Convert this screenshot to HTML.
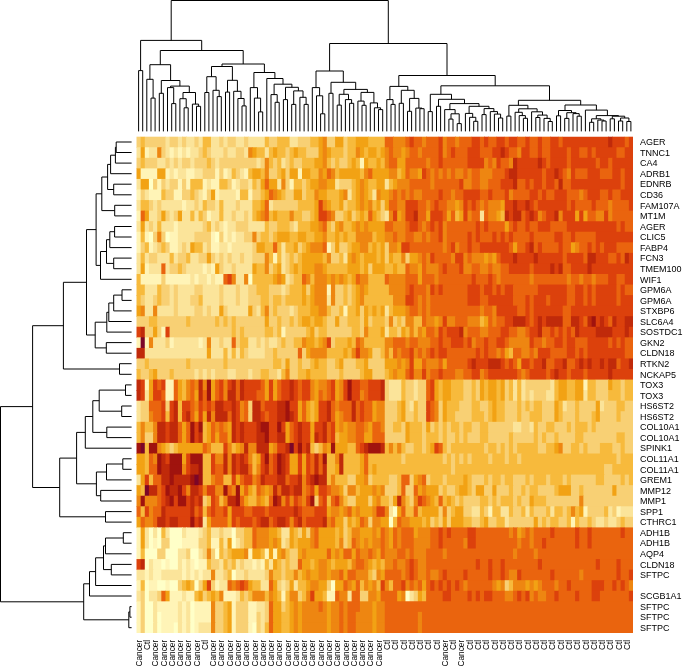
<!DOCTYPE html>
<html><head><meta charset="utf-8"><title>Heatmap</title>
<style>html,body{margin:0;padding:0;background:#fff}svg{display:block}text{font-family:"Liberation Sans",Arial,Helvetica,sans-serif;fill:#000}.a{fill:#FFFFC8}.b{fill:#FFF4B7}.c{fill:#FBE49A}.d{fill:#F8D074}.e{fill:#F7BA3C}.f{fill:#F2A214}.g{fill:#EE8611}.h{fill:#EA640E}.i{fill:#DC410C}.j{fill:#C02A0A}.k{fill:#A0130E}.l{fill:#7B0628}</style></head>
<body>
<svg width="685" height="666" viewBox="0 0 685 666">
<rect width="685" height="666" fill="#fff"/>
<g>
<path class="d" d="M136.5 136.7H141V148H136.5z"/>
<path class="e" d="M140.64 136.7H145V148H140.64z"/>
<path class="d" d="M144.78 136.7H166V148H144.78z"/>
<path class="c" d="M165.46 136.7H170V148H165.46z"/>
<path class="d" d="M169.6 136.7H178V148H169.6z"/>
<path class="c" d="M177.88 136.7H183V148H177.88z"/>
<path class="d" d="M182.01 136.7H187V148H182.01z"/>
<path class="c" d="M186.15 136.7H195V148H186.15z"/>
<path class="d" d="M194.43 136.7H199V148H194.43z"/>
<path class="c" d="M198.56 136.7H203V148H198.56z"/>
<path class="e" d="M202.7 136.7H211V148H202.7z"/>
<path class="c" d="M210.98 136.7H220V148H210.98z"/>
<path class="d" d="M219.25 136.7H224V148H219.25z"/>
<path class="c" d="M223.39 136.7H228V148H223.39z"/>
<path class="d" d="M227.53 136.7H236V148H227.53z"/>
<path class="c" d="M235.8 136.7H245V148H235.8z"/>
<path class="d" d="M244.07 136.7H249V148H244.07z"/>
<path class="c" d="M248.21 136.7H265V148H248.21z"/>
<path class="e" d="M264.76 136.7H269V148H264.76z"/>
<path class="d" d="M268.9 136.7H278V148H268.9z"/>
<path class="e" d="M277.18 136.7H290V148H277.18z"/>
<path class="c" d="M289.59 136.7H298V148H289.59z"/>
<path class="d" d="M297.86 136.7H311V148H297.86z"/>
<path class="e" d="M310.27 136.7H319V148H310.27z"/>
<path class="f" d="M318.55 136.7H323V148H318.55z"/>
<path class="g" d="M322.69 136.7H327V148H322.69z"/>
<path class="d" d="M326.83 136.7H336V148H326.83z"/>
<path class="f" d="M335.1 136.7H344V148H335.1z"/>
<path class="d" d="M343.38 136.7H348V148H343.38z"/>
<path class="e" d="M347.51 136.7H356V148H347.51z"/>
<path class="f" d="M355.79 136.7H369V148H355.79z"/>
<path class="e" d="M368.2 136.7H385V148H368.2z"/>
<path class="h" d="M384.75 136.7H394V148H384.75z"/>
<path class="g" d="M393.03 136.7H406V148H393.03z"/>
<path class="h" d="M405.44 136.7H410V148H405.44z"/>
<path class="i" d="M409.57 136.7H414V148H409.57z"/>
<path class="h" d="M413.71 136.7H422V148H413.71z"/>
<path class="g" d="M421.99 136.7H427V148H421.99z"/>
<path class="h" d="M426.12 136.7H439V148H426.12z"/>
<path class="i" d="M438.54 136.7H443V148H438.54z"/>
<path class="g" d="M442.68 136.7H447V148H442.68z"/>
<path class="h" d="M446.81 136.7H456V148H446.81z"/>
<path class="g" d="M455.09 136.7H460V148H455.09z"/>
<path class="h" d="M459.23 136.7H472V148H459.23z"/>
<path class="i" d="M471.64 136.7H480V148H471.64z"/>
<path class="h" d="M479.91 136.7H485V148H479.91z"/>
<path class="i" d="M484.05 136.7H489V148H484.05z"/>
<path class="h" d="M488.19 136.7H497V148H488.19z"/>
<path class="i" d="M496.46 136.7H505V148H496.46z"/>
<path class="h" d="M504.74 136.7H509V148H504.74z"/>
<path class="i" d="M508.88 136.7H518V148H508.88z"/>
<path class="h" d="M517.15 136.7H526V148H517.15z"/>
<path class="i" d="M525.42 136.7H530V148H525.42z"/>
<path class="h" d="M529.56 136.7H538V148H529.56z"/>
<path class="i" d="M537.84 136.7H542V148H537.84z"/>
<path class="h" d="M541.98 136.7H551V148H541.98z"/>
<path class="i" d="M550.25 136.7H559V148H550.25z"/>
<path class="h" d="M558.53 136.7H563V148H558.53z"/>
<path class="i" d="M562.66 136.7H609V148H562.66z"/>
<path class="j" d="M608.17 136.7H613V148H608.17z"/>
<path class="i" d="M612.31 136.7H625V148H612.31z"/>
<path class="h" d="M624.73 136.7H629V148H624.73z"/>
<path class="i" d="M628.86 136.7H633V148H628.86z"/>
<path class="c" d="M136.5 147.26H141V158H136.5z"/>
<path class="f" d="M140.64 147.26H145V158H140.64z"/>
<path class="b" d="M144.78 147.26H149V158H144.78z"/>
<path class="c" d="M148.91 147.26H158V158H148.91z"/>
<path class="g" d="M157.19 147.26H162V158H157.19z"/>
<path class="d" d="M161.32 147.26H166V158H161.32z"/>
<path class="c" d="M165.46 147.26H170V158H165.46z"/>
<path class="b" d="M169.6 147.26H174V158H169.6z"/>
<path class="c" d="M173.74 147.26H178V158H173.74z"/>
<path class="b" d="M177.88 147.26H183V158H177.88z"/>
<path class="c" d="M182.01 147.26H187V158H182.01z"/>
<path class="b" d="M186.15 147.26H191V158H186.15z"/>
<path class="c" d="M190.29 147.26H199V158H190.29z"/>
<path class="d" d="M198.56 147.26H203V158H198.56z"/>
<path class="e" d="M202.7 147.26H207V158H202.7z"/>
<path class="d" d="M206.84 147.26H211V158H206.84z"/>
<path class="c" d="M210.98 147.26H224V158H210.98z"/>
<path class="d" d="M223.39 147.26H228V158H223.39z"/>
<path class="c" d="M227.53 147.26H236V158H227.53z"/>
<path class="d" d="M235.8 147.26H245V158H235.8z"/>
<path class="c" d="M244.07 147.26H249V158H244.07z"/>
<path class="g" d="M248.21 147.26H253V158H248.21z"/>
<path class="f" d="M252.35 147.26H257V158H252.35z"/>
<path class="e" d="M256.49 147.26H265V158H256.49z"/>
<path class="c" d="M264.76 147.26H269V158H264.76z"/>
<path class="e" d="M268.9 147.26H274V158H268.9z"/>
<path class="f" d="M273.04 147.26H278V158H273.04z"/>
<path class="e" d="M277.18 147.26H286V158H277.18z"/>
<path class="d" d="M285.45 147.26H290V158H285.45z"/>
<path class="e" d="M289.59 147.26H294V158H289.59z"/>
<path class="f" d="M293.73 147.26H298V158H293.73z"/>
<path class="e" d="M297.86 147.26H307V158H297.86z"/>
<path class="d" d="M306.14 147.26H319V158H306.14z"/>
<path class="f" d="M318.55 147.26H323V158H318.55z"/>
<path class="g" d="M322.69 147.26H327V158H322.69z"/>
<path class="f" d="M326.83 147.26H331V158H326.83z"/>
<path class="e" d="M330.96 147.26H344V158H330.96z"/>
<path class="d" d="M343.38 147.26H348V158H343.38z"/>
<path class="e" d="M347.51 147.26H356V158H347.51z"/>
<path class="g" d="M355.79 147.26H360V158H355.79z"/>
<path class="f" d="M359.93 147.26H365V158H359.93z"/>
<path class="e" d="M364.06 147.26H369V158H364.06z"/>
<path class="f" d="M368.2 147.26H377V158H368.2z"/>
<path class="e" d="M376.48 147.26H381V158H376.48z"/>
<path class="f" d="M380.61 147.26H385V158H380.61z"/>
<path class="g" d="M384.75 147.26H389V158H384.75z"/>
<path class="h" d="M388.89 147.26H394V158H388.89z"/>
<path class="g" d="M393.03 147.26H402V158H393.03z"/>
<path class="f" d="M401.3 147.26H406V158H401.3z"/>
<path class="g" d="M405.44 147.26H410V158H405.44z"/>
<path class="h" d="M409.57 147.26H418V158H409.57z"/>
<path class="g" d="M417.85 147.26H422V158H417.85z"/>
<path class="h" d="M421.99 147.26H439V158H421.99z"/>
<path class="i" d="M438.54 147.26H443V158H438.54z"/>
<path class="g" d="M442.68 147.26H447V158H442.68z"/>
<path class="h" d="M446.81 147.26H451V158H446.81z"/>
<path class="i" d="M450.95 147.26H456V158H450.95z"/>
<path class="h" d="M455.09 147.26H468V158H455.09z"/>
<path class="i" d="M467.5 147.26H480V158H467.5z"/>
<path class="h" d="M479.91 147.26H493V158H479.91z"/>
<path class="i" d="M492.32 147.26H501V158H492.32z"/>
<path class="j" d="M500.6 147.26H505V158H500.6z"/>
<path class="i" d="M504.74 147.26H509V158H504.74z"/>
<path class="h" d="M508.88 147.26H518V158H508.88z"/>
<path class="g" d="M517.15 147.26H522V158H517.15z"/>
<path class="i" d="M521.29 147.26H530V158H521.29z"/>
<path class="h" d="M529.56 147.26H538V158H529.56z"/>
<path class="i" d="M537.84 147.26H542V158H537.84z"/>
<path class="h" d="M541.98 147.26H551V158H541.98z"/>
<path class="i" d="M550.25 147.26H567V158H550.25z"/>
<path class="h" d="M566.8 147.26H571V158H566.8z"/>
<path class="i" d="M570.94 147.26H580V158H570.94z"/>
<path class="h" d="M579.21 147.26H588V158H579.21z"/>
<path class="i" d="M587.49 147.26H592V158H587.49z"/>
<path class="h" d="M591.62 147.26H596V158H591.62z"/>
<path class="i" d="M595.76 147.26H617V158H595.76z"/>
<path class="h" d="M616.45 147.26H625V158H616.45z"/>
<path class="i" d="M624.73 147.26H633V158H624.73z"/>
<path class="d" d="M136.5 157.82H141V169H136.5z"/>
<path class="e" d="M140.64 157.82H145V169H140.64z"/>
<path class="d" d="M144.78 157.82H158V169H144.78z"/>
<path class="c" d="M157.19 157.82H166V169H157.19z"/>
<path class="d" d="M165.46 157.82H170V169H165.46z"/>
<path class="c" d="M169.6 157.82H174V169H169.6z"/>
<path class="d" d="M173.74 157.82H178V169H173.74z"/>
<path class="c" d="M177.88 157.82H183V169H177.88z"/>
<path class="d" d="M182.01 157.82H191V169H182.01z"/>
<path class="c" d="M190.29 157.82H195V169H190.29z"/>
<path class="d" d="M194.43 157.82H207V169H194.43z"/>
<path class="e" d="M206.84 157.82H211V169H206.84z"/>
<path class="d" d="M210.98 157.82H216V169H210.98z"/>
<path class="c" d="M215.11 157.82H220V169H215.11z"/>
<path class="d" d="M219.25 157.82H257V169H219.25z"/>
<path class="c" d="M256.49 157.82H261V169H256.49z"/>
<path class="d" d="M260.62 157.82H265V169H260.62z"/>
<path class="g" d="M264.76 157.82H269V169H264.76z"/>
<path class="e" d="M268.9 157.82H274V169H268.9z"/>
<path class="d" d="M273.04 157.82H278V169H273.04z"/>
<path class="e" d="M277.18 157.82H282V169H277.18z"/>
<path class="c" d="M281.31 157.82H286V169H281.31z"/>
<path class="d" d="M285.45 157.82H290V169H285.45z"/>
<path class="e" d="M289.59 157.82H294V169H289.59z"/>
<path class="d" d="M293.73 157.82H302V169H293.73z"/>
<path class="e" d="M302 157.82H315V169H302z"/>
<path class="f" d="M314.41 157.82H323V169H314.41z"/>
<path class="g" d="M322.69 157.82H327V169H322.69z"/>
<path class="e" d="M326.83 157.82H331V169H326.83z"/>
<path class="d" d="M330.96 157.82H336V169H330.96z"/>
<path class="e" d="M335.1 157.82H340V169H335.1z"/>
<path class="d" d="M339.24 157.82H348V169H339.24z"/>
<path class="e" d="M347.51 157.82H352V169H347.51z"/>
<path class="f" d="M351.65 157.82H356V169H351.65z"/>
<path class="e" d="M355.79 157.82H360V169H355.79z"/>
<path class="b" d="M359.93 157.82H365V169H359.93z"/>
<path class="f" d="M364.06 157.82H369V169H364.06z"/>
<path class="e" d="M368.2 157.82H377V169H368.2z"/>
<path class="f" d="M376.48 157.82H381V169H376.48z"/>
<path class="e" d="M380.61 157.82H385V169H380.61z"/>
<path class="g" d="M384.75 157.82H389V169H384.75z"/>
<path class="h" d="M388.89 157.82H398V169H388.89z"/>
<path class="f" d="M397.16 157.82H406V169H397.16z"/>
<path class="h" d="M405.44 157.82H427V169H405.44z"/>
<path class="g" d="M426.12 157.82H431V169H426.12z"/>
<path class="h" d="M430.26 157.82H439V169H430.26z"/>
<path class="i" d="M438.54 157.82H443V169H438.54z"/>
<path class="h" d="M442.68 157.82H468V169H442.68z"/>
<path class="i" d="M467.5 157.82H485V169H467.5z"/>
<path class="g" d="M484.05 157.82H489V169H484.05z"/>
<path class="h" d="M488.19 157.82H493V169H488.19z"/>
<path class="g" d="M492.32 157.82H497V169H492.32z"/>
<path class="i" d="M496.46 157.82H501V169H496.46z"/>
<path class="h" d="M500.6 157.82H509V169H500.6z"/>
<path class="g" d="M508.88 157.82H514V169H508.88z"/>
<path class="j" d="M513.01 157.82H518V169H513.01z"/>
<path class="i" d="M517.15 157.82H538V169H517.15z"/>
<path class="j" d="M537.84 157.82H542V169H537.84z"/>
<path class="i" d="M541.98 157.82H547V169H541.98z"/>
<path class="h" d="M546.11 157.82H551V169H546.11z"/>
<path class="i" d="M550.25 157.82H567V169H550.25z"/>
<path class="h" d="M566.8 157.82H571V169H566.8z"/>
<path class="i" d="M570.94 157.82H596V169H570.94z"/>
<path class="h" d="M595.76 157.82H600V169H595.76z"/>
<path class="i" d="M599.9 157.82H609V169H599.9z"/>
<path class="h" d="M608.17 157.82H613V169H608.17z"/>
<path class="i" d="M612.31 157.82H633V169H612.31z"/>
<path class="f" d="M136.5 168.38H141V179H136.5z"/>
<path class="b" d="M140.64 168.38H158V179H140.64z"/>
<path class="f" d="M157.19 168.38H166V179H157.19z"/>
<path class="b" d="M165.46 168.38H170V179H165.46z"/>
<path class="c" d="M169.6 168.38H174V179H169.6z"/>
<path class="b" d="M173.74 168.38H178V179H173.74z"/>
<path class="c" d="M177.88 168.38H187V179H177.88z"/>
<path class="b" d="M186.15 168.38H195V179H186.15z"/>
<path class="c" d="M194.43 168.38H203V179H194.43z"/>
<path class="d" d="M202.7 168.38H216V179H202.7z"/>
<path class="b" d="M215.11 168.38H220V179H215.11z"/>
<path class="d" d="M219.25 168.38H224V179H219.25z"/>
<path class="b" d="M223.39 168.38H228V179H223.39z"/>
<path class="c" d="M227.53 168.38H232V179H227.53z"/>
<path class="e" d="M231.66 168.38H236V179H231.66z"/>
<path class="d" d="M235.8 168.38H240V179H235.8z"/>
<path class="c" d="M239.94 168.38H245V179H239.94z"/>
<path class="b" d="M244.07 168.38H249V179H244.07z"/>
<path class="e" d="M248.21 168.38H253V179H248.21z"/>
<path class="f" d="M252.35 168.38H261V179H252.35z"/>
<path class="e" d="M260.62 168.38H265V179H260.62z"/>
<path class="g" d="M264.76 168.38H269V179H264.76z"/>
<path class="d" d="M268.9 168.38H278V179H268.9z"/>
<path class="e" d="M277.18 168.38H282V179H277.18z"/>
<path class="f" d="M281.31 168.38H286V179H281.31z"/>
<path class="d" d="M285.45 168.38H290V179H285.45z"/>
<path class="f" d="M289.59 168.38H298V179H289.59z"/>
<path class="b" d="M297.86 168.38H302V179H297.86z"/>
<path class="f" d="M302 168.38H311V179H302z"/>
<path class="e" d="M310.27 168.38H319V179H310.27z"/>
<path class="g" d="M318.55 168.38H323V179H318.55z"/>
<path class="f" d="M322.69 168.38H327V179H322.69z"/>
<path class="h" d="M326.83 168.38H331V179H326.83z"/>
<path class="g" d="M330.96 168.38H336V179H330.96z"/>
<path class="e" d="M335.1 168.38H340V179H335.1z"/>
<path class="f" d="M339.24 168.38H360V179H339.24z"/>
<path class="e" d="M359.93 168.38H365V179H359.93z"/>
<path class="g" d="M364.06 168.38H369V179H364.06z"/>
<path class="h" d="M368.2 168.38H373V179H368.2z"/>
<path class="f" d="M372.34 168.38H389V179H372.34z"/>
<path class="g" d="M388.89 168.38H398V179H388.89z"/>
<path class="e" d="M397.16 168.38H402V179H397.16z"/>
<path class="f" d="M401.3 168.38H406V179H401.3z"/>
<path class="h" d="M405.44 168.38H410V179H405.44z"/>
<path class="g" d="M409.57 168.38H418V179H409.57z"/>
<path class="f" d="M417.85 168.38H422V179H417.85z"/>
<path class="i" d="M421.99 168.38H427V179H421.99z"/>
<path class="h" d="M426.12 168.38H431V179H426.12z"/>
<path class="g" d="M430.26 168.38H435V179H430.26z"/>
<path class="h" d="M434.4 168.38H439V179H434.4z"/>
<path class="g" d="M438.54 168.38H443V179H438.54z"/>
<path class="h" d="M442.68 168.38H447V179H442.68z"/>
<path class="g" d="M446.81 168.38H451V179H446.81z"/>
<path class="h" d="M450.95 168.38H456V179H450.95z"/>
<path class="g" d="M455.09 168.38H464V179H455.09z"/>
<path class="h" d="M463.36 168.38H468V179H463.36z"/>
<path class="g" d="M467.5 168.38H472V179H467.5z"/>
<path class="h" d="M471.64 168.38H480V179H471.64z"/>
<path class="g" d="M479.91 168.38H493V179H479.91z"/>
<path class="h" d="M492.32 168.38H505V179H492.32z"/>
<path class="i" d="M504.74 168.38H509V179H504.74z"/>
<path class="j" d="M508.88 168.38H518V179H508.88z"/>
<path class="i" d="M517.15 168.38H542V179H517.15z"/>
<path class="h" d="M541.98 168.38H547V179H541.98z"/>
<path class="i" d="M546.11 168.38H555V179H546.11z"/>
<path class="j" d="M554.39 168.38H559V179H554.39z"/>
<path class="i" d="M558.53 168.38H563V179H558.53z"/>
<path class="h" d="M562.66 168.38H567V179H562.66z"/>
<path class="g" d="M566.8 168.38H571V179H566.8z"/>
<path class="i" d="M570.94 168.38H576V179H570.94z"/>
<path class="h" d="M575.08 168.38H588V179H575.08z"/>
<path class="i" d="M587.49 168.38H600V179H587.49z"/>
<path class="h" d="M599.9 168.38H613V179H599.9z"/>
<path class="i" d="M612.31 168.38H621V179H612.31z"/>
<path class="h" d="M620.59 168.38H625V179H620.59z"/>
<path class="i" d="M624.73 168.38H633V179H624.73z"/>
<path class="c" d="M136.5 178.94H141V190H136.5z"/>
<path class="f" d="M140.64 178.94H149V190H140.64z"/>
<path class="a" d="M148.91 178.94H154V190H148.91z"/>
<path class="d" d="M153.05 178.94H158V190H153.05z"/>
<path class="b" d="M157.19 178.94H162V190H157.19z"/>
<path class="d" d="M161.32 178.94H166V190H161.32z"/>
<path class="c" d="M165.46 178.94H170V190H165.46z"/>
<path class="d" d="M169.6 178.94H178V190H169.6z"/>
<path class="b" d="M177.88 178.94H183V190H177.88z"/>
<path class="d" d="M182.01 178.94H187V190H182.01z"/>
<path class="b" d="M186.15 178.94H191V190H186.15z"/>
<path class="e" d="M190.29 178.94H203V190H190.29z"/>
<path class="b" d="M202.7 178.94H207V190H202.7z"/>
<path class="c" d="M206.84 178.94H211V190H206.84z"/>
<path class="b" d="M210.98 178.94H220V190H210.98z"/>
<path class="e" d="M219.25 178.94H228V190H219.25z"/>
<path class="d" d="M227.53 178.94H232V190H227.53z"/>
<path class="b" d="M231.66 178.94H236V190H231.66z"/>
<path class="c" d="M235.8 178.94H240V190H235.8z"/>
<path class="d" d="M239.94 178.94H249V190H239.94z"/>
<path class="c" d="M248.21 178.94H253V190H248.21z"/>
<path class="e" d="M252.35 178.94H257V190H252.35z"/>
<path class="d" d="M256.49 178.94H261V190H256.49z"/>
<path class="f" d="M260.62 178.94H265V190H260.62z"/>
<path class="h" d="M264.76 178.94H269V190H264.76z"/>
<path class="f" d="M268.9 178.94H278V190H268.9z"/>
<path class="c" d="M277.18 178.94H282V190H277.18z"/>
<path class="g" d="M281.31 178.94H286V190H281.31z"/>
<path class="d" d="M285.45 178.94H290V190H285.45z"/>
<path class="b" d="M289.59 178.94H294V190H289.59z"/>
<path class="e" d="M293.73 178.94H302V190H293.73z"/>
<path class="d" d="M302 178.94H307V190H302z"/>
<path class="e" d="M306.14 178.94H311V190H306.14z"/>
<path class="f" d="M310.27 178.94H319V190H310.27z"/>
<path class="g" d="M318.55 178.94H327V190H318.55z"/>
<path class="f" d="M326.83 178.94H336V190H326.83z"/>
<path class="c" d="M335.1 178.94H340V190H335.1z"/>
<path class="d" d="M339.24 178.94H352V190H339.24z"/>
<path class="e" d="M351.65 178.94H356V190H351.65z"/>
<path class="f" d="M355.79 178.94H360V190H355.79z"/>
<path class="g" d="M359.93 178.94H365V190H359.93z"/>
<path class="f" d="M364.06 178.94H369V190H364.06z"/>
<path class="e" d="M368.2 178.94H377V190H368.2z"/>
<path class="f" d="M376.48 178.94H385V190H376.48z"/>
<path class="c" d="M384.75 178.94H389V190H384.75z"/>
<path class="e" d="M388.89 178.94H394V190H388.89z"/>
<path class="f" d="M393.03 178.94H398V190H393.03z"/>
<path class="g" d="M397.16 178.94H410V190H397.16z"/>
<path class="h" d="M409.57 178.94H431V190H409.57z"/>
<path class="g" d="M430.26 178.94H435V190H430.26z"/>
<path class="h" d="M434.4 178.94H460V190H434.4z"/>
<path class="i" d="M459.23 178.94H464V190H459.23z"/>
<path class="g" d="M463.36 178.94H472V190H463.36z"/>
<path class="h" d="M471.64 178.94H480V190H471.64z"/>
<path class="g" d="M479.91 178.94H489V190H479.91z"/>
<path class="h" d="M488.19 178.94H501V190H488.19z"/>
<path class="i" d="M500.6 178.94H514V190H500.6z"/>
<path class="j" d="M513.01 178.94H518V190H513.01z"/>
<path class="h" d="M517.15 178.94H526V190H517.15z"/>
<path class="i" d="M525.42 178.94H530V190H525.42z"/>
<path class="h" d="M529.56 178.94H534V190H529.56z"/>
<path class="i" d="M533.7 178.94H542V190H533.7z"/>
<path class="h" d="M541.98 178.94H547V190H541.98z"/>
<path class="i" d="M546.11 178.94H555V190H546.11z"/>
<path class="h" d="M554.39 178.94H559V190H554.39z"/>
<path class="j" d="M558.53 178.94H563V190H558.53z"/>
<path class="h" d="M562.66 178.94H571V190H562.66z"/>
<path class="i" d="M570.94 178.94H621V190H570.94z"/>
<path class="h" d="M620.59 178.94H625V190H620.59z"/>
<path class="i" d="M624.73 178.94H633V190H624.73z"/>
<path class="b" d="M136.5 189.5H141V201H136.5z"/>
<path class="d" d="M140.64 189.5H145V201H140.64z"/>
<path class="c" d="M144.78 189.5H149V201H144.78z"/>
<path class="b" d="M148.91 189.5H162V201H148.91z"/>
<path class="e" d="M161.32 189.5H166V201H161.32z"/>
<path class="d" d="M165.46 189.5H174V201H165.46z"/>
<path class="b" d="M173.74 189.5H183V201H173.74z"/>
<path class="d" d="M182.01 189.5H191V201H182.01z"/>
<path class="e" d="M190.29 189.5H195V201H190.29z"/>
<path class="d" d="M194.43 189.5H199V201H194.43z"/>
<path class="c" d="M198.56 189.5H203V201H198.56z"/>
<path class="b" d="M202.7 189.5H207V201H202.7z"/>
<path class="d" d="M206.84 189.5H211V201H206.84z"/>
<path class="f" d="M210.98 189.5H216V201H210.98z"/>
<path class="b" d="M215.11 189.5H220V201H215.11z"/>
<path class="c" d="M219.25 189.5H236V201H219.25z"/>
<path class="b" d="M235.8 189.5H240V201H235.8z"/>
<path class="e" d="M239.94 189.5H249V201H239.94z"/>
<path class="b" d="M248.21 189.5H253V201H248.21z"/>
<path class="d" d="M252.35 189.5H261V201H252.35z"/>
<path class="e" d="M260.62 189.5H265V201H260.62z"/>
<path class="f" d="M264.76 189.5H269V201H264.76z"/>
<path class="h" d="M268.9 189.5H274V201H268.9z"/>
<path class="g" d="M273.04 189.5H278V201H273.04z"/>
<path class="f" d="M277.18 189.5H282V201H277.18z"/>
<path class="e" d="M281.31 189.5H286V201H281.31z"/>
<path class="d" d="M285.45 189.5H294V201H285.45z"/>
<path class="f" d="M293.73 189.5H302V201H293.73z"/>
<path class="d" d="M302 189.5H307V201H302z"/>
<path class="e" d="M306.14 189.5H315V201H306.14z"/>
<path class="g" d="M314.41 189.5H319V201H314.41z"/>
<path class="f" d="M318.55 189.5H327V201H318.55z"/>
<path class="e" d="M326.83 189.5H340V201H326.83z"/>
<path class="f" d="M339.24 189.5H344V201H339.24z"/>
<path class="g" d="M343.38 189.5H348V201H343.38z"/>
<path class="c" d="M347.51 189.5H352V201H347.51z"/>
<path class="e" d="M351.65 189.5H356V201H351.65z"/>
<path class="f" d="M355.79 189.5H360V201H355.79z"/>
<path class="g" d="M359.93 189.5H365V201H359.93z"/>
<path class="f" d="M364.06 189.5H369V201H364.06z"/>
<path class="e" d="M368.2 189.5H373V201H368.2z"/>
<path class="c" d="M372.34 189.5H377V201H372.34z"/>
<path class="g" d="M376.48 189.5H381V201H376.48z"/>
<path class="f" d="M380.61 189.5H389V201H380.61z"/>
<path class="g" d="M388.89 189.5H394V201H388.89z"/>
<path class="h" d="M393.03 189.5H398V201H393.03z"/>
<path class="g" d="M397.16 189.5H402V201H397.16z"/>
<path class="h" d="M401.3 189.5H406V201H401.3z"/>
<path class="g" d="M405.44 189.5H410V201H405.44z"/>
<path class="h" d="M409.57 189.5H414V201H409.57z"/>
<path class="g" d="M413.71 189.5H422V201H413.71z"/>
<path class="h" d="M421.99 189.5H439V201H421.99z"/>
<path class="i" d="M438.54 189.5H443V201H438.54z"/>
<path class="h" d="M442.68 189.5H451V201H442.68z"/>
<path class="g" d="M450.95 189.5H456V201H450.95z"/>
<path class="h" d="M455.09 189.5H464V201H455.09z"/>
<path class="i" d="M463.36 189.5H480V201H463.36z"/>
<path class="h" d="M479.91 189.5H489V201H479.91z"/>
<path class="i" d="M488.19 189.5H493V201H488.19z"/>
<path class="h" d="M492.32 189.5H505V201H492.32z"/>
<path class="i" d="M504.74 189.5H509V201H504.74z"/>
<path class="g" d="M508.88 189.5H514V201H508.88z"/>
<path class="h" d="M513.01 189.5H530V201H513.01z"/>
<path class="i" d="M529.56 189.5H538V201H529.56z"/>
<path class="h" d="M537.84 189.5H542V201H537.84z"/>
<path class="i" d="M541.98 189.5H547V201H541.98z"/>
<path class="h" d="M546.11 189.5H555V201H546.11z"/>
<path class="i" d="M554.39 189.5H567V201H554.39z"/>
<path class="h" d="M566.8 189.5H580V201H566.8z"/>
<path class="g" d="M579.21 189.5H584V201H579.21z"/>
<path class="h" d="M583.35 189.5H588V201H583.35z"/>
<path class="i" d="M587.49 189.5H600V201H587.49z"/>
<path class="h" d="M599.9 189.5H609V201H599.9z"/>
<path class="i" d="M608.17 189.5H613V201H608.17z"/>
<path class="h" d="M612.31 189.5H621V201H612.31z"/>
<path class="i" d="M620.59 189.5H633V201H620.59z"/>
<path class="c" d="M136.5 200.06H141V211H136.5z"/>
<path class="e" d="M140.64 200.06H149V211H140.64z"/>
<path class="d" d="M148.91 200.06H154V211H148.91z"/>
<path class="c" d="M153.05 200.06H158V211H153.05z"/>
<path class="d" d="M157.19 200.06H162V211H157.19z"/>
<path class="c" d="M161.32 200.06H183V211H161.32z"/>
<path class="b" d="M182.01 200.06H187V211H182.01z"/>
<path class="c" d="M186.15 200.06H195V211H186.15z"/>
<path class="d" d="M194.43 200.06H199V211H194.43z"/>
<path class="c" d="M198.56 200.06H203V211H198.56z"/>
<path class="e" d="M202.7 200.06H207V211H202.7z"/>
<path class="d" d="M206.84 200.06H216V211H206.84z"/>
<path class="c" d="M215.11 200.06H220V211H215.11z"/>
<path class="e" d="M219.25 200.06H224V211H219.25z"/>
<path class="c" d="M223.39 200.06H236V211H223.39z"/>
<path class="d" d="M235.8 200.06H240V211H235.8z"/>
<path class="c" d="M239.94 200.06H253V211H239.94z"/>
<path class="e" d="M252.35 200.06H261V211H252.35z"/>
<path class="f" d="M260.62 200.06H265V211H260.62z"/>
<path class="h" d="M264.76 200.06H269V211H264.76z"/>
<path class="c" d="M268.9 200.06H274V211H268.9z"/>
<path class="d" d="M273.04 200.06H298V211H273.04z"/>
<path class="e" d="M297.86 200.06H315V211H297.86z"/>
<path class="f" d="M314.41 200.06H319V211H314.41z"/>
<path class="i" d="M318.55 200.06H323V211H318.55z"/>
<path class="g" d="M322.69 200.06H327V211H322.69z"/>
<path class="f" d="M326.83 200.06H331V211H326.83z"/>
<path class="e" d="M330.96 200.06H340V211H330.96z"/>
<path class="f" d="M339.24 200.06H344V211H339.24z"/>
<path class="d" d="M343.38 200.06H348V211H343.38z"/>
<path class="e" d="M347.51 200.06H356V211H347.51z"/>
<path class="f" d="M355.79 200.06H360V211H355.79z"/>
<path class="g" d="M359.93 200.06H365V211H359.93z"/>
<path class="f" d="M364.06 200.06H369V211H364.06z"/>
<path class="g" d="M368.2 200.06H373V211H368.2z"/>
<path class="e" d="M372.34 200.06H377V211H372.34z"/>
<path class="f" d="M376.48 200.06H381V211H376.48z"/>
<path class="d" d="M380.61 200.06H385V211H380.61z"/>
<path class="f" d="M384.75 200.06H389V211H384.75z"/>
<path class="h" d="M388.89 200.06H398V211H388.89z"/>
<path class="g" d="M397.16 200.06H406V211H397.16z"/>
<path class="i" d="M405.44 200.06H418V211H405.44z"/>
<path class="h" d="M417.85 200.06H427V211H417.85z"/>
<path class="g" d="M426.12 200.06H431V211H426.12z"/>
<path class="h" d="M430.26 200.06H435V211H430.26z"/>
<path class="i" d="M434.4 200.06H439V211H434.4z"/>
<path class="h" d="M438.54 200.06H447V211H438.54z"/>
<path class="g" d="M446.81 200.06H456V211H446.81z"/>
<path class="f" d="M455.09 200.06H460V211H455.09z"/>
<path class="g" d="M459.23 200.06H464V211H459.23z"/>
<path class="i" d="M463.36 200.06H468V211H463.36z"/>
<path class="h" d="M467.5 200.06H472V211H467.5z"/>
<path class="i" d="M471.64 200.06H476V211H471.64z"/>
<path class="h" d="M475.78 200.06H480V211H475.78z"/>
<path class="g" d="M479.91 200.06H485V211H479.91z"/>
<path class="h" d="M484.05 200.06H489V211H484.05z"/>
<path class="g" d="M488.19 200.06H501V211H488.19z"/>
<path class="f" d="M500.6 200.06H505V211H500.6z"/>
<path class="i" d="M504.74 200.06H514V211H504.74z"/>
<path class="j" d="M513.01 200.06H518V211H513.01z"/>
<path class="i" d="M517.15 200.06H526V211H517.15z"/>
<path class="j" d="M525.42 200.06H530V211H525.42z"/>
<path class="i" d="M529.56 200.06H534V211H529.56z"/>
<path class="h" d="M533.7 200.06H538V211H533.7z"/>
<path class="i" d="M537.84 200.06H567V211H537.84z"/>
<path class="h" d="M566.8 200.06H571V211H566.8z"/>
<path class="i" d="M570.94 200.06H576V211H570.94z"/>
<path class="h" d="M575.08 200.06H592V211H575.08z"/>
<path class="i" d="M591.62 200.06H596V211H591.62z"/>
<path class="h" d="M595.76 200.06H609V211H595.76z"/>
<path class="g" d="M608.17 200.06H613V211H608.17z"/>
<path class="h" d="M612.31 200.06H629V211H612.31z"/>
<path class="i" d="M628.86 200.06H633V211H628.86z"/>
<path class="b" d="M136.5 210.62H141V222H136.5z"/>
<path class="h" d="M140.64 210.62H145V222H140.64z"/>
<path class="f" d="M144.78 210.62H149V222H144.78z"/>
<path class="c" d="M148.91 210.62H158V222H148.91z"/>
<path class="d" d="M157.19 210.62H162V222H157.19z"/>
<path class="f" d="M161.32 210.62H166V222H161.32z"/>
<path class="d" d="M165.46 210.62H170V222H165.46z"/>
<path class="c" d="M169.6 210.62H174V222H169.6z"/>
<path class="d" d="M173.74 210.62H178V222H173.74z"/>
<path class="f" d="M177.88 210.62H183V222H177.88z"/>
<path class="c" d="M182.01 210.62H191V222H182.01z"/>
<path class="e" d="M190.29 210.62H195V222H190.29z"/>
<path class="c" d="M194.43 210.62H199V222H194.43z"/>
<path class="e" d="M198.56 210.62H203V222H198.56z"/>
<path class="d" d="M202.7 210.62H207V222H202.7z"/>
<path class="b" d="M206.84 210.62H211V222H206.84z"/>
<path class="c" d="M210.98 210.62H220V222H210.98z"/>
<path class="e" d="M219.25 210.62H224V222H219.25z"/>
<path class="c" d="M223.39 210.62H232V222H223.39z"/>
<path class="d" d="M231.66 210.62H236V222H231.66z"/>
<path class="c" d="M235.8 210.62H245V222H235.8z"/>
<path class="d" d="M244.07 210.62H249V222H244.07z"/>
<path class="c" d="M248.21 210.62H253V222H248.21z"/>
<path class="e" d="M252.35 210.62H257V222H252.35z"/>
<path class="f" d="M256.49 210.62H261V222H256.49z"/>
<path class="g" d="M260.62 210.62H265V222H260.62z"/>
<path class="h" d="M264.76 210.62H269V222H264.76z"/>
<path class="e" d="M268.9 210.62H274V222H268.9z"/>
<path class="f" d="M273.04 210.62H278V222H273.04z"/>
<path class="e" d="M277.18 210.62H290V222H277.18z"/>
<path class="g" d="M289.59 210.62H294V222H289.59z"/>
<path class="e" d="M293.73 210.62H302V222H293.73z"/>
<path class="d" d="M302 210.62H311V222H302z"/>
<path class="e" d="M310.27 210.62H315V222H310.27z"/>
<path class="f" d="M314.41 210.62H319V222H314.41z"/>
<path class="i" d="M318.55 210.62H327V222H318.55z"/>
<path class="h" d="M326.83 210.62H331V222H326.83z"/>
<path class="g" d="M330.96 210.62H336V222H330.96z"/>
<path class="d" d="M335.1 210.62H344V222H335.1z"/>
<path class="e" d="M343.38 210.62H348V222H343.38z"/>
<path class="f" d="M347.51 210.62H352V222H347.51z"/>
<path class="d" d="M351.65 210.62H356V222H351.65z"/>
<path class="e" d="M355.79 210.62H360V222H355.79z"/>
<path class="f" d="M359.93 210.62H365V222H359.93z"/>
<path class="e" d="M364.06 210.62H369V222H364.06z"/>
<path class="h" d="M368.2 210.62H373V222H368.2z"/>
<path class="f" d="M372.34 210.62H377V222H372.34z"/>
<path class="e" d="M376.48 210.62H381V222H376.48z"/>
<path class="d" d="M380.61 210.62H385V222H380.61z"/>
<path class="c" d="M384.75 210.62H389V222H384.75z"/>
<path class="g" d="M388.89 210.62H394V222H388.89z"/>
<path class="i" d="M393.03 210.62H398V222H393.03z"/>
<path class="f" d="M397.16 210.62H402V222H397.16z"/>
<path class="g" d="M401.3 210.62H406V222H401.3z"/>
<path class="i" d="M405.44 210.62H414V222H405.44z"/>
<path class="j" d="M413.71 210.62H418V222H413.71z"/>
<path class="h" d="M417.85 210.62H427V222H417.85z"/>
<path class="f" d="M426.12 210.62H431V222H426.12z"/>
<path class="i" d="M430.26 210.62H443V222H430.26z"/>
<path class="h" d="M442.68 210.62H447V222H442.68z"/>
<path class="f" d="M446.81 210.62H451V222H446.81z"/>
<path class="h" d="M450.95 210.62H456V222H450.95z"/>
<path class="e" d="M455.09 210.62H460V222H455.09z"/>
<path class="f" d="M459.23 210.62H464V222H459.23z"/>
<path class="i" d="M463.36 210.62H468V222H463.36z"/>
<path class="g" d="M467.5 210.62H472V222H467.5z"/>
<path class="h" d="M471.64 210.62H480V222H471.64z"/>
<path class="c" d="M479.91 210.62H485V222H479.91z"/>
<path class="h" d="M484.05 210.62H489V222H484.05z"/>
<path class="g" d="M488.19 210.62H497V222H488.19z"/>
<path class="f" d="M496.46 210.62H501V222H496.46z"/>
<path class="e" d="M500.6 210.62H505V222H500.6z"/>
<path class="j" d="M504.74 210.62H509V222H504.74z"/>
<path class="i" d="M508.88 210.62H514V222H508.88z"/>
<path class="j" d="M513.01 210.62H522V222H513.01z"/>
<path class="h" d="M521.29 210.62H526V222H521.29z"/>
<path class="i" d="M525.42 210.62H530V222H525.42z"/>
<path class="j" d="M529.56 210.62H534V222H529.56z"/>
<path class="i" d="M533.7 210.62H538V222H533.7z"/>
<path class="g" d="M537.84 210.62H542V222H537.84z"/>
<path class="h" d="M541.98 210.62H547V222H541.98z"/>
<path class="i" d="M546.11 210.62H555V222H546.11z"/>
<path class="j" d="M554.39 210.62H559V222H554.39z"/>
<path class="g" d="M558.53 210.62H563V222H558.53z"/>
<path class="i" d="M562.66 210.62H576V222H562.66z"/>
<path class="f" d="M575.08 210.62H580V222H575.08z"/>
<path class="i" d="M579.21 210.62H584V222H579.21z"/>
<path class="f" d="M583.35 210.62H588V222H583.35z"/>
<path class="h" d="M587.49 210.62H596V222H587.49z"/>
<path class="g" d="M595.76 210.62H605V222H595.76z"/>
<path class="i" d="M604.04 210.62H609V222H604.04z"/>
<path class="g" d="M608.17 210.62H613V222H608.17z"/>
<path class="h" d="M612.31 210.62H633V222H612.31z"/>
<path class="c" d="M136.5 221.18H141V232H136.5z"/>
<path class="f" d="M140.64 221.18H145V232H140.64z"/>
<path class="c" d="M144.78 221.18H149V232H144.78z"/>
<path class="d" d="M148.91 221.18H154V232H148.91z"/>
<path class="c" d="M153.05 221.18H158V232H153.05z"/>
<path class="e" d="M157.19 221.18H162V232H157.19z"/>
<path class="c" d="M161.32 221.18H174V232H161.32z"/>
<path class="b" d="M173.74 221.18H178V232H173.74z"/>
<path class="c" d="M177.88 221.18H203V232H177.88z"/>
<path class="d" d="M202.7 221.18H207V232H202.7z"/>
<path class="e" d="M206.84 221.18H211V232H206.84z"/>
<path class="c" d="M210.98 221.18H216V232H210.98z"/>
<path class="d" d="M215.11 221.18H220V232H215.11z"/>
<path class="c" d="M219.25 221.18H224V232H219.25z"/>
<path class="b" d="M223.39 221.18H228V232H223.39z"/>
<path class="c" d="M227.53 221.18H236V232H227.53z"/>
<path class="d" d="M235.8 221.18H249V232H235.8z"/>
<path class="c" d="M248.21 221.18H265V232H248.21z"/>
<path class="e" d="M264.76 221.18H269V232H264.76z"/>
<path class="d" d="M268.9 221.18H278V232H268.9z"/>
<path class="e" d="M277.18 221.18H290V232H277.18z"/>
<path class="d" d="M289.59 221.18H294V232H289.59z"/>
<path class="c" d="M293.73 221.18H298V232H293.73z"/>
<path class="e" d="M297.86 221.18H311V232H297.86z"/>
<path class="f" d="M310.27 221.18H319V232H310.27z"/>
<path class="g" d="M318.55 221.18H323V232H318.55z"/>
<path class="h" d="M322.69 221.18H327V232H322.69z"/>
<path class="e" d="M326.83 221.18H331V232H326.83z"/>
<path class="d" d="M330.96 221.18H336V232H330.96z"/>
<path class="f" d="M335.1 221.18H340V232H335.1z"/>
<path class="g" d="M339.24 221.18H344V232H339.24z"/>
<path class="e" d="M343.38 221.18H352V232H343.38z"/>
<path class="f" d="M351.65 221.18H356V232H351.65z"/>
<path class="g" d="M355.79 221.18H360V232H355.79z"/>
<path class="f" d="M359.93 221.18H365V232H359.93z"/>
<path class="g" d="M364.06 221.18H369V232H364.06z"/>
<path class="f" d="M368.2 221.18H385V232H368.2z"/>
<path class="h" d="M384.75 221.18H394V232H384.75z"/>
<path class="g" d="M393.03 221.18H406V232H393.03z"/>
<path class="h" d="M405.44 221.18H410V232H405.44z"/>
<path class="i" d="M409.57 221.18H418V232H409.57z"/>
<path class="h" d="M417.85 221.18H422V232H417.85z"/>
<path class="g" d="M421.99 221.18H427V232H421.99z"/>
<path class="h" d="M426.12 221.18H431V232H426.12z"/>
<path class="i" d="M430.26 221.18H435V232H430.26z"/>
<path class="h" d="M434.4 221.18H439V232H434.4z"/>
<path class="i" d="M438.54 221.18H443V232H438.54z"/>
<path class="g" d="M442.68 221.18H447V232H442.68z"/>
<path class="h" d="M446.81 221.18H476V232H446.81z"/>
<path class="i" d="M475.78 221.18H480V232H475.78z"/>
<path class="h" d="M479.91 221.18H485V232H479.91z"/>
<path class="i" d="M484.05 221.18H489V232H484.05z"/>
<path class="h" d="M488.19 221.18H505V232H488.19z"/>
<path class="f" d="M504.74 221.18H509V232H504.74z"/>
<path class="h" d="M508.88 221.18H514V232H508.88z"/>
<path class="i" d="M513.01 221.18H518V232H513.01z"/>
<path class="h" d="M517.15 221.18H526V232H517.15z"/>
<path class="i" d="M525.42 221.18H530V232H525.42z"/>
<path class="h" d="M529.56 221.18H538V232H529.56z"/>
<path class="i" d="M537.84 221.18H551V232H537.84z"/>
<path class="h" d="M550.25 221.18H567V232H550.25z"/>
<path class="i" d="M566.8 221.18H617V232H566.8z"/>
<path class="h" d="M616.45 221.18H621V232H616.45z"/>
<path class="i" d="M620.59 221.18H625V232H620.59z"/>
<path class="h" d="M624.73 221.18H633V232H624.73z"/>
<path class="b" d="M136.5 231.74H141V243H136.5z"/>
<path class="e" d="M140.64 231.74H145V243H140.64z"/>
<path class="b" d="M144.78 231.74H149V243H144.78z"/>
<path class="a" d="M148.91 231.74H154V243H148.91z"/>
<path class="d" d="M153.05 231.74H158V243H153.05z"/>
<path class="g" d="M157.19 231.74H162V243H157.19z"/>
<path class="d" d="M161.32 231.74H166V243H161.32z"/>
<path class="a" d="M165.46 231.74H170V243H165.46z"/>
<path class="b" d="M169.6 231.74H178V243H169.6z"/>
<path class="c" d="M177.88 231.74H195V243H177.88z"/>
<path class="d" d="M194.43 231.74H211V243H194.43z"/>
<path class="b" d="M210.98 231.74H216V243H210.98z"/>
<path class="a" d="M215.11 231.74H220V243H215.11z"/>
<path class="d" d="M219.25 231.74H224V243H219.25z"/>
<path class="b" d="M223.39 231.74H228V243H223.39z"/>
<path class="c" d="M227.53 231.74H232V243H227.53z"/>
<path class="b" d="M231.66 231.74H236V243H231.66z"/>
<path class="c" d="M235.8 231.74H245V243H235.8z"/>
<path class="d" d="M244.07 231.74H253V243H244.07z"/>
<path class="g" d="M252.35 231.74H257V243H252.35z"/>
<path class="d" d="M256.49 231.74H261V243H256.49z"/>
<path class="e" d="M260.62 231.74H269V243H260.62z"/>
<path class="d" d="M268.9 231.74H274V243H268.9z"/>
<path class="e" d="M273.04 231.74H278V243H273.04z"/>
<path class="f" d="M277.18 231.74H290V243H277.18z"/>
<path class="e" d="M289.59 231.74H298V243H289.59z"/>
<path class="f" d="M297.86 231.74H307V243H297.86z"/>
<path class="e" d="M306.14 231.74H315V243H306.14z"/>
<path class="f" d="M314.41 231.74H323V243H314.41z"/>
<path class="g" d="M322.69 231.74H327V243H322.69z"/>
<path class="e" d="M326.83 231.74H336V243H326.83z"/>
<path class="f" d="M335.1 231.74H340V243H335.1z"/>
<path class="e" d="M339.24 231.74H344V243H339.24z"/>
<path class="f" d="M343.38 231.74H348V243H343.38z"/>
<path class="e" d="M347.51 231.74H356V243H347.51z"/>
<path class="g" d="M355.79 231.74H373V243H355.79z"/>
<path class="e" d="M372.34 231.74H377V243H372.34z"/>
<path class="f" d="M376.48 231.74H385V243H376.48z"/>
<path class="g" d="M384.75 231.74H394V243H384.75z"/>
<path class="h" d="M393.03 231.74H398V243H393.03z"/>
<path class="g" d="M397.16 231.74H406V243H397.16z"/>
<path class="h" d="M405.44 231.74H414V243H405.44z"/>
<path class="g" d="M413.71 231.74H422V243H413.71z"/>
<path class="h" d="M421.99 231.74H427V243H421.99z"/>
<path class="g" d="M426.12 231.74H431V243H426.12z"/>
<path class="h" d="M430.26 231.74H439V243H430.26z"/>
<path class="i" d="M438.54 231.74H443V243H438.54z"/>
<path class="g" d="M442.68 231.74H447V243H442.68z"/>
<path class="h" d="M446.81 231.74H468V243H446.81z"/>
<path class="i" d="M467.5 231.74H472V243H467.5z"/>
<path class="h" d="M471.64 231.74H476V243H471.64z"/>
<path class="i" d="M475.78 231.74H480V243H475.78z"/>
<path class="h" d="M479.91 231.74H493V243H479.91z"/>
<path class="i" d="M492.32 231.74H497V243H492.32z"/>
<path class="h" d="M496.46 231.74H501V243H496.46z"/>
<path class="i" d="M500.6 231.74H505V243H500.6z"/>
<path class="h" d="M504.74 231.74H509V243H504.74z"/>
<path class="i" d="M508.88 231.74H514V243H508.88z"/>
<path class="h" d="M513.01 231.74H530V243H513.01z"/>
<path class="i" d="M529.56 231.74H534V243H529.56z"/>
<path class="h" d="M533.7 231.74H555V243H533.7z"/>
<path class="i" d="M554.39 231.74H563V243H554.39z"/>
<path class="h" d="M562.66 231.74H571V243H562.66z"/>
<path class="i" d="M570.94 231.74H576V243H570.94z"/>
<path class="h" d="M575.08 231.74H596V243H575.08z"/>
<path class="i" d="M595.76 231.74H633V243H595.76z"/>
<path class="b" d="M136.5 242.3H141V253H136.5z"/>
<path class="d" d="M140.64 242.3H145V253H140.64z"/>
<path class="e" d="M144.78 242.3H149V253H144.78z"/>
<path class="b" d="M148.91 242.3H154V253H148.91z"/>
<path class="c" d="M153.05 242.3H158V253H153.05z"/>
<path class="d" d="M157.19 242.3H162V253H157.19z"/>
<path class="e" d="M161.32 242.3H166V253H161.32z"/>
<path class="d" d="M165.46 242.3H170V253H165.46z"/>
<path class="b" d="M169.6 242.3H178V253H169.6z"/>
<path class="c" d="M177.88 242.3H183V253H177.88z"/>
<path class="d" d="M182.01 242.3H187V253H182.01z"/>
<path class="c" d="M186.15 242.3H191V253H186.15z"/>
<path class="f" d="M190.29 242.3H195V253H190.29z"/>
<path class="e" d="M194.43 242.3H203V253H194.43z"/>
<path class="c" d="M202.7 242.3H207V253H202.7z"/>
<path class="d" d="M206.84 242.3H211V253H206.84z"/>
<path class="b" d="M210.98 242.3H220V253H210.98z"/>
<path class="c" d="M219.25 242.3H228V253H219.25z"/>
<path class="b" d="M227.53 242.3H232V253H227.53z"/>
<path class="c" d="M231.66 242.3H253V253H231.66z"/>
<path class="d" d="M252.35 242.3H257V253H252.35z"/>
<path class="f" d="M256.49 242.3H265V253H256.49z"/>
<path class="e" d="M264.76 242.3H274V253H264.76z"/>
<path class="h" d="M273.04 242.3H278V253H273.04z"/>
<path class="e" d="M277.18 242.3H282V253H277.18z"/>
<path class="c" d="M281.31 242.3H286V253H281.31z"/>
<path class="e" d="M285.45 242.3H294V253H285.45z"/>
<path class="f" d="M293.73 242.3H298V253H293.73z"/>
<path class="d" d="M297.86 242.3H302V253H297.86z"/>
<path class="e" d="M302 242.3H307V253H302z"/>
<path class="f" d="M306.14 242.3H311V253H306.14z"/>
<path class="g" d="M310.27 242.3H323V253H310.27z"/>
<path class="h" d="M322.69 242.3H327V253H322.69z"/>
<path class="b" d="M326.83 242.3H331V253H326.83z"/>
<path class="d" d="M330.96 242.3H336V253H330.96z"/>
<path class="f" d="M335.1 242.3H340V253H335.1z"/>
<path class="d" d="M339.24 242.3H348V253H339.24z"/>
<path class="e" d="M347.51 242.3H352V253H347.51z"/>
<path class="f" d="M351.65 242.3H360V253H351.65z"/>
<path class="g" d="M359.93 242.3H369V253H359.93z"/>
<path class="e" d="M368.2 242.3H373V253H368.2z"/>
<path class="f" d="M372.34 242.3H377V253H372.34z"/>
<path class="e" d="M376.48 242.3H381V253H376.48z"/>
<path class="f" d="M380.61 242.3H385V253H380.61z"/>
<path class="d" d="M384.75 242.3H389V253H384.75z"/>
<path class="g" d="M388.89 242.3H398V253H388.89z"/>
<path class="f" d="M397.16 242.3H402V253H397.16z"/>
<path class="i" d="M401.3 242.3H410V253H401.3z"/>
<path class="h" d="M409.57 242.3H443V253H409.57z"/>
<path class="g" d="M442.68 242.3H447V253H442.68z"/>
<path class="h" d="M446.81 242.3H451V253H446.81z"/>
<path class="i" d="M450.95 242.3H456V253H450.95z"/>
<path class="g" d="M455.09 242.3H460V253H455.09z"/>
<path class="h" d="M459.23 242.3H468V253H459.23z"/>
<path class="i" d="M467.5 242.3H472V253H467.5z"/>
<path class="h" d="M471.64 242.3H480V253H471.64z"/>
<path class="i" d="M479.91 242.3H509V253H479.91z"/>
<path class="h" d="M508.88 242.3H514V253H508.88z"/>
<path class="f" d="M513.01 242.3H518V253H513.01z"/>
<path class="h" d="M517.15 242.3H526V253H517.15z"/>
<path class="i" d="M525.42 242.3H530V253H525.42z"/>
<path class="j" d="M529.56 242.3H534V253H529.56z"/>
<path class="h" d="M533.7 242.3H538V253H533.7z"/>
<path class="i" d="M537.84 242.3H542V253H537.84z"/>
<path class="h" d="M541.98 242.3H559V253H541.98z"/>
<path class="i" d="M558.53 242.3H563V253H558.53z"/>
<path class="h" d="M562.66 242.3H571V253H562.66z"/>
<path class="f" d="M570.94 242.3H576V253H570.94z"/>
<path class="g" d="M575.08 242.3H580V253H575.08z"/>
<path class="h" d="M579.21 242.3H588V253H579.21z"/>
<path class="i" d="M587.49 242.3H592V253H587.49z"/>
<path class="h" d="M591.62 242.3H596V253H591.62z"/>
<path class="i" d="M595.76 242.3H600V253H595.76z"/>
<path class="h" d="M599.9 242.3H605V253H599.9z"/>
<path class="i" d="M604.04 242.3H617V253H604.04z"/>
<path class="h" d="M616.45 242.3H633V253H616.45z"/>
<path class="c" d="M136.5 252.86H141V264H136.5z"/>
<path class="e" d="M140.64 252.86H145V264H140.64z"/>
<path class="c" d="M144.78 252.86H149V264H144.78z"/>
<path class="d" d="M148.91 252.86H158V264H148.91z"/>
<path class="c" d="M157.19 252.86H170V264H157.19z"/>
<path class="e" d="M169.6 252.86H174V264H169.6z"/>
<path class="c" d="M173.74 252.86H178V264H173.74z"/>
<path class="d" d="M177.88 252.86H187V264H177.88z"/>
<path class="e" d="M186.15 252.86H191V264H186.15z"/>
<path class="c" d="M190.29 252.86H199V264H190.29z"/>
<path class="d" d="M198.56 252.86H207V264H198.56z"/>
<path class="f" d="M206.84 252.86H211V264H206.84z"/>
<path class="d" d="M210.98 252.86H216V264H210.98z"/>
<path class="c" d="M215.11 252.86H220V264H215.11z"/>
<path class="d" d="M219.25 252.86H224V264H219.25z"/>
<path class="c" d="M223.39 252.86H228V264H223.39z"/>
<path class="d" d="M227.53 252.86H232V264H227.53z"/>
<path class="c" d="M231.66 252.86H240V264H231.66z"/>
<path class="d" d="M239.94 252.86H245V264H239.94z"/>
<path class="c" d="M244.07 252.86H253V264H244.07z"/>
<path class="d" d="M252.35 252.86H265V264H252.35z"/>
<path class="g" d="M264.76 252.86H269V264H264.76z"/>
<path class="e" d="M268.9 252.86H274V264H268.9z"/>
<path class="b" d="M273.04 252.86H278V264H273.04z"/>
<path class="e" d="M277.18 252.86H282V264H277.18z"/>
<path class="c" d="M281.31 252.86H286V264H281.31z"/>
<path class="d" d="M285.45 252.86H290V264H285.45z"/>
<path class="e" d="M289.59 252.86H294V264H289.59z"/>
<path class="d" d="M293.73 252.86H298V264H293.73z"/>
<path class="e" d="M297.86 252.86H302V264H297.86z"/>
<path class="f" d="M302 252.86H323V264H302z"/>
<path class="e" d="M322.69 252.86H327V264H322.69z"/>
<path class="g" d="M326.83 252.86H331V264H326.83z"/>
<path class="d" d="M330.96 252.86H340V264H330.96z"/>
<path class="e" d="M339.24 252.86H344V264H339.24z"/>
<path class="c" d="M343.38 252.86H348V264H343.38z"/>
<path class="f" d="M347.51 252.86H352V264H347.51z"/>
<path class="g" d="M351.65 252.86H356V264H351.65z"/>
<path class="f" d="M355.79 252.86H360V264H355.79z"/>
<path class="e" d="M359.93 252.86H365V264H359.93z"/>
<path class="f" d="M364.06 252.86H377V264H364.06z"/>
<path class="e" d="M376.48 252.86H381V264H376.48z"/>
<path class="f" d="M380.61 252.86H385V264H380.61z"/>
<path class="d" d="M384.75 252.86H389V264H384.75z"/>
<path class="f" d="M388.89 252.86H394V264H388.89z"/>
<path class="e" d="M393.03 252.86H402V264H393.03z"/>
<path class="g" d="M401.3 252.86H406V264H401.3z"/>
<path class="d" d="M405.44 252.86H410V264H405.44z"/>
<path class="f" d="M409.57 252.86H418V264H409.57z"/>
<path class="g" d="M417.85 252.86H422V264H417.85z"/>
<path class="h" d="M421.99 252.86H427V264H421.99z"/>
<path class="g" d="M426.12 252.86H431V264H426.12z"/>
<path class="i" d="M430.26 252.86H435V264H430.26z"/>
<path class="h" d="M434.4 252.86H451V264H434.4z"/>
<path class="g" d="M450.95 252.86H456V264H450.95z"/>
<path class="i" d="M455.09 252.86H464V264H455.09z"/>
<path class="g" d="M463.36 252.86H468V264H463.36z"/>
<path class="h" d="M467.5 252.86H472V264H467.5z"/>
<path class="g" d="M471.64 252.86H485V264H471.64z"/>
<path class="f" d="M484.05 252.86H489V264H484.05z"/>
<path class="g" d="M488.19 252.86H493V264H488.19z"/>
<path class="f" d="M492.32 252.86H497V264H492.32z"/>
<path class="h" d="M496.46 252.86H501V264H496.46z"/>
<path class="i" d="M500.6 252.86H514V264H500.6z"/>
<path class="j" d="M513.01 252.86H518V264H513.01z"/>
<path class="i" d="M517.15 252.86H534V264H517.15z"/>
<path class="j" d="M533.7 252.86H538V264H533.7z"/>
<path class="i" d="M537.84 252.86H563V264H537.84z"/>
<path class="h" d="M562.66 252.86H567V264H562.66z"/>
<path class="i" d="M566.8 252.86H584V264H566.8z"/>
<path class="h" d="M583.35 252.86H588V264H583.35z"/>
<path class="j" d="M587.49 252.86H596V264H587.49z"/>
<path class="i" d="M595.76 252.86H609V264H595.76z"/>
<path class="h" d="M608.17 252.86H617V264H608.17z"/>
<path class="i" d="M616.45 252.86H621V264H616.45z"/>
<path class="h" d="M620.59 252.86H625V264H620.59z"/>
<path class="j" d="M624.73 252.86H629V264H624.73z"/>
<path class="i" d="M628.86 252.86H633V264H628.86z"/>
<path class="c" d="M136.5 263.41H141V274H136.5z"/>
<path class="f" d="M140.64 263.41H145V274H140.64z"/>
<path class="b" d="M144.78 263.41H149V274H144.78z"/>
<path class="c" d="M148.91 263.41H162V274H148.91z"/>
<path class="h" d="M161.32 263.41H166V274H161.32z"/>
<path class="c" d="M165.46 263.41H170V274H165.46z"/>
<path class="d" d="M169.6 263.41H178V274H169.6z"/>
<path class="e" d="M177.88 263.41H183V274H177.88z"/>
<path class="d" d="M182.01 263.41H187V274H182.01z"/>
<path class="c" d="M186.15 263.41H203V274H186.15z"/>
<path class="b" d="M202.7 263.41H207V274H202.7z"/>
<path class="c" d="M206.84 263.41H211V274H206.84z"/>
<path class="b" d="M210.98 263.41H216V274H210.98z"/>
<path class="f" d="M215.11 263.41H220V274H215.11z"/>
<path class="d" d="M219.25 263.41H224V274H219.25z"/>
<path class="c" d="M223.39 263.41H232V274H223.39z"/>
<path class="d" d="M231.66 263.41H236V274H231.66z"/>
<path class="c" d="M235.8 263.41H253V274H235.8z"/>
<path class="f" d="M252.35 263.41H257V274H252.35z"/>
<path class="e" d="M256.49 263.41H265V274H256.49z"/>
<path class="g" d="M264.76 263.41H269V274H264.76z"/>
<path class="d" d="M268.9 263.41H274V274H268.9z"/>
<path class="e" d="M273.04 263.41H278V274H273.04z"/>
<path class="f" d="M277.18 263.41H282V274H277.18z"/>
<path class="c" d="M281.31 263.41H286V274H281.31z"/>
<path class="d" d="M285.45 263.41H290V274H285.45z"/>
<path class="e" d="M289.59 263.41H294V274H289.59z"/>
<path class="f" d="M293.73 263.41H298V274H293.73z"/>
<path class="e" d="M297.86 263.41H302V274H297.86z"/>
<path class="f" d="M302 263.41H315V274H302z"/>
<path class="g" d="M314.41 263.41H323V274H314.41z"/>
<path class="f" d="M322.69 263.41H327V274H322.69z"/>
<path class="e" d="M326.83 263.41H348V274H326.83z"/>
<path class="f" d="M347.51 263.41H360V274H347.51z"/>
<path class="e" d="M359.93 263.41H365V274H359.93z"/>
<path class="f" d="M364.06 263.41H369V274H364.06z"/>
<path class="d" d="M368.2 263.41H373V274H368.2z"/>
<path class="f" d="M372.34 263.41H385V274H372.34z"/>
<path class="e" d="M384.75 263.41H394V274H384.75z"/>
<path class="f" d="M393.03 263.41H398V274H393.03z"/>
<path class="e" d="M397.16 263.41H406V274H397.16z"/>
<path class="h" d="M405.44 263.41H410V274H405.44z"/>
<path class="g" d="M409.57 263.41H418V274H409.57z"/>
<path class="f" d="M417.85 263.41H422V274H417.85z"/>
<path class="h" d="M421.99 263.41H427V274H421.99z"/>
<path class="g" d="M426.12 263.41H439V274H426.12z"/>
<path class="h" d="M438.54 263.41H443V274H438.54z"/>
<path class="i" d="M442.68 263.41H447V274H442.68z"/>
<path class="h" d="M446.81 263.41H460V274H446.81z"/>
<path class="i" d="M459.23 263.41H464V274H459.23z"/>
<path class="g" d="M463.36 263.41H472V274H463.36z"/>
<path class="h" d="M471.64 263.41H480V274H471.64z"/>
<path class="g" d="M479.91 263.41H489V274H479.91z"/>
<path class="h" d="M488.19 263.41H493V274H488.19z"/>
<path class="g" d="M492.32 263.41H501V274H492.32z"/>
<path class="h" d="M500.6 263.41H509V274H500.6z"/>
<path class="i" d="M508.88 263.41H530V274H508.88z"/>
<path class="h" d="M529.56 263.41H534V274H529.56z"/>
<path class="i" d="M533.7 263.41H551V274H533.7z"/>
<path class="j" d="M550.25 263.41H555V274H550.25z"/>
<path class="i" d="M554.39 263.41H559V274H554.39z"/>
<path class="j" d="M558.53 263.41H563V274H558.53z"/>
<path class="h" d="M562.66 263.41H571V274H562.66z"/>
<path class="i" d="M570.94 263.41H588V274H570.94z"/>
<path class="j" d="M587.49 263.41H592V274H587.49z"/>
<path class="i" d="M591.62 263.41H633V274H591.62z"/>
<path class="e" d="M136.5 273.97H141V285H136.5z"/>
<path class="b" d="M140.64 273.97H162V285H140.64z"/>
<path class="d" d="M161.32 273.97H166V285H161.32z"/>
<path class="b" d="M165.46 273.97H191V285H165.46z"/>
<path class="c" d="M190.29 273.97H195V285H190.29z"/>
<path class="b" d="M194.43 273.97H199V285H194.43z"/>
<path class="c" d="M198.56 273.97H207V285H198.56z"/>
<path class="b" d="M206.84 273.97H211V285H206.84z"/>
<path class="c" d="M210.98 273.97H216V285H210.98z"/>
<path class="b" d="M215.11 273.97H224V285H215.11z"/>
<path class="h" d="M223.39 273.97H228V285H223.39z"/>
<path class="i" d="M227.53 273.97H232V285H227.53z"/>
<path class="g" d="M231.66 273.97H236V285H231.66z"/>
<path class="c" d="M235.8 273.97H245V285H235.8z"/>
<path class="g" d="M244.07 273.97H249V285H244.07z"/>
<path class="a" d="M248.21 273.97H253V285H248.21z"/>
<path class="e" d="M252.35 273.97H274V285H252.35z"/>
<path class="f" d="M273.04 273.97H278V285H273.04z"/>
<path class="g" d="M277.18 273.97H282V285H277.18z"/>
<path class="f" d="M281.31 273.97H286V285H281.31z"/>
<path class="c" d="M285.45 273.97H290V285H285.45z"/>
<path class="d" d="M289.59 273.97H294V285H289.59z"/>
<path class="e" d="M293.73 273.97H302V285H293.73z"/>
<path class="h" d="M302 273.97H307V285H302z"/>
<path class="g" d="M306.14 273.97H311V285H306.14z"/>
<path class="e" d="M310.27 273.97H315V285H310.27z"/>
<path class="g" d="M314.41 273.97H327V285H314.41z"/>
<path class="f" d="M326.83 273.97H331V285H326.83z"/>
<path class="g" d="M330.96 273.97H336V285H330.96z"/>
<path class="f" d="M335.1 273.97H340V285H335.1z"/>
<path class="g" d="M339.24 273.97H344V285H339.24z"/>
<path class="f" d="M343.38 273.97H348V285H343.38z"/>
<path class="e" d="M347.51 273.97H352V285H347.51z"/>
<path class="f" d="M351.65 273.97H356V285H351.65z"/>
<path class="h" d="M355.79 273.97H360V285H355.79z"/>
<path class="g" d="M359.93 273.97H369V285H359.93z"/>
<path class="e" d="M368.2 273.97H385V285H368.2z"/>
<path class="h" d="M384.75 273.97H389V285H384.75z"/>
<path class="g" d="M388.89 273.97H406V285H388.89z"/>
<path class="h" d="M405.44 273.97H418V285H405.44z"/>
<path class="f" d="M417.85 273.97H422V285H417.85z"/>
<path class="h" d="M421.99 273.97H435V285H421.99z"/>
<path class="g" d="M434.4 273.97H439V285H434.4z"/>
<path class="h" d="M438.54 273.97H472V285H438.54z"/>
<path class="i" d="M471.64 273.97H476V285H471.64z"/>
<path class="h" d="M475.78 273.97H489V285H475.78z"/>
<path class="i" d="M488.19 273.97H493V285H488.19z"/>
<path class="h" d="M492.32 273.97H497V285H492.32z"/>
<path class="g" d="M496.46 273.97H501V285H496.46z"/>
<path class="h" d="M500.6 273.97H530V285H500.6z"/>
<path class="g" d="M529.56 273.97H534V285H529.56z"/>
<path class="h" d="M533.7 273.97H567V285H533.7z"/>
<path class="g" d="M566.8 273.97H571V285H566.8z"/>
<path class="h" d="M570.94 273.97H580V285H570.94z"/>
<path class="g" d="M579.21 273.97H584V285H579.21z"/>
<path class="h" d="M583.35 273.97H592V285H583.35z"/>
<path class="g" d="M591.62 273.97H596V285H591.62z"/>
<path class="h" d="M595.76 273.97H609V285H595.76z"/>
<path class="i" d="M608.17 273.97H617V285H608.17z"/>
<path class="h" d="M616.45 273.97H625V285H616.45z"/>
<path class="i" d="M624.73 273.97H633V285H624.73z"/>
<path class="e" d="M136.5 284.53H145V296H136.5z"/>
<path class="c" d="M144.78 284.53H158V296H144.78z"/>
<path class="e" d="M157.19 284.53H162V296H157.19z"/>
<path class="d" d="M161.32 284.53H170V296H161.32z"/>
<path class="c" d="M169.6 284.53H174V296H169.6z"/>
<path class="d" d="M173.74 284.53H178V296H173.74z"/>
<path class="c" d="M177.88 284.53H195V296H177.88z"/>
<path class="d" d="M194.43 284.53H203V296H194.43z"/>
<path class="c" d="M202.7 284.53H220V296H202.7z"/>
<path class="d" d="M219.25 284.53H224V296H219.25z"/>
<path class="c" d="M223.39 284.53H236V296H223.39z"/>
<path class="d" d="M235.8 284.53H240V296H235.8z"/>
<path class="c" d="M239.94 284.53H249V296H239.94z"/>
<path class="d" d="M248.21 284.53H257V296H248.21z"/>
<path class="e" d="M256.49 284.53H269V296H256.49z"/>
<path class="d" d="M268.9 284.53H282V296H268.9z"/>
<path class="c" d="M281.31 284.53H286V296H281.31z"/>
<path class="d" d="M285.45 284.53H290V296H285.45z"/>
<path class="e" d="M289.59 284.53H302V296H289.59z"/>
<path class="f" d="M302 284.53H307V296H302z"/>
<path class="d" d="M306.14 284.53H311V296H306.14z"/>
<path class="f" d="M310.27 284.53H315V296H310.27z"/>
<path class="g" d="M314.41 284.53H327V296H314.41z"/>
<path class="b" d="M326.83 284.53H331V296H326.83z"/>
<path class="g" d="M330.96 284.53H336V296H330.96z"/>
<path class="d" d="M335.1 284.53H344V296H335.1z"/>
<path class="e" d="M343.38 284.53H348V296H343.38z"/>
<path class="d" d="M347.51 284.53H352V296H347.51z"/>
<path class="e" d="M351.65 284.53H356V296H351.65z"/>
<path class="f" d="M355.79 284.53H360V296H355.79z"/>
<path class="g" d="M359.93 284.53H365V296H359.93z"/>
<path class="f" d="M364.06 284.53H369V296H364.06z"/>
<path class="e" d="M368.2 284.53H389V296H368.2z"/>
<path class="g" d="M388.89 284.53H406V296H388.89z"/>
<path class="h" d="M405.44 284.53H410V296H405.44z"/>
<path class="i" d="M409.57 284.53H414V296H409.57z"/>
<path class="h" d="M413.71 284.53H427V296H413.71z"/>
<path class="g" d="M426.12 284.53H431V296H426.12z"/>
<path class="i" d="M430.26 284.53H435V296H430.26z"/>
<path class="h" d="M434.4 284.53H439V296H434.4z"/>
<path class="i" d="M438.54 284.53H443V296H438.54z"/>
<path class="h" d="M442.68 284.53H468V296H442.68z"/>
<path class="i" d="M467.5 284.53H480V296H467.5z"/>
<path class="h" d="M479.91 284.53H485V296H479.91z"/>
<path class="i" d="M484.05 284.53H493V296H484.05z"/>
<path class="h" d="M492.32 284.53H497V296H492.32z"/>
<path class="i" d="M496.46 284.53H501V296H496.46z"/>
<path class="h" d="M500.6 284.53H505V296H500.6z"/>
<path class="i" d="M504.74 284.53H514V296H504.74z"/>
<path class="h" d="M513.01 284.53H538V296H513.01z"/>
<path class="i" d="M537.84 284.53H567V296H537.84z"/>
<path class="h" d="M566.8 284.53H576V296H566.8z"/>
<path class="i" d="M575.08 284.53H584V296H575.08z"/>
<path class="h" d="M583.35 284.53H588V296H583.35z"/>
<path class="i" d="M587.49 284.53H592V296H587.49z"/>
<path class="h" d="M591.62 284.53H596V296H591.62z"/>
<path class="i" d="M595.76 284.53H617V296H595.76z"/>
<path class="h" d="M616.45 284.53H621V296H616.45z"/>
<path class="i" d="M620.59 284.53H625V296H620.59z"/>
<path class="h" d="M624.73 284.53H633V296H624.73z"/>
<path class="e" d="M136.5 295.09H141V306H136.5z"/>
<path class="d" d="M140.64 295.09H145V306H140.64z"/>
<path class="c" d="M144.78 295.09H154V306H144.78z"/>
<path class="d" d="M153.05 295.09H158V306H153.05z"/>
<path class="e" d="M157.19 295.09H162V306H157.19z"/>
<path class="d" d="M161.32 295.09H170V306H161.32z"/>
<path class="c" d="M169.6 295.09H174V306H169.6z"/>
<path class="d" d="M173.74 295.09H178V306H173.74z"/>
<path class="c" d="M177.88 295.09H191V306H177.88z"/>
<path class="d" d="M190.29 295.09H199V306H190.29z"/>
<path class="e" d="M198.56 295.09H203V306H198.56z"/>
<path class="c" d="M202.7 295.09H220V306H202.7z"/>
<path class="d" d="M219.25 295.09H224V306H219.25z"/>
<path class="c" d="M223.39 295.09H236V306H223.39z"/>
<path class="d" d="M235.8 295.09H240V306H235.8z"/>
<path class="c" d="M239.94 295.09H249V306H239.94z"/>
<path class="d" d="M248.21 295.09H261V306H248.21z"/>
<path class="e" d="M260.62 295.09H269V306H260.62z"/>
<path class="d" d="M268.9 295.09H274V306H268.9z"/>
<path class="e" d="M273.04 295.09H282V306H273.04z"/>
<path class="d" d="M281.31 295.09H286V306H281.31z"/>
<path class="e" d="M285.45 295.09H302V306H285.45z"/>
<path class="f" d="M302 295.09H307V306H302z"/>
<path class="e" d="M306.14 295.09H311V306H306.14z"/>
<path class="f" d="M310.27 295.09H315V306H310.27z"/>
<path class="g" d="M314.41 295.09H327V306H314.41z"/>
<path class="c" d="M326.83 295.09H331V306H326.83z"/>
<path class="g" d="M330.96 295.09H336V306H330.96z"/>
<path class="d" d="M335.1 295.09H344V306H335.1z"/>
<path class="e" d="M343.38 295.09H348V306H343.38z"/>
<path class="d" d="M347.51 295.09H352V306H347.51z"/>
<path class="e" d="M351.65 295.09H356V306H351.65z"/>
<path class="f" d="M355.79 295.09H360V306H355.79z"/>
<path class="g" d="M359.93 295.09H365V306H359.93z"/>
<path class="e" d="M364.06 295.09H394V306H364.06z"/>
<path class="g" d="M393.03 295.09H406V306H393.03z"/>
<path class="i" d="M405.44 295.09H414V306H405.44z"/>
<path class="h" d="M413.71 295.09H418V306H413.71z"/>
<path class="g" d="M417.85 295.09H422V306H417.85z"/>
<path class="h" d="M421.99 295.09H427V306H421.99z"/>
<path class="g" d="M426.12 295.09H431V306H426.12z"/>
<path class="h" d="M430.26 295.09H468V306H430.26z"/>
<path class="i" d="M467.5 295.09H480V306H467.5z"/>
<path class="h" d="M479.91 295.09H489V306H479.91z"/>
<path class="i" d="M488.19 295.09H514V306H488.19z"/>
<path class="h" d="M513.01 295.09H526V306H513.01z"/>
<path class="i" d="M525.42 295.09H530V306H525.42z"/>
<path class="h" d="M529.56 295.09H534V306H529.56z"/>
<path class="i" d="M533.7 295.09H547V306H533.7z"/>
<path class="h" d="M546.11 295.09H551V306H546.11z"/>
<path class="i" d="M550.25 295.09H567V306H550.25z"/>
<path class="h" d="M566.8 295.09H576V306H566.8z"/>
<path class="i" d="M575.08 295.09H584V306H575.08z"/>
<path class="h" d="M583.35 295.09H588V306H583.35z"/>
<path class="i" d="M587.49 295.09H592V306H587.49z"/>
<path class="h" d="M591.62 295.09H596V306H591.62z"/>
<path class="i" d="M595.76 295.09H617V306H595.76z"/>
<path class="h" d="M616.45 295.09H621V306H616.45z"/>
<path class="i" d="M620.59 295.09H633V306H620.59z"/>
<path class="f" d="M136.5 305.65H141V317H136.5z"/>
<path class="g" d="M140.64 305.65H145V317H140.64z"/>
<path class="c" d="M144.78 305.65H154V317H144.78z"/>
<path class="g" d="M153.05 305.65H158V317H153.05z"/>
<path class="c" d="M157.19 305.65H174V317H157.19z"/>
<path class="d" d="M173.74 305.65H178V317H173.74z"/>
<path class="c" d="M177.88 305.65H195V317H177.88z"/>
<path class="d" d="M194.43 305.65H203V317H194.43z"/>
<path class="c" d="M202.7 305.65H207V317H202.7z"/>
<path class="d" d="M206.84 305.65H211V317H206.84z"/>
<path class="c" d="M210.98 305.65H220V317H210.98z"/>
<path class="f" d="M219.25 305.65H224V317H219.25z"/>
<path class="d" d="M223.39 305.65H228V317H223.39z"/>
<path class="c" d="M227.53 305.65H249V317H227.53z"/>
<path class="f" d="M248.21 305.65H253V317H248.21z"/>
<path class="d" d="M252.35 305.65H257V317H252.35z"/>
<path class="c" d="M256.49 305.65H261V317H256.49z"/>
<path class="e" d="M260.62 305.65H265V317H260.62z"/>
<path class="g" d="M264.76 305.65H269V317H264.76z"/>
<path class="d" d="M268.9 305.65H274V317H268.9z"/>
<path class="e" d="M273.04 305.65H278V317H273.04z"/>
<path class="d" d="M277.18 305.65H290V317H277.18z"/>
<path class="c" d="M289.59 305.65H294V317H289.59z"/>
<path class="d" d="M293.73 305.65H298V317H293.73z"/>
<path class="e" d="M297.86 305.65H311V317H297.86z"/>
<path class="f" d="M310.27 305.65H319V317H310.27z"/>
<path class="g" d="M318.55 305.65H327V317H318.55z"/>
<path class="e" d="M326.83 305.65H331V317H326.83z"/>
<path class="d" d="M330.96 305.65H340V317H330.96z"/>
<path class="e" d="M339.24 305.65H344V317H339.24z"/>
<path class="b" d="M343.38 305.65H348V317H343.38z"/>
<path class="e" d="M347.51 305.65H356V317H347.51z"/>
<path class="f" d="M355.79 305.65H360V317H355.79z"/>
<path class="d" d="M359.93 305.65H365V317H359.93z"/>
<path class="f" d="M364.06 305.65H369V317H364.06z"/>
<path class="e" d="M368.2 305.65H373V317H368.2z"/>
<path class="f" d="M372.34 305.65H377V317H372.34z"/>
<path class="e" d="M376.48 305.65H381V317H376.48z"/>
<path class="f" d="M380.61 305.65H385V317H380.61z"/>
<path class="c" d="M384.75 305.65H389V317H384.75z"/>
<path class="e" d="M388.89 305.65H394V317H388.89z"/>
<path class="f" d="M393.03 305.65H406V317H393.03z"/>
<path class="g" d="M405.44 305.65H410V317H405.44z"/>
<path class="h" d="M409.57 305.65H418V317H409.57z"/>
<path class="g" d="M417.85 305.65H422V317H417.85z"/>
<path class="h" d="M421.99 305.65H427V317H421.99z"/>
<path class="g" d="M426.12 305.65H431V317H426.12z"/>
<path class="h" d="M430.26 305.65H480V317H430.26z"/>
<path class="g" d="M479.91 305.65H485V317H479.91z"/>
<path class="h" d="M484.05 305.65H493V317H484.05z"/>
<path class="g" d="M492.32 305.65H497V317H492.32z"/>
<path class="i" d="M496.46 305.65H518V317H496.46z"/>
<path class="h" d="M517.15 305.65H526V317H517.15z"/>
<path class="i" d="M525.42 305.65H530V317H525.42z"/>
<path class="h" d="M529.56 305.65H534V317H529.56z"/>
<path class="i" d="M533.7 305.65H563V317H533.7z"/>
<path class="h" d="M562.66 305.65H571V317H562.66z"/>
<path class="i" d="M570.94 305.65H633V317H570.94z"/>
<path class="d" d="M136.5 316.21H149V327H136.5z"/>
<path class="e" d="M148.91 316.21H158V327H148.91z"/>
<path class="d" d="M157.19 316.21H187V327H157.19z"/>
<path class="e" d="M186.15 316.21H191V327H186.15z"/>
<path class="d" d="M190.29 316.21H216V327H190.29z"/>
<path class="e" d="M215.11 316.21H220V327H215.11z"/>
<path class="d" d="M219.25 316.21H224V327H219.25z"/>
<path class="e" d="M223.39 316.21H228V327H223.39z"/>
<path class="d" d="M227.53 316.21H232V327H227.53z"/>
<path class="e" d="M231.66 316.21H236V327H231.66z"/>
<path class="d" d="M235.8 316.21H265V327H235.8z"/>
<path class="f" d="M264.76 316.21H269V327H264.76z"/>
<path class="d" d="M268.9 316.21H278V327H268.9z"/>
<path class="e" d="M277.18 316.21H282V327H277.18z"/>
<path class="d" d="M281.31 316.21H290V327H281.31z"/>
<path class="e" d="M289.59 316.21H294V327H289.59z"/>
<path class="d" d="M293.73 316.21H298V327H293.73z"/>
<path class="e" d="M297.86 316.21H302V327H297.86z"/>
<path class="f" d="M302 316.21H311V327H302z"/>
<path class="e" d="M310.27 316.21H315V327H310.27z"/>
<path class="f" d="M314.41 316.21H323V327H314.41z"/>
<path class="e" d="M322.69 316.21H327V327H322.69z"/>
<path class="d" d="M326.83 316.21H336V327H326.83z"/>
<path class="f" d="M335.1 316.21H340V327H335.1z"/>
<path class="d" d="M339.24 316.21H348V327H339.24z"/>
<path class="e" d="M347.51 316.21H360V327H347.51z"/>
<path class="d" d="M359.93 316.21H365V327H359.93z"/>
<path class="f" d="M364.06 316.21H369V327H364.06z"/>
<path class="d" d="M368.2 316.21H373V327H368.2z"/>
<path class="e" d="M372.34 316.21H385V327H372.34z"/>
<path class="d" d="M384.75 316.21H389V327H384.75z"/>
<path class="g" d="M388.89 316.21H394V327H388.89z"/>
<path class="d" d="M393.03 316.21H398V327H393.03z"/>
<path class="e" d="M397.16 316.21H402V327H397.16z"/>
<path class="d" d="M401.3 316.21H406V327H401.3z"/>
<path class="g" d="M405.44 316.21H414V327H405.44z"/>
<path class="e" d="M413.71 316.21H422V327H413.71z"/>
<path class="h" d="M421.99 316.21H427V327H421.99z"/>
<path class="g" d="M426.12 316.21H435V327H426.12z"/>
<path class="f" d="M434.4 316.21H439V327H434.4z"/>
<path class="g" d="M438.54 316.21H443V327H438.54z"/>
<path class="i" d="M442.68 316.21H447V327H442.68z"/>
<path class="g" d="M446.81 316.21H456V327H446.81z"/>
<path class="h" d="M455.09 316.21H468V327H455.09z"/>
<path class="g" d="M467.5 316.21H480V327H467.5z"/>
<path class="e" d="M479.91 316.21H485V327H479.91z"/>
<path class="f" d="M484.05 316.21H489V327H484.05z"/>
<path class="h" d="M488.19 316.21H493V327H488.19z"/>
<path class="g" d="M492.32 316.21H497V327H492.32z"/>
<path class="h" d="M496.46 316.21H505V327H496.46z"/>
<path class="i" d="M504.74 316.21H514V327H504.74z"/>
<path class="j" d="M513.01 316.21H526V327H513.01z"/>
<path class="i" d="M525.42 316.21H530V327H525.42z"/>
<path class="h" d="M529.56 316.21H534V327H529.56z"/>
<path class="i" d="M533.7 316.21H538V327H533.7z"/>
<path class="j" d="M537.84 316.21H542V327H537.84z"/>
<path class="i" d="M541.98 316.21H547V327H541.98z"/>
<path class="j" d="M546.11 316.21H563V327H546.11z"/>
<path class="h" d="M562.66 316.21H571V327H562.66z"/>
<path class="j" d="M570.94 316.21H580V327H570.94z"/>
<path class="i" d="M579.21 316.21H584V327H579.21z"/>
<path class="h" d="M583.35 316.21H588V327H583.35z"/>
<path class="j" d="M587.49 316.21H592V327H587.49z"/>
<path class="k" d="M591.62 316.21H596V327H591.62z"/>
<path class="i" d="M595.76 316.21H600V327H595.76z"/>
<path class="j" d="M599.9 316.21H605V327H599.9z"/>
<path class="i" d="M604.04 316.21H609V327H604.04z"/>
<path class="h" d="M608.17 316.21H613V327H608.17z"/>
<path class="j" d="M612.31 316.21H617V327H612.31z"/>
<path class="i" d="M616.45 316.21H625V327H616.45z"/>
<path class="j" d="M624.73 316.21H633V327H624.73z"/>
<path class="i" d="M136.5 326.77H141V338H136.5z"/>
<path class="j" d="M140.64 326.77H145V338H140.64z"/>
<path class="d" d="M144.78 326.77H154V338H144.78z"/>
<path class="f" d="M153.05 326.77H158V338H153.05z"/>
<path class="d" d="M157.19 326.77H162V338H157.19z"/>
<path class="b" d="M161.32 326.77H166V338H161.32z"/>
<path class="i" d="M165.46 326.77H170V338H165.46z"/>
<path class="d" d="M169.6 326.77H232V338H169.6z"/>
<path class="e" d="M231.66 326.77H236V338H231.66z"/>
<path class="d" d="M235.8 326.77H240V338H235.8z"/>
<path class="e" d="M239.94 326.77H245V338H239.94z"/>
<path class="d" d="M244.07 326.77H265V338H244.07z"/>
<path class="e" d="M264.76 326.77H274V338H264.76z"/>
<path class="d" d="M273.04 326.77H278V338H273.04z"/>
<path class="e" d="M277.18 326.77H282V338H277.18z"/>
<path class="b" d="M281.31 326.77H286V338H281.31z"/>
<path class="d" d="M285.45 326.77H307V338H285.45z"/>
<path class="e" d="M306.14 326.77H311V338H306.14z"/>
<path class="f" d="M310.27 326.77H315V338H310.27z"/>
<path class="d" d="M314.41 326.77H319V338H314.41z"/>
<path class="e" d="M318.55 326.77H327V338H318.55z"/>
<path class="d" d="M326.83 326.77H352V338H326.83z"/>
<path class="e" d="M351.65 326.77H360V338H351.65z"/>
<path class="d" d="M359.93 326.77H365V338H359.93z"/>
<path class="g" d="M364.06 326.77H369V338H364.06z"/>
<path class="e" d="M368.2 326.77H381V338H368.2z"/>
<path class="f" d="M380.61 326.77H385V338H380.61z"/>
<path class="c" d="M384.75 326.77H389V338H384.75z"/>
<path class="e" d="M388.89 326.77H398V338H388.89z"/>
<path class="d" d="M397.16 326.77H402V338H397.16z"/>
<path class="f" d="M401.3 326.77H406V338H401.3z"/>
<path class="e" d="M405.44 326.77H410V338H405.44z"/>
<path class="g" d="M409.57 326.77H414V338H409.57z"/>
<path class="e" d="M413.71 326.77H418V338H413.71z"/>
<path class="g" d="M417.85 326.77H422V338H417.85z"/>
<path class="f" d="M421.99 326.77H427V338H421.99z"/>
<path class="h" d="M426.12 326.77H435V338H426.12z"/>
<path class="g" d="M434.4 326.77H439V338H434.4z"/>
<path class="i" d="M438.54 326.77H443V338H438.54z"/>
<path class="h" d="M442.68 326.77H447V338H442.68z"/>
<path class="i" d="M446.81 326.77H460V338H446.81z"/>
<path class="j" d="M459.23 326.77H464V338H459.23z"/>
<path class="g" d="M463.36 326.77H468V338H463.36z"/>
<path class="h" d="M467.5 326.77H480V338H467.5z"/>
<path class="g" d="M479.91 326.77H489V338H479.91z"/>
<path class="h" d="M488.19 326.77H501V338H488.19z"/>
<path class="i" d="M500.6 326.77H509V338H500.6z"/>
<path class="h" d="M508.88 326.77H518V338H508.88z"/>
<path class="g" d="M517.15 326.77H526V338H517.15z"/>
<path class="h" d="M525.42 326.77H530V338H525.42z"/>
<path class="i" d="M529.56 326.77H538V338H529.56z"/>
<path class="j" d="M537.84 326.77H542V338H537.84z"/>
<path class="h" d="M541.98 326.77H551V338H541.98z"/>
<path class="i" d="M550.25 326.77H555V338H550.25z"/>
<path class="h" d="M554.39 326.77H559V338H554.39z"/>
<path class="i" d="M558.53 326.77H563V338H558.53z"/>
<path class="h" d="M562.66 326.77H567V338H562.66z"/>
<path class="i" d="M566.8 326.77H571V338H566.8z"/>
<path class="h" d="M570.94 326.77H576V338H570.94z"/>
<path class="j" d="M575.08 326.77H580V338H575.08z"/>
<path class="i" d="M579.21 326.77H596V338H579.21z"/>
<path class="j" d="M595.76 326.77H613V338H595.76z"/>
<path class="i" d="M612.31 326.77H625V338H612.31z"/>
<path class="j" d="M624.73 326.77H629V338H624.73z"/>
<path class="i" d="M628.86 326.77H633V338H628.86z"/>
<path class="b" d="M136.5 337.33H141V348H136.5z"/>
<path class="l" d="M140.64 337.33H145V348H140.64z"/>
<path class="b" d="M144.78 337.33H149V348H144.78z"/>
<path class="g" d="M148.91 337.33H154V348H148.91z"/>
<path class="c" d="M153.05 337.33H166V348H153.05z"/>
<path class="d" d="M165.46 337.33H170V348H165.46z"/>
<path class="b" d="M169.6 337.33H174V348H169.6z"/>
<path class="c" d="M173.74 337.33H199V348H173.74z"/>
<path class="b" d="M198.56 337.33H203V348H198.56z"/>
<path class="c" d="M202.7 337.33H207V348H202.7z"/>
<path class="g" d="M206.84 337.33H211V348H206.84z"/>
<path class="c" d="M210.98 337.33H220V348H210.98z"/>
<path class="d" d="M219.25 337.33H224V348H219.25z"/>
<path class="c" d="M223.39 337.33H232V348H223.39z"/>
<path class="h" d="M231.66 337.33H236V348H231.66z"/>
<path class="d" d="M235.8 337.33H240V348H235.8z"/>
<path class="e" d="M239.94 337.33H249V348H239.94z"/>
<path class="c" d="M248.21 337.33H257V348H248.21z"/>
<path class="d" d="M256.49 337.33H261V348H256.49z"/>
<path class="c" d="M260.62 337.33H265V348H260.62z"/>
<path class="d" d="M264.76 337.33H269V348H264.76z"/>
<path class="c" d="M268.9 337.33H278V348H268.9z"/>
<path class="d" d="M277.18 337.33H282V348H277.18z"/>
<path class="e" d="M281.31 337.33H286V348H281.31z"/>
<path class="d" d="M285.45 337.33H294V348H285.45z"/>
<path class="e" d="M293.73 337.33H302V348H293.73z"/>
<path class="g" d="M302 337.33H307V348H302z"/>
<path class="f" d="M306.14 337.33H315V348H306.14z"/>
<path class="e" d="M314.41 337.33H319V348H314.41z"/>
<path class="f" d="M318.55 337.33H323V348H318.55z"/>
<path class="g" d="M322.69 337.33H327V348H322.69z"/>
<path class="i" d="M326.83 337.33H331V348H326.83z"/>
<path class="d" d="M330.96 337.33H336V348H330.96z"/>
<path class="e" d="M335.1 337.33H348V348H335.1z"/>
<path class="f" d="M347.51 337.33H352V348H347.51z"/>
<path class="e" d="M351.65 337.33H356V348H351.65z"/>
<path class="h" d="M355.79 337.33H360V348H355.79z"/>
<path class="g" d="M359.93 337.33H365V348H359.93z"/>
<path class="e" d="M364.06 337.33H385V348H364.06z"/>
<path class="g" d="M384.75 337.33H394V348H384.75z"/>
<path class="h" d="M393.03 337.33H406V348H393.03z"/>
<path class="g" d="M405.44 337.33H410V348H405.44z"/>
<path class="h" d="M409.57 337.33H418V348H409.57z"/>
<path class="g" d="M417.85 337.33H431V348H417.85z"/>
<path class="h" d="M430.26 337.33H439V348H430.26z"/>
<path class="i" d="M438.54 337.33H443V348H438.54z"/>
<path class="h" d="M442.68 337.33H451V348H442.68z"/>
<path class="i" d="M450.95 337.33H464V348H450.95z"/>
<path class="h" d="M463.36 337.33H468V348H463.36z"/>
<path class="i" d="M467.5 337.33H472V348H467.5z"/>
<path class="g" d="M471.64 337.33H476V348H471.64z"/>
<path class="h" d="M475.78 337.33H485V348H475.78z"/>
<path class="i" d="M484.05 337.33H489V348H484.05z"/>
<path class="h" d="M488.19 337.33H497V348H488.19z"/>
<path class="i" d="M496.46 337.33H505V348H496.46z"/>
<path class="h" d="M504.74 337.33H509V348H504.74z"/>
<path class="g" d="M508.88 337.33H530V348H508.88z"/>
<path class="i" d="M529.56 337.33H534V348H529.56z"/>
<path class="h" d="M533.7 337.33H542V348H533.7z"/>
<path class="g" d="M541.98 337.33H547V348H541.98z"/>
<path class="h" d="M546.11 337.33H555V348H546.11z"/>
<path class="i" d="M554.39 337.33H563V348H554.39z"/>
<path class="h" d="M562.66 337.33H567V348H562.66z"/>
<path class="i" d="M566.8 337.33H576V348H566.8z"/>
<path class="h" d="M575.08 337.33H588V348H575.08z"/>
<path class="i" d="M587.49 337.33H609V348H587.49z"/>
<path class="h" d="M608.17 337.33H613V348H608.17z"/>
<path class="i" d="M612.31 337.33H617V348H612.31z"/>
<path class="h" d="M616.45 337.33H621V348H616.45z"/>
<path class="i" d="M620.59 337.33H625V348H620.59z"/>
<path class="h" d="M624.73 337.33H633V348H624.73z"/>
<path class="j" d="M136.5 347.89H145V359H136.5z"/>
<path class="c" d="M144.78 347.89H207V359H144.78z"/>
<path class="f" d="M206.84 347.89H211V359H206.84z"/>
<path class="c" d="M210.98 347.89H224V359H210.98z"/>
<path class="e" d="M223.39 347.89H228V359H223.39z"/>
<path class="c" d="M227.53 347.89H232V359H227.53z"/>
<path class="e" d="M231.66 347.89H236V359H231.66z"/>
<path class="c" d="M235.8 347.89H240V359H235.8z"/>
<path class="e" d="M239.94 347.89H245V359H239.94z"/>
<path class="d" d="M244.07 347.89H249V359H244.07z"/>
<path class="c" d="M248.21 347.89H265V359H248.21z"/>
<path class="d" d="M264.76 347.89H274V359H264.76z"/>
<path class="e" d="M273.04 347.89H278V359H273.04z"/>
<path class="d" d="M277.18 347.89H298V359H277.18z"/>
<path class="h" d="M297.86 347.89H302V359H297.86z"/>
<path class="d" d="M302 347.89H307V359H302z"/>
<path class="f" d="M306.14 347.89H311V359H306.14z"/>
<path class="g" d="M310.27 347.89H327V359H310.27z"/>
<path class="e" d="M326.83 347.89H344V359H326.83z"/>
<path class="f" d="M343.38 347.89H348V359H343.38z"/>
<path class="e" d="M347.51 347.89H352V359H347.51z"/>
<path class="g" d="M351.65 347.89H356V359H351.65z"/>
<path class="i" d="M355.79 347.89H360V359H355.79z"/>
<path class="g" d="M359.93 347.89H369V359H359.93z"/>
<path class="f" d="M368.2 347.89H373V359H368.2z"/>
<path class="d" d="M372.34 347.89H381V359H372.34z"/>
<path class="e" d="M380.61 347.89H385V359H380.61z"/>
<path class="g" d="M384.75 347.89H389V359H384.75z"/>
<path class="e" d="M388.89 347.89H394V359H388.89z"/>
<path class="h" d="M393.03 347.89H398V359H393.03z"/>
<path class="g" d="M397.16 347.89H402V359H397.16z"/>
<path class="h" d="M401.3 347.89H410V359H401.3z"/>
<path class="i" d="M409.57 347.89H414V359H409.57z"/>
<path class="g" d="M413.71 347.89H418V359H413.71z"/>
<path class="h" d="M417.85 347.89H422V359H417.85z"/>
<path class="g" d="M421.99 347.89H427V359H421.99z"/>
<path class="h" d="M426.12 347.89H431V359H426.12z"/>
<path class="i" d="M430.26 347.89H435V359H430.26z"/>
<path class="h" d="M434.4 347.89H439V359H434.4z"/>
<path class="i" d="M438.54 347.89H447V359H438.54z"/>
<path class="h" d="M446.81 347.89H476V359H446.81z"/>
<path class="i" d="M475.78 347.89H480V359H475.78z"/>
<path class="h" d="M479.91 347.89H485V359H479.91z"/>
<path class="i" d="M484.05 347.89H489V359H484.05z"/>
<path class="h" d="M488.19 347.89H497V359H488.19z"/>
<path class="g" d="M496.46 347.89H501V359H496.46z"/>
<path class="h" d="M500.6 347.89H505V359H500.6z"/>
<path class="f" d="M504.74 347.89H509V359H504.74z"/>
<path class="e" d="M508.88 347.89H514V359H508.88z"/>
<path class="h" d="M513.01 347.89H522V359H513.01z"/>
<path class="g" d="M521.29 347.89H530V359H521.29z"/>
<path class="h" d="M529.56 347.89H534V359H529.56z"/>
<path class="g" d="M533.7 347.89H538V359H533.7z"/>
<path class="i" d="M537.84 347.89H551V359H537.84z"/>
<path class="h" d="M550.25 347.89H567V359H550.25z"/>
<path class="i" d="M566.8 347.89H576V359H566.8z"/>
<path class="h" d="M575.08 347.89H580V359H575.08z"/>
<path class="i" d="M579.21 347.89H584V359H579.21z"/>
<path class="h" d="M583.35 347.89H588V359H583.35z"/>
<path class="i" d="M587.49 347.89H625V359H587.49z"/>
<path class="h" d="M624.73 347.89H633V359H624.73z"/>
<path class="d" d="M136.5 358.45H145V370H136.5z"/>
<path class="e" d="M144.78 358.45H149V370H144.78z"/>
<path class="d" d="M148.91 358.45H187V370H148.91z"/>
<path class="e" d="M186.15 358.45H191V370H186.15z"/>
<path class="d" d="M190.29 358.45H224V370H190.29z"/>
<path class="e" d="M223.39 358.45H228V370H223.39z"/>
<path class="d" d="M227.53 358.45H274V370H227.53z"/>
<path class="e" d="M273.04 358.45H282V370H273.04z"/>
<path class="d" d="M281.31 358.45H286V370H281.31z"/>
<path class="f" d="M285.45 358.45H290V370H285.45z"/>
<path class="d" d="M289.59 358.45H298V370H289.59z"/>
<path class="e" d="M297.86 358.45H302V370H297.86z"/>
<path class="d" d="M302 358.45H311V370H302z"/>
<path class="e" d="M310.27 358.45H315V370H310.27z"/>
<path class="f" d="M314.41 358.45H319V370H314.41z"/>
<path class="e" d="M318.55 358.45H327V370H318.55z"/>
<path class="d" d="M326.83 358.45H336V370H326.83z"/>
<path class="e" d="M335.1 358.45H340V370H335.1z"/>
<path class="f" d="M339.24 358.45H344V370H339.24z"/>
<path class="d" d="M343.38 358.45H356V370H343.38z"/>
<path class="e" d="M355.79 358.45H365V370H355.79z"/>
<path class="f" d="M364.06 358.45H369V370H364.06z"/>
<path class="d" d="M368.2 358.45H385V370H368.2z"/>
<path class="f" d="M384.75 358.45H398V370H384.75z"/>
<path class="g" d="M397.16 358.45H402V370H397.16z"/>
<path class="f" d="M401.3 358.45H406V370H401.3z"/>
<path class="g" d="M405.44 358.45H410V370H405.44z"/>
<path class="i" d="M409.57 358.45H414V370H409.57z"/>
<path class="f" d="M413.71 358.45H422V370H413.71z"/>
<path class="h" d="M421.99 358.45H427V370H421.99z"/>
<path class="g" d="M426.12 358.45H439V370H426.12z"/>
<path class="h" d="M438.54 358.45H443V370H438.54z"/>
<path class="f" d="M442.68 358.45H447V370H442.68z"/>
<path class="h" d="M446.81 358.45H468V370H446.81z"/>
<path class="i" d="M467.5 358.45H472V370H467.5z"/>
<path class="j" d="M471.64 358.45H476V370H471.64z"/>
<path class="i" d="M475.78 358.45H489V370H475.78z"/>
<path class="j" d="M488.19 358.45H501V370H488.19z"/>
<path class="i" d="M500.6 358.45H505V370H500.6z"/>
<path class="h" d="M504.74 358.45H509V370H504.74z"/>
<path class="i" d="M508.88 358.45H514V370H508.88z"/>
<path class="h" d="M513.01 358.45H518V370H513.01z"/>
<path class="f" d="M517.15 358.45H522V370H517.15z"/>
<path class="i" d="M521.29 358.45H530V370H521.29z"/>
<path class="h" d="M529.56 358.45H534V370H529.56z"/>
<path class="i" d="M533.7 358.45H542V370H533.7z"/>
<path class="j" d="M541.98 358.45H547V370H541.98z"/>
<path class="h" d="M546.11 358.45H555V370H546.11z"/>
<path class="i" d="M554.39 358.45H563V370H554.39z"/>
<path class="j" d="M562.66 358.45H567V370H562.66z"/>
<path class="h" d="M566.8 358.45H576V370H566.8z"/>
<path class="i" d="M575.08 358.45H580V370H575.08z"/>
<path class="j" d="M579.21 358.45H584V370H579.21z"/>
<path class="i" d="M583.35 358.45H588V370H583.35z"/>
<path class="j" d="M587.49 358.45H592V370H587.49z"/>
<path class="i" d="M591.62 358.45H600V370H591.62z"/>
<path class="j" d="M599.9 358.45H605V370H599.9z"/>
<path class="i" d="M604.04 358.45H609V370H604.04z"/>
<path class="j" d="M608.17 358.45H617V370H608.17z"/>
<path class="h" d="M616.45 358.45H621V370H616.45z"/>
<path class="i" d="M620.59 358.45H629V370H620.59z"/>
<path class="j" d="M628.86 358.45H633V370H628.86z"/>
<path class="e" d="M136.5 369.01H141V380H136.5z"/>
<path class="d" d="M140.64 369.01H149V380H140.64z"/>
<path class="e" d="M148.91 369.01H154V380H148.91z"/>
<path class="f" d="M153.05 369.01H158V380H153.05z"/>
<path class="d" d="M157.19 369.01H170V380H157.19z"/>
<path class="e" d="M169.6 369.01H174V380H169.6z"/>
<path class="d" d="M173.74 369.01H195V380H173.74z"/>
<path class="c" d="M194.43 369.01H199V380H194.43z"/>
<path class="d" d="M198.56 369.01H203V380H198.56z"/>
<path class="c" d="M202.7 369.01H207V380H202.7z"/>
<path class="d" d="M206.84 369.01H211V380H206.84z"/>
<path class="c" d="M210.98 369.01H216V380H210.98z"/>
<path class="d" d="M215.11 369.01H228V380H215.11z"/>
<path class="c" d="M227.53 369.01H236V380H227.53z"/>
<path class="d" d="M235.8 369.01H249V380H235.8z"/>
<path class="c" d="M248.21 369.01H253V380H248.21z"/>
<path class="d" d="M252.35 369.01H261V380H252.35z"/>
<path class="e" d="M260.62 369.01H269V380H260.62z"/>
<path class="d" d="M268.9 369.01H278V380H268.9z"/>
<path class="c" d="M277.18 369.01H282V380H277.18z"/>
<path class="e" d="M281.31 369.01H286V380H281.31z"/>
<path class="g" d="M285.45 369.01H290V380H285.45z"/>
<path class="d" d="M289.59 369.01H298V380H289.59z"/>
<path class="e" d="M297.86 369.01H307V380H297.86z"/>
<path class="f" d="M306.14 369.01H311V380H306.14z"/>
<path class="e" d="M310.27 369.01H327V380H310.27z"/>
<path class="d" d="M326.83 369.01H340V380H326.83z"/>
<path class="e" d="M339.24 369.01H344V380H339.24z"/>
<path class="d" d="M343.38 369.01H360V380H343.38z"/>
<path class="e" d="M359.93 369.01H365V380H359.93z"/>
<path class="f" d="M364.06 369.01H373V380H364.06z"/>
<path class="d" d="M372.34 369.01H385V380H372.34z"/>
<path class="e" d="M384.75 369.01H389V380H384.75z"/>
<path class="f" d="M388.89 369.01H394V380H388.89z"/>
<path class="g" d="M393.03 369.01H398V380H393.03z"/>
<path class="f" d="M397.16 369.01H406V380H397.16z"/>
<path class="h" d="M405.44 369.01H410V380H405.44z"/>
<path class="i" d="M409.57 369.01H414V380H409.57z"/>
<path class="g" d="M413.71 369.01H422V380H413.71z"/>
<path class="i" d="M421.99 369.01H427V380H421.99z"/>
<path class="g" d="M426.12 369.01H431V380H426.12z"/>
<path class="h" d="M430.26 369.01H439V380H430.26z"/>
<path class="i" d="M438.54 369.01H443V380H438.54z"/>
<path class="h" d="M442.68 369.01H456V380H442.68z"/>
<path class="g" d="M455.09 369.01H464V380H455.09z"/>
<path class="h" d="M463.36 369.01H472V380H463.36z"/>
<path class="i" d="M471.64 369.01H480V380H471.64z"/>
<path class="g" d="M479.91 369.01H485V380H479.91z"/>
<path class="h" d="M484.05 369.01H489V380H484.05z"/>
<path class="i" d="M488.19 369.01H518V380H488.19z"/>
<path class="h" d="M517.15 369.01H522V380H517.15z"/>
<path class="g" d="M521.29 369.01H526V380H521.29z"/>
<path class="h" d="M525.42 369.01H530V380H525.42z"/>
<path class="i" d="M529.56 369.01H547V380H529.56z"/>
<path class="h" d="M546.11 369.01H551V380H546.11z"/>
<path class="i" d="M550.25 369.01H555V380H550.25z"/>
<path class="j" d="M554.39 369.01H559V380H554.39z"/>
<path class="i" d="M558.53 369.01H567V380H558.53z"/>
<path class="h" d="M566.8 369.01H571V380H566.8z"/>
<path class="i" d="M570.94 369.01H584V380H570.94z"/>
<path class="h" d="M583.35 369.01H588V380H583.35z"/>
<path class="i" d="M587.49 369.01H609V380H587.49z"/>
<path class="j" d="M608.17 369.01H613V380H608.17z"/>
<path class="i" d="M612.31 369.01H633V380H612.31z"/>
<path class="j" d="M136.5 379.57H141V391H136.5z"/>
<path class="i" d="M140.64 379.57H145V391H140.64z"/>
<path class="b" d="M144.78 379.57H149V391H144.78z"/>
<path class="f" d="M148.91 379.57H154V391H148.91z"/>
<path class="i" d="M153.05 379.57H158V391H153.05z"/>
<path class="h" d="M157.19 379.57H162V391H157.19z"/>
<path class="i" d="M161.32 379.57H166V391H161.32z"/>
<path class="b" d="M165.46 379.57H174V391H165.46z"/>
<path class="h" d="M173.74 379.57H178V391H173.74z"/>
<path class="f" d="M177.88 379.57H183V391H177.88z"/>
<path class="e" d="M182.01 379.57H187V391H182.01z"/>
<path class="g" d="M186.15 379.57H191V391H186.15z"/>
<path class="h" d="M190.29 379.57H195V391H190.29z"/>
<path class="g" d="M194.43 379.57H199V391H194.43z"/>
<path class="j" d="M198.56 379.57H203V391H198.56z"/>
<path class="g" d="M202.7 379.57H207V391H202.7z"/>
<path class="k" d="M206.84 379.57H211V391H206.84z"/>
<path class="f" d="M210.98 379.57H216V391H210.98z"/>
<path class="h" d="M215.11 379.57H220V391H215.11z"/>
<path class="i" d="M219.25 379.57H224V391H219.25z"/>
<path class="g" d="M223.39 379.57H228V391H223.39z"/>
<path class="i" d="M227.53 379.57H232V391H227.53z"/>
<path class="j" d="M231.66 379.57H236V391H231.66z"/>
<path class="h" d="M235.8 379.57H240V391H235.8z"/>
<path class="j" d="M239.94 379.57H245V391H239.94z"/>
<path class="i" d="M244.07 379.57H261V391H244.07z"/>
<path class="h" d="M260.62 379.57H265V391H260.62z"/>
<path class="f" d="M264.76 379.57H269V391H264.76z"/>
<path class="i" d="M268.9 379.57H274V391H268.9z"/>
<path class="f" d="M273.04 379.57H278V391H273.04z"/>
<path class="h" d="M277.18 379.57H282V391H277.18z"/>
<path class="i" d="M281.31 379.57H290V391H281.31z"/>
<path class="j" d="M289.59 379.57H294V391H289.59z"/>
<path class="i" d="M293.73 379.57H298V391H293.73z"/>
<path class="h" d="M297.86 379.57H302V391H297.86z"/>
<path class="i" d="M302 379.57H311V391H302z"/>
<path class="g" d="M310.27 379.57H315V391H310.27z"/>
<path class="f" d="M314.41 379.57H319V391H314.41z"/>
<path class="g" d="M318.55 379.57H327V391H318.55z"/>
<path class="h" d="M326.83 379.57H331V391H326.83z"/>
<path class="i" d="M330.96 379.57H336V391H330.96z"/>
<path class="f" d="M335.1 379.57H340V391H335.1z"/>
<path class="g" d="M339.24 379.57H344V391H339.24z"/>
<path class="i" d="M343.38 379.57H348V391H343.38z"/>
<path class="k" d="M347.51 379.57H352V391H347.51z"/>
<path class="i" d="M351.65 379.57H360V391H351.65z"/>
<path class="h" d="M359.93 379.57H369V391H359.93z"/>
<path class="i" d="M368.2 379.57H381V391H368.2z"/>
<path class="j" d="M380.61 379.57H385V391H380.61z"/>
<path class="d" d="M384.75 379.57H389V391H384.75z"/>
<path class="c" d="M388.89 379.57H402V391H388.89z"/>
<path class="e" d="M401.3 379.57H406V391H401.3z"/>
<path class="d" d="M405.44 379.57H414V391H405.44z"/>
<path class="c" d="M413.71 379.57H418V391H413.71z"/>
<path class="d" d="M417.85 379.57H427V391H417.85z"/>
<path class="h" d="M426.12 379.57H431V391H426.12z"/>
<path class="i" d="M430.26 379.57H435V391H430.26z"/>
<path class="f" d="M434.4 379.57H439V391H434.4z"/>
<path class="e" d="M438.54 379.57H443V391H438.54z"/>
<path class="f" d="M442.68 379.57H451V391H442.68z"/>
<path class="e" d="M450.95 379.57H464V391H450.95z"/>
<path class="d" d="M463.36 379.57H472V391H463.36z"/>
<path class="e" d="M471.64 379.57H476V391H471.64z"/>
<path class="d" d="M475.78 379.57H480V391H475.78z"/>
<path class="f" d="M479.91 379.57H485V391H479.91z"/>
<path class="e" d="M484.05 379.57H489V391H484.05z"/>
<path class="f" d="M488.19 379.57H497V391H488.19z"/>
<path class="e" d="M496.46 379.57H501V391H496.46z"/>
<path class="f" d="M500.6 379.57H505V391H500.6z"/>
<path class="d" d="M504.74 379.57H509V391H504.74z"/>
<path class="e" d="M508.88 379.57H514V391H508.88z"/>
<path class="c" d="M513.01 379.57H518V391H513.01z"/>
<path class="e" d="M517.15 379.57H522V391H517.15z"/>
<path class="c" d="M521.29 379.57H526V391H521.29z"/>
<path class="d" d="M525.42 379.57H551V391H525.42z"/>
<path class="c" d="M550.25 379.57H555V391H550.25z"/>
<path class="e" d="M554.39 379.57H559V391H554.39z"/>
<path class="f" d="M558.53 379.57H567V391H558.53z"/>
<path class="e" d="M566.8 379.57H576V391H566.8z"/>
<path class="f" d="M575.08 379.57H584V391H575.08z"/>
<path class="b" d="M583.35 379.57H588V391H583.35z"/>
<path class="e" d="M587.49 379.57H596V391H587.49z"/>
<path class="d" d="M595.76 379.57H609V391H595.76z"/>
<path class="f" d="M608.17 379.57H613V391H608.17z"/>
<path class="e" d="M612.31 379.57H621V391H612.31z"/>
<path class="d" d="M620.59 379.57H625V391H620.59z"/>
<path class="e" d="M624.73 379.57H633V391H624.73z"/>
<path class="j" d="M136.5 390.13H141V401H136.5z"/>
<path class="i" d="M140.64 390.13H145V401H140.64z"/>
<path class="c" d="M144.78 390.13H149V401H144.78z"/>
<path class="f" d="M148.91 390.13H154V401H148.91z"/>
<path class="i" d="M153.05 390.13H162V401H153.05z"/>
<path class="h" d="M161.32 390.13H166V401H161.32z"/>
<path class="b" d="M165.46 390.13H174V401H165.46z"/>
<path class="h" d="M173.74 390.13H178V401H173.74z"/>
<path class="f" d="M177.88 390.13H183V401H177.88z"/>
<path class="e" d="M182.01 390.13H187V401H182.01z"/>
<path class="g" d="M186.15 390.13H191V401H186.15z"/>
<path class="h" d="M190.29 390.13H195V401H190.29z"/>
<path class="f" d="M194.43 390.13H199V401H194.43z"/>
<path class="j" d="M198.56 390.13H203V401H198.56z"/>
<path class="h" d="M202.7 390.13H207V401H202.7z"/>
<path class="k" d="M206.84 390.13H211V401H206.84z"/>
<path class="f" d="M210.98 390.13H216V401H210.98z"/>
<path class="h" d="M215.11 390.13H220V401H215.11z"/>
<path class="i" d="M219.25 390.13H224V401H219.25z"/>
<path class="g" d="M223.39 390.13H228V401H223.39z"/>
<path class="j" d="M227.53 390.13H236V401H227.53z"/>
<path class="h" d="M235.8 390.13H240V401H235.8z"/>
<path class="j" d="M239.94 390.13H245V401H239.94z"/>
<path class="i" d="M244.07 390.13H257V401H244.07z"/>
<path class="h" d="M256.49 390.13H265V401H256.49z"/>
<path class="f" d="M264.76 390.13H269V401H264.76z"/>
<path class="i" d="M268.9 390.13H274V401H268.9z"/>
<path class="f" d="M273.04 390.13H278V401H273.04z"/>
<path class="h" d="M277.18 390.13H282V401H277.18z"/>
<path class="i" d="M281.31 390.13H290V401H281.31z"/>
<path class="j" d="M289.59 390.13H294V401H289.59z"/>
<path class="i" d="M293.73 390.13H298V401H293.73z"/>
<path class="h" d="M297.86 390.13H302V401H297.86z"/>
<path class="i" d="M302 390.13H311V401H302z"/>
<path class="g" d="M310.27 390.13H315V401H310.27z"/>
<path class="f" d="M314.41 390.13H319V401H314.41z"/>
<path class="h" d="M318.55 390.13H323V401H318.55z"/>
<path class="g" d="M322.69 390.13H327V401H322.69z"/>
<path class="h" d="M326.83 390.13H331V401H326.83z"/>
<path class="i" d="M330.96 390.13H336V401H330.96z"/>
<path class="f" d="M335.1 390.13H340V401H335.1z"/>
<path class="g" d="M339.24 390.13H344V401H339.24z"/>
<path class="i" d="M343.38 390.13H348V401H343.38z"/>
<path class="k" d="M347.51 390.13H352V401H347.51z"/>
<path class="i" d="M351.65 390.13H360V401H351.65z"/>
<path class="g" d="M359.93 390.13H365V401H359.93z"/>
<path class="h" d="M364.06 390.13H369V401H364.06z"/>
<path class="i" d="M368.2 390.13H381V401H368.2z"/>
<path class="j" d="M380.61 390.13H385V401H380.61z"/>
<path class="d" d="M384.75 390.13H389V401H384.75z"/>
<path class="c" d="M388.89 390.13H402V401H388.89z"/>
<path class="e" d="M401.3 390.13H406V401H401.3z"/>
<path class="d" d="M405.44 390.13H414V401H405.44z"/>
<path class="c" d="M413.71 390.13H418V401H413.71z"/>
<path class="d" d="M417.85 390.13H427V401H417.85z"/>
<path class="h" d="M426.12 390.13H431V401H426.12z"/>
<path class="i" d="M430.26 390.13H435V401H430.26z"/>
<path class="f" d="M434.4 390.13H439V401H434.4z"/>
<path class="e" d="M438.54 390.13H443V401H438.54z"/>
<path class="f" d="M442.68 390.13H451V401H442.68z"/>
<path class="e" d="M450.95 390.13H464V401H450.95z"/>
<path class="d" d="M463.36 390.13H472V401H463.36z"/>
<path class="e" d="M471.64 390.13H476V401H471.64z"/>
<path class="d" d="M475.78 390.13H480V401H475.78z"/>
<path class="f" d="M479.91 390.13H485V401H479.91z"/>
<path class="e" d="M484.05 390.13H489V401H484.05z"/>
<path class="f" d="M488.19 390.13H497V401H488.19z"/>
<path class="e" d="M496.46 390.13H501V401H496.46z"/>
<path class="f" d="M500.6 390.13H505V401H500.6z"/>
<path class="d" d="M504.74 390.13H509V401H504.74z"/>
<path class="e" d="M508.88 390.13H514V401H508.88z"/>
<path class="c" d="M513.01 390.13H518V401H513.01z"/>
<path class="e" d="M517.15 390.13H522V401H517.15z"/>
<path class="c" d="M521.29 390.13H526V401H521.29z"/>
<path class="d" d="M525.42 390.13H530V401H525.42z"/>
<path class="c" d="M529.56 390.13H534V401H529.56z"/>
<path class="d" d="M533.7 390.13H547V401H533.7z"/>
<path class="c" d="M546.11 390.13H555V401H546.11z"/>
<path class="e" d="M554.39 390.13H559V401H554.39z"/>
<path class="f" d="M558.53 390.13H567V401H558.53z"/>
<path class="e" d="M566.8 390.13H576V401H566.8z"/>
<path class="f" d="M575.08 390.13H584V401H575.08z"/>
<path class="c" d="M583.35 390.13H588V401H583.35z"/>
<path class="e" d="M587.49 390.13H596V401H587.49z"/>
<path class="d" d="M595.76 390.13H609V401H595.76z"/>
<path class="e" d="M608.17 390.13H621V401H608.17z"/>
<path class="d" d="M620.59 390.13H625V401H620.59z"/>
<path class="e" d="M624.73 390.13H633V401H624.73z"/>
<path class="c" d="M136.5 400.69H141V412H136.5z"/>
<path class="d" d="M140.64 400.69H149V412H140.64z"/>
<path class="h" d="M148.91 400.69H162V412H148.91z"/>
<path class="i" d="M161.32 400.69H166V412H161.32z"/>
<path class="d" d="M165.46 400.69H170V412H165.46z"/>
<path class="i" d="M169.6 400.69H174V412H169.6z"/>
<path class="j" d="M173.74 400.69H178V412H173.74z"/>
<path class="e" d="M177.88 400.69H183V412H177.88z"/>
<path class="i" d="M182.01 400.69H191V412H182.01z"/>
<path class="h" d="M190.29 400.69H195V412H190.29z"/>
<path class="g" d="M194.43 400.69H199V412H194.43z"/>
<path class="i" d="M198.56 400.69H203V412H198.56z"/>
<path class="h" d="M202.7 400.69H207V412H202.7z"/>
<path class="i" d="M206.84 400.69H211V412H206.84z"/>
<path class="h" d="M210.98 400.69H216V412H210.98z"/>
<path class="j" d="M215.11 400.69H224V412H215.11z"/>
<path class="i" d="M223.39 400.69H232V412H223.39z"/>
<path class="j" d="M231.66 400.69H236V412H231.66z"/>
<path class="i" d="M235.8 400.69H240V412H235.8z"/>
<path class="g" d="M239.94 400.69H245V412H239.94z"/>
<path class="h" d="M244.07 400.69H249V412H244.07z"/>
<path class="d" d="M248.21 400.69H253V412H248.21z"/>
<path class="j" d="M252.35 400.69H261V412H252.35z"/>
<path class="h" d="M260.62 400.69H265V412H260.62z"/>
<path class="i" d="M264.76 400.69H278V412H264.76z"/>
<path class="j" d="M277.18 400.69H286V412H277.18z"/>
<path class="k" d="M285.45 400.69H290V412H285.45z"/>
<path class="i" d="M289.59 400.69H298V412H289.59z"/>
<path class="f" d="M297.86 400.69H302V412H297.86z"/>
<path class="h" d="M302 400.69H307V412H302z"/>
<path class="f" d="M306.14 400.69H311V412H306.14z"/>
<path class="e" d="M310.27 400.69H315V412H310.27z"/>
<path class="f" d="M314.41 400.69H319V412H314.41z"/>
<path class="i" d="M318.55 400.69H327V412H318.55z"/>
<path class="j" d="M326.83 400.69H331V412H326.83z"/>
<path class="h" d="M330.96 400.69H336V412H330.96z"/>
<path class="g" d="M335.1 400.69H340V412H335.1z"/>
<path class="h" d="M339.24 400.69H352V412H339.24z"/>
<path class="j" d="M351.65 400.69H356V412H351.65z"/>
<path class="h" d="M355.79 400.69H360V412H355.79z"/>
<path class="i" d="M359.93 400.69H365V412H359.93z"/>
<path class="h" d="M364.06 400.69H373V412H364.06z"/>
<path class="f" d="M372.34 400.69H377V412H372.34z"/>
<path class="g" d="M376.48 400.69H385V412H376.48z"/>
<path class="d" d="M384.75 400.69H398V412H384.75z"/>
<path class="e" d="M397.16 400.69H402V412H397.16z"/>
<path class="f" d="M401.3 400.69H406V412H401.3z"/>
<path class="d" d="M405.44 400.69H410V412H405.44z"/>
<path class="c" d="M409.57 400.69H414V412H409.57z"/>
<path class="e" d="M413.71 400.69H418V412H413.71z"/>
<path class="d" d="M417.85 400.69H427V412H417.85z"/>
<path class="i" d="M426.12 400.69H431V412H426.12z"/>
<path class="h" d="M430.26 400.69H435V412H430.26z"/>
<path class="g" d="M434.4 400.69H439V412H434.4z"/>
<path class="d" d="M438.54 400.69H443V412H438.54z"/>
<path class="f" d="M442.68 400.69H447V412H442.68z"/>
<path class="e" d="M446.81 400.69H460V412H446.81z"/>
<path class="d" d="M459.23 400.69H472V412H459.23z"/>
<path class="e" d="M471.64 400.69H480V412H471.64z"/>
<path class="d" d="M479.91 400.69H489V412H479.91z"/>
<path class="e" d="M488.19 400.69H493V412H488.19z"/>
<path class="f" d="M492.32 400.69H497V412H492.32z"/>
<path class="e" d="M496.46 400.69H505V412H496.46z"/>
<path class="d" d="M504.74 400.69H518V412H504.74z"/>
<path class="e" d="M517.15 400.69H522V412H517.15z"/>
<path class="d" d="M521.29 400.69H526V412H521.29z"/>
<path class="e" d="M525.42 400.69H530V412H525.42z"/>
<path class="d" d="M529.56 400.69H534V412H529.56z"/>
<path class="e" d="M533.7 400.69H542V412H533.7z"/>
<path class="d" d="M541.98 400.69H555V412H541.98z"/>
<path class="f" d="M554.39 400.69H559V412H554.39z"/>
<path class="e" d="M558.53 400.69H563V412H558.53z"/>
<path class="c" d="M562.66 400.69H567V412H562.66z"/>
<path class="d" d="M566.8 400.69H576V412H566.8z"/>
<path class="e" d="M575.08 400.69H580V412H575.08z"/>
<path class="d" d="M579.21 400.69H596V412H579.21z"/>
<path class="f" d="M595.76 400.69H600V412H595.76z"/>
<path class="c" d="M599.9 400.69H605V412H599.9z"/>
<path class="d" d="M604.04 400.69H617V412H604.04z"/>
<path class="e" d="M616.45 400.69H625V412H616.45z"/>
<path class="d" d="M624.73 400.69H633V412H624.73z"/>
<path class="c" d="M136.5 411.25H141V422H136.5z"/>
<path class="d" d="M140.64 411.25H149V422H140.64z"/>
<path class="g" d="M148.91 411.25H154V422H148.91z"/>
<path class="h" d="M153.05 411.25H162V422H153.05z"/>
<path class="i" d="M161.32 411.25H166V422H161.32z"/>
<path class="e" d="M165.46 411.25H170V422H165.46z"/>
<path class="i" d="M169.6 411.25H174V422H169.6z"/>
<path class="j" d="M173.74 411.25H178V422H173.74z"/>
<path class="e" d="M177.88 411.25H183V422H177.88z"/>
<path class="i" d="M182.01 411.25H187V422H182.01z"/>
<path class="j" d="M186.15 411.25H191V422H186.15z"/>
<path class="h" d="M190.29 411.25H195V422H190.29z"/>
<path class="f" d="M194.43 411.25H199V422H194.43z"/>
<path class="i" d="M198.56 411.25H203V422H198.56z"/>
<path class="f" d="M202.7 411.25H207V422H202.7z"/>
<path class="j" d="M206.84 411.25H211V422H206.84z"/>
<path class="g" d="M210.98 411.25H216V422H210.98z"/>
<path class="j" d="M215.11 411.25H228V422H215.11z"/>
<path class="h" d="M227.53 411.25H232V422H227.53z"/>
<path class="j" d="M231.66 411.25H236V422H231.66z"/>
<path class="i" d="M235.8 411.25H240V422H235.8z"/>
<path class="g" d="M239.94 411.25H245V422H239.94z"/>
<path class="h" d="M244.07 411.25H249V422H244.07z"/>
<path class="d" d="M248.21 411.25H253V422H248.21z"/>
<path class="j" d="M252.35 411.25H261V422H252.35z"/>
<path class="i" d="M260.62 411.25H265V422H260.62z"/>
<path class="h" d="M264.76 411.25H269V422H264.76z"/>
<path class="i" d="M268.9 411.25H278V422H268.9z"/>
<path class="j" d="M277.18 411.25H286V422H277.18z"/>
<path class="k" d="M285.45 411.25H290V422H285.45z"/>
<path class="j" d="M289.59 411.25H294V422H289.59z"/>
<path class="i" d="M293.73 411.25H298V422H293.73z"/>
<path class="f" d="M297.86 411.25H302V422H297.86z"/>
<path class="h" d="M302 411.25H307V422H302z"/>
<path class="f" d="M306.14 411.25H311V422H306.14z"/>
<path class="e" d="M310.27 411.25H315V422H310.27z"/>
<path class="f" d="M314.41 411.25H319V422H314.41z"/>
<path class="i" d="M318.55 411.25H327V422H318.55z"/>
<path class="j" d="M326.83 411.25H331V422H326.83z"/>
<path class="h" d="M330.96 411.25H336V422H330.96z"/>
<path class="f" d="M335.1 411.25H340V422H335.1z"/>
<path class="g" d="M339.24 411.25H344V422H339.24z"/>
<path class="h" d="M343.38 411.25H352V422H343.38z"/>
<path class="j" d="M351.65 411.25H356V422H351.65z"/>
<path class="h" d="M355.79 411.25H360V422H355.79z"/>
<path class="i" d="M359.93 411.25H365V422H359.93z"/>
<path class="h" d="M364.06 411.25H373V422H364.06z"/>
<path class="f" d="M372.34 411.25H377V422H372.34z"/>
<path class="g" d="M376.48 411.25H385V422H376.48z"/>
<path class="d" d="M384.75 411.25H398V422H384.75z"/>
<path class="e" d="M397.16 411.25H402V422H397.16z"/>
<path class="f" d="M401.3 411.25H406V422H401.3z"/>
<path class="d" d="M405.44 411.25H414V422H405.44z"/>
<path class="e" d="M413.71 411.25H418V422H413.71z"/>
<path class="d" d="M417.85 411.25H427V422H417.85z"/>
<path class="i" d="M426.12 411.25H431V422H426.12z"/>
<path class="h" d="M430.26 411.25H435V422H430.26z"/>
<path class="g" d="M434.4 411.25H439V422H434.4z"/>
<path class="d" d="M438.54 411.25H443V422H438.54z"/>
<path class="f" d="M442.68 411.25H447V422H442.68z"/>
<path class="e" d="M446.81 411.25H456V422H446.81z"/>
<path class="d" d="M455.09 411.25H472V422H455.09z"/>
<path class="e" d="M471.64 411.25H485V422H471.64z"/>
<path class="d" d="M484.05 411.25H489V422H484.05z"/>
<path class="e" d="M488.19 411.25H493V422H488.19z"/>
<path class="f" d="M492.32 411.25H497V422H492.32z"/>
<path class="e" d="M496.46 411.25H505V422H496.46z"/>
<path class="d" d="M504.74 411.25H518V422H504.74z"/>
<path class="e" d="M517.15 411.25H522V422H517.15z"/>
<path class="d" d="M521.29 411.25H530V422H521.29z"/>
<path class="e" d="M529.56 411.25H542V422H529.56z"/>
<path class="d" d="M541.98 411.25H555V422H541.98z"/>
<path class="f" d="M554.39 411.25H559V422H554.39z"/>
<path class="e" d="M558.53 411.25H563V422H558.53z"/>
<path class="d" d="M562.66 411.25H576V422H562.66z"/>
<path class="e" d="M575.08 411.25H580V422H575.08z"/>
<path class="d" d="M579.21 411.25H592V422H579.21z"/>
<path class="e" d="M591.62 411.25H596V422H591.62z"/>
<path class="f" d="M595.76 411.25H600V422H595.76z"/>
<path class="d" d="M599.9 411.25H617V422H599.9z"/>
<path class="e" d="M616.45 411.25H621V422H616.45z"/>
<path class="d" d="M620.59 411.25H633V422H620.59z"/>
<path class="e" d="M136.5 421.81H141V433H136.5z"/>
<path class="g" d="M140.64 421.81H145V433H140.64z"/>
<path class="e" d="M144.78 421.81H154V433H144.78z"/>
<path class="g" d="M153.05 421.81H158V433H153.05z"/>
<path class="j" d="M157.19 421.81H166V433H157.19z"/>
<path class="i" d="M165.46 421.81H170V433H165.46z"/>
<path class="j" d="M169.6 421.81H178V433H169.6z"/>
<path class="h" d="M177.88 421.81H183V433H177.88z"/>
<path class="f" d="M182.01 421.81H187V433H182.01z"/>
<path class="h" d="M186.15 421.81H191V433H186.15z"/>
<path class="k" d="M190.29 421.81H195V433H190.29z"/>
<path class="i" d="M194.43 421.81H199V433H194.43z"/>
<path class="k" d="M198.56 421.81H203V433H198.56z"/>
<path class="e" d="M202.7 421.81H207V433H202.7z"/>
<path class="f" d="M206.84 421.81H211V433H206.84z"/>
<path class="h" d="M210.98 421.81H216V433H210.98z"/>
<path class="g" d="M215.11 421.81H220V433H215.11z"/>
<path class="h" d="M219.25 421.81H224V433H219.25z"/>
<path class="g" d="M223.39 421.81H228V433H223.39z"/>
<path class="f" d="M227.53 421.81H232V433H227.53z"/>
<path class="j" d="M231.66 421.81H236V433H231.66z"/>
<path class="i" d="M235.8 421.81H240V433H235.8z"/>
<path class="j" d="M239.94 421.81H245V433H239.94z"/>
<path class="i" d="M244.07 421.81H257V433H244.07z"/>
<path class="j" d="M256.49 421.81H261V433H256.49z"/>
<path class="k" d="M260.62 421.81H269V433H260.62z"/>
<path class="i" d="M268.9 421.81H278V433H268.9z"/>
<path class="k" d="M277.18 421.81H282V433H277.18z"/>
<path class="i" d="M281.31 421.81H286V433H281.31z"/>
<path class="f" d="M285.45 421.81H290V433H285.45z"/>
<path class="h" d="M289.59 421.81H294V433H289.59z"/>
<path class="i" d="M293.73 421.81H298V433H293.73z"/>
<path class="j" d="M297.86 421.81H302V433H297.86z"/>
<path class="i" d="M302 421.81H311V433H302z"/>
<path class="f" d="M310.27 421.81H315V433H310.27z"/>
<path class="i" d="M314.41 421.81H323V433H314.41z"/>
<path class="j" d="M322.69 421.81H327V433H322.69z"/>
<path class="h" d="M326.83 421.81H331V433H326.83z"/>
<path class="i" d="M330.96 421.81H336V433H330.96z"/>
<path class="f" d="M335.1 421.81H340V433H335.1z"/>
<path class="g" d="M339.24 421.81H344V433H339.24z"/>
<path class="f" d="M343.38 421.81H348V433H343.38z"/>
<path class="g" d="M347.51 421.81H356V433H347.51z"/>
<path class="h" d="M355.79 421.81H365V433H355.79z"/>
<path class="g" d="M364.06 421.81H369V433H364.06z"/>
<path class="f" d="M368.2 421.81H373V433H368.2z"/>
<path class="h" d="M372.34 421.81H381V433H372.34z"/>
<path class="g" d="M380.61 421.81H385V433H380.61z"/>
<path class="d" d="M384.75 421.81H394V433H384.75z"/>
<path class="e" d="M393.03 421.81H402V433H393.03z"/>
<path class="d" d="M401.3 421.81H406V433H401.3z"/>
<path class="f" d="M405.44 421.81H410V433H405.44z"/>
<path class="e" d="M409.57 421.81H422V433H409.57z"/>
<path class="d" d="M421.99 421.81H427V433H421.99z"/>
<path class="f" d="M426.12 421.81H431V433H426.12z"/>
<path class="d" d="M430.26 421.81H435V433H430.26z"/>
<path class="e" d="M434.4 421.81H439V433H434.4z"/>
<path class="d" d="M438.54 421.81H443V433H438.54z"/>
<path class="e" d="M442.68 421.81H447V433H442.68z"/>
<path class="d" d="M446.81 421.81H451V433H446.81z"/>
<path class="e" d="M450.95 421.81H460V433H450.95z"/>
<path class="d" d="M459.23 421.81H464V433H459.23z"/>
<path class="e" d="M463.36 421.81H472V433H463.36z"/>
<path class="d" d="M471.64 421.81H480V433H471.64z"/>
<path class="e" d="M479.91 421.81H489V433H479.91z"/>
<path class="d" d="M488.19 421.81H514V433H488.19z"/>
<path class="c" d="M513.01 421.81H522V433H513.01z"/>
<path class="d" d="M521.29 421.81H530V433H521.29z"/>
<path class="c" d="M529.56 421.81H534V433H529.56z"/>
<path class="e" d="M533.7 421.81H538V433H533.7z"/>
<path class="d" d="M537.84 421.81H547V433H537.84z"/>
<path class="e" d="M546.11 421.81H555V433H546.11z"/>
<path class="d" d="M554.39 421.81H567V433H554.39z"/>
<path class="e" d="M566.8 421.81H571V433H566.8z"/>
<path class="d" d="M570.94 421.81H576V433H570.94z"/>
<path class="e" d="M575.08 421.81H588V433H575.08z"/>
<path class="d" d="M587.49 421.81H592V433H587.49z"/>
<path class="e" d="M591.62 421.81H596V433H591.62z"/>
<path class="d" d="M595.76 421.81H633V433H595.76z"/>
<path class="e" d="M136.5 432.37H141V443H136.5z"/>
<path class="g" d="M140.64 432.37H145V443H140.64z"/>
<path class="d" d="M144.78 432.37H154V443H144.78z"/>
<path class="g" d="M153.05 432.37H158V443H153.05z"/>
<path class="j" d="M157.19 432.37H166V443H157.19z"/>
<path class="i" d="M165.46 432.37H170V443H165.46z"/>
<path class="j" d="M169.6 432.37H178V443H169.6z"/>
<path class="h" d="M177.88 432.37H183V443H177.88z"/>
<path class="f" d="M182.01 432.37H187V443H182.01z"/>
<path class="h" d="M186.15 432.37H191V443H186.15z"/>
<path class="k" d="M190.29 432.37H195V443H190.29z"/>
<path class="i" d="M194.43 432.37H199V443H194.43z"/>
<path class="j" d="M198.56 432.37H203V443H198.56z"/>
<path class="e" d="M202.7 432.37H207V443H202.7z"/>
<path class="f" d="M206.84 432.37H211V443H206.84z"/>
<path class="h" d="M210.98 432.37H216V443H210.98z"/>
<path class="f" d="M215.11 432.37H220V443H215.11z"/>
<path class="h" d="M219.25 432.37H228V443H219.25z"/>
<path class="f" d="M227.53 432.37H232V443H227.53z"/>
<path class="j" d="M231.66 432.37H236V443H231.66z"/>
<path class="i" d="M235.8 432.37H240V443H235.8z"/>
<path class="j" d="M239.94 432.37H245V443H239.94z"/>
<path class="i" d="M244.07 432.37H257V443H244.07z"/>
<path class="j" d="M256.49 432.37H265V443H256.49z"/>
<path class="k" d="M264.76 432.37H269V443H264.76z"/>
<path class="i" d="M268.9 432.37H278V443H268.9z"/>
<path class="j" d="M277.18 432.37H286V443H277.18z"/>
<path class="f" d="M285.45 432.37H290V443H285.45z"/>
<path class="h" d="M289.59 432.37H294V443H289.59z"/>
<path class="i" d="M293.73 432.37H298V443H293.73z"/>
<path class="j" d="M297.86 432.37H302V443H297.86z"/>
<path class="i" d="M302 432.37H311V443H302z"/>
<path class="f" d="M310.27 432.37H315V443H310.27z"/>
<path class="j" d="M314.41 432.37H319V443H314.41z"/>
<path class="i" d="M318.55 432.37H323V443H318.55z"/>
<path class="j" d="M322.69 432.37H327V443H322.69z"/>
<path class="h" d="M326.83 432.37H331V443H326.83z"/>
<path class="i" d="M330.96 432.37H336V443H330.96z"/>
<path class="e" d="M335.1 432.37H340V443H335.1z"/>
<path class="f" d="M339.24 432.37H348V443H339.24z"/>
<path class="g" d="M347.51 432.37H356V443H347.51z"/>
<path class="h" d="M355.79 432.37H365V443H355.79z"/>
<path class="f" d="M364.06 432.37H373V443H364.06z"/>
<path class="h" d="M372.34 432.37H385V443H372.34z"/>
<path class="d" d="M384.75 432.37H406V443H384.75z"/>
<path class="f" d="M405.44 432.37H410V443H405.44z"/>
<path class="e" d="M409.57 432.37H422V443H409.57z"/>
<path class="d" d="M421.99 432.37H427V443H421.99z"/>
<path class="e" d="M426.12 432.37H439V443H426.12z"/>
<path class="d" d="M438.54 432.37H443V443H438.54z"/>
<path class="e" d="M442.68 432.37H447V443H442.68z"/>
<path class="d" d="M446.81 432.37H456V443H446.81z"/>
<path class="e" d="M455.09 432.37H460V443H455.09z"/>
<path class="d" d="M459.23 432.37H464V443H459.23z"/>
<path class="e" d="M463.36 432.37H468V443H463.36z"/>
<path class="d" d="M467.5 432.37H480V443H467.5z"/>
<path class="e" d="M479.91 432.37H489V443H479.91z"/>
<path class="d" d="M488.19 432.37H509V443H488.19z"/>
<path class="e" d="M508.88 432.37H514V443H508.88z"/>
<path class="d" d="M513.01 432.37H534V443H513.01z"/>
<path class="e" d="M533.7 432.37H538V443H533.7z"/>
<path class="d" d="M537.84 432.37H542V443H537.84z"/>
<path class="e" d="M541.98 432.37H547V443H541.98z"/>
<path class="d" d="M546.11 432.37H555V443H546.11z"/>
<path class="e" d="M554.39 432.37H559V443H554.39z"/>
<path class="d" d="M558.53 432.37H576V443H558.53z"/>
<path class="e" d="M575.08 432.37H584V443H575.08z"/>
<path class="d" d="M583.35 432.37H617V443H583.35z"/>
<path class="e" d="M616.45 432.37H625V443H616.45z"/>
<path class="d" d="M624.73 432.37H633V443H624.73z"/>
<path class="k" d="M136.5 442.93H141V454H136.5z"/>
<path class="l" d="M140.64 442.93H145V454H140.64z"/>
<path class="e" d="M144.78 442.93H149V454H144.78z"/>
<path class="k" d="M148.91 442.93H158V454H148.91z"/>
<path class="g" d="M157.19 442.93H162V454H157.19z"/>
<path class="f" d="M161.32 442.93H166V454H161.32z"/>
<path class="e" d="M165.46 442.93H170V454H165.46z"/>
<path class="d" d="M169.6 442.93H174V454H169.6z"/>
<path class="e" d="M173.74 442.93H178V454H173.74z"/>
<path class="f" d="M177.88 442.93H203V454H177.88z"/>
<path class="h" d="M202.7 442.93H207V454H202.7z"/>
<path class="g" d="M206.84 442.93H211V454H206.84z"/>
<path class="e" d="M210.98 442.93H224V454H210.98z"/>
<path class="i" d="M223.39 442.93H228V454H223.39z"/>
<path class="g" d="M227.53 442.93H232V454H227.53z"/>
<path class="e" d="M231.66 442.93H236V454H231.66z"/>
<path class="f" d="M235.8 442.93H240V454H235.8z"/>
<path class="g" d="M239.94 442.93H245V454H239.94z"/>
<path class="j" d="M244.07 442.93H249V454H244.07z"/>
<path class="g" d="M248.21 442.93H257V454H248.21z"/>
<path class="j" d="M256.49 442.93H269V454H256.49z"/>
<path class="f" d="M268.9 442.93H274V454H268.9z"/>
<path class="g" d="M273.04 442.93H278V454H273.04z"/>
<path class="i" d="M277.18 442.93H286V454H277.18z"/>
<path class="j" d="M285.45 442.93H290V454H285.45z"/>
<path class="l" d="M289.59 442.93H294V454H289.59z"/>
<path class="i" d="M293.73 442.93H298V454H293.73z"/>
<path class="k" d="M297.86 442.93H302V454H297.86z"/>
<path class="i" d="M302 442.93H307V454H302z"/>
<path class="j" d="M306.14 442.93H311V454H306.14z"/>
<path class="e" d="M310.27 442.93H315V454H310.27z"/>
<path class="d" d="M314.41 442.93H319V454H314.41z"/>
<path class="e" d="M318.55 442.93H323V454H318.55z"/>
<path class="g" d="M322.69 442.93H327V454H322.69z"/>
<path class="f" d="M326.83 442.93H331V454H326.83z"/>
<path class="k" d="M330.96 442.93H336V454H330.96z"/>
<path class="f" d="M335.1 442.93H348V454H335.1z"/>
<path class="e" d="M347.51 442.93H356V454H347.51z"/>
<path class="h" d="M355.79 442.93H360V454H355.79z"/>
<path class="i" d="M359.93 442.93H365V454H359.93z"/>
<path class="j" d="M364.06 442.93H369V454H364.06z"/>
<path class="k" d="M368.2 442.93H381V454H368.2z"/>
<path class="j" d="M380.61 442.93H385V454H380.61z"/>
<path class="e" d="M384.75 442.93H389V454H384.75z"/>
<path class="g" d="M388.89 442.93H394V454H388.89z"/>
<path class="e" d="M393.03 442.93H398V454H393.03z"/>
<path class="g" d="M397.16 442.93H402V454H397.16z"/>
<path class="e" d="M401.3 442.93H406V454H401.3z"/>
<path class="d" d="M405.44 442.93H414V454H405.44z"/>
<path class="e" d="M413.71 442.93H422V454H413.71z"/>
<path class="d" d="M421.99 442.93H427V454H421.99z"/>
<path class="e" d="M426.12 442.93H431V454H426.12z"/>
<path class="f" d="M430.26 442.93H435V454H430.26z"/>
<path class="i" d="M434.4 442.93H439V454H434.4z"/>
<path class="h" d="M438.54 442.93H443V454H438.54z"/>
<path class="e" d="M442.68 442.93H447V454H442.68z"/>
<path class="d" d="M446.81 442.93H451V454H446.81z"/>
<path class="e" d="M450.95 442.93H485V454H450.95z"/>
<path class="d" d="M484.05 442.93H489V454H484.05z"/>
<path class="e" d="M488.19 442.93H497V454H488.19z"/>
<path class="d" d="M496.46 442.93H501V454H496.46z"/>
<path class="e" d="M500.6 442.93H505V454H500.6z"/>
<path class="d" d="M504.74 442.93H509V454H504.74z"/>
<path class="e" d="M508.88 442.93H514V454H508.88z"/>
<path class="d" d="M513.01 442.93H518V454H513.01z"/>
<path class="e" d="M517.15 442.93H538V454H517.15z"/>
<path class="d" d="M537.84 442.93H547V454H537.84z"/>
<path class="e" d="M546.11 442.93H555V454H546.11z"/>
<path class="f" d="M554.39 442.93H559V454H554.39z"/>
<path class="g" d="M558.53 442.93H563V454H558.53z"/>
<path class="d" d="M562.66 442.93H571V454H562.66z"/>
<path class="e" d="M570.94 442.93H580V454H570.94z"/>
<path class="d" d="M579.21 442.93H584V454H579.21z"/>
<path class="e" d="M583.35 442.93H588V454H583.35z"/>
<path class="d" d="M587.49 442.93H600V454H587.49z"/>
<path class="e" d="M599.9 442.93H613V454H599.9z"/>
<path class="d" d="M612.31 442.93H621V454H612.31z"/>
<path class="e" d="M620.59 442.93H625V454H620.59z"/>
<path class="d" d="M624.73 442.93H633V454H624.73z"/>
<path class="f" d="M136.5 453.49H145V465H136.5z"/>
<path class="e" d="M144.78 453.49H149V465H144.78z"/>
<path class="h" d="M148.91 453.49H154V465H148.91z"/>
<path class="g" d="M153.05 453.49H158V465H153.05z"/>
<path class="k" d="M157.19 453.49H162V465H157.19z"/>
<path class="j" d="M161.32 453.49H166V465H161.32z"/>
<path class="i" d="M165.46 453.49H170V465H165.46z"/>
<path class="k" d="M169.6 453.49H183V465H169.6z"/>
<path class="f" d="M182.01 453.49H187V465H182.01z"/>
<path class="i" d="M186.15 453.49H191V465H186.15z"/>
<path class="k" d="M190.29 453.49H203V465H190.29z"/>
<path class="e" d="M202.7 453.49H211V465H202.7z"/>
<path class="i" d="M210.98 453.49H216V465H210.98z"/>
<path class="g" d="M215.11 453.49H224V465H215.11z"/>
<path class="j" d="M223.39 453.49H228V465H223.39z"/>
<path class="g" d="M227.53 453.49H232V465H227.53z"/>
<path class="j" d="M231.66 453.49H236V465H231.66z"/>
<path class="i" d="M235.8 453.49H240V465H235.8z"/>
<path class="j" d="M239.94 453.49H245V465H239.94z"/>
<path class="i" d="M244.07 453.49H249V465H244.07z"/>
<path class="g" d="M248.21 453.49H253V465H248.21z"/>
<path class="e" d="M252.35 453.49H257V465H252.35z"/>
<path class="f" d="M256.49 453.49H261V465H256.49z"/>
<path class="i" d="M260.62 453.49H265V465H260.62z"/>
<path class="k" d="M264.76 453.49H269V465H264.76z"/>
<path class="h" d="M268.9 453.49H274V465H268.9z"/>
<path class="i" d="M273.04 453.49H278V465H273.04z"/>
<path class="k" d="M277.18 453.49H282V465H277.18z"/>
<path class="j" d="M281.31 453.49H286V465H281.31z"/>
<path class="i" d="M285.45 453.49H290V465H285.45z"/>
<path class="f" d="M289.59 453.49H298V465H289.59z"/>
<path class="i" d="M297.86 453.49H302V465H297.86z"/>
<path class="f" d="M302 453.49H307V465H302z"/>
<path class="i" d="M306.14 453.49H311V465H306.14z"/>
<path class="h" d="M310.27 453.49H315V465H310.27z"/>
<path class="j" d="M314.41 453.49H319V465H314.41z"/>
<path class="h" d="M318.55 453.49H323V465H318.55z"/>
<path class="k" d="M322.69 453.49H327V465H322.69z"/>
<path class="e" d="M326.83 453.49H336V465H326.83z"/>
<path class="g" d="M335.1 453.49H340V465H335.1z"/>
<path class="j" d="M339.24 453.49H344V465H339.24z"/>
<path class="e" d="M343.38 453.49H360V465H343.38z"/>
<path class="f" d="M359.93 453.49H365V465H359.93z"/>
<path class="h" d="M364.06 453.49H369V465H364.06z"/>
<path class="e" d="M368.2 453.49H402V465H368.2z"/>
<path class="d" d="M401.3 453.49H406V465H401.3z"/>
<path class="e" d="M405.44 453.49H443V465H405.44z"/>
<path class="d" d="M442.68 453.49H447V465H442.68z"/>
<path class="e" d="M446.81 453.49H451V465H446.81z"/>
<path class="d" d="M450.95 453.49H456V465H450.95z"/>
<path class="e" d="M455.09 453.49H460V465H455.09z"/>
<path class="d" d="M459.23 453.49H464V465H459.23z"/>
<path class="e" d="M463.36 453.49H468V465H463.36z"/>
<path class="d" d="M467.5 453.49H472V465H467.5z"/>
<path class="e" d="M471.64 453.49H489V465H471.64z"/>
<path class="d" d="M488.19 453.49H493V465H488.19z"/>
<path class="e" d="M492.32 453.49H505V465H492.32z"/>
<path class="d" d="M504.74 453.49H509V465H504.74z"/>
<path class="e" d="M508.88 453.49H518V465H508.88z"/>
<path class="d" d="M517.15 453.49H522V465H517.15z"/>
<path class="e" d="M521.29 453.49H617V465H521.29z"/>
<path class="d" d="M616.45 453.49H621V465H616.45z"/>
<path class="e" d="M620.59 453.49H633V465H620.59z"/>
<path class="f" d="M136.5 464.05H145V475H136.5z"/>
<path class="e" d="M144.78 464.05H149V475H144.78z"/>
<path class="h" d="M148.91 464.05H158V475H148.91z"/>
<path class="k" d="M157.19 464.05H162V475H157.19z"/>
<path class="j" d="M161.32 464.05H170V475H161.32z"/>
<path class="k" d="M169.6 464.05H183V475H169.6z"/>
<path class="g" d="M182.01 464.05H187V475H182.01z"/>
<path class="i" d="M186.15 464.05H191V475H186.15z"/>
<path class="j" d="M190.29 464.05H199V475H190.29z"/>
<path class="k" d="M198.56 464.05H203V475H198.56z"/>
<path class="e" d="M202.7 464.05H211V475H202.7z"/>
<path class="i" d="M210.98 464.05H216V475H210.98z"/>
<path class="h" d="M215.11 464.05H224V475H215.11z"/>
<path class="j" d="M223.39 464.05H228V475H223.39z"/>
<path class="g" d="M227.53 464.05H232V475H227.53z"/>
<path class="j" d="M231.66 464.05H236V475H231.66z"/>
<path class="i" d="M235.8 464.05H240V475H235.8z"/>
<path class="j" d="M239.94 464.05H249V475H239.94z"/>
<path class="h" d="M248.21 464.05H253V475H248.21z"/>
<path class="e" d="M252.35 464.05H257V475H252.35z"/>
<path class="g" d="M256.49 464.05H261V475H256.49z"/>
<path class="i" d="M260.62 464.05H265V475H260.62z"/>
<path class="j" d="M264.76 464.05H269V475H264.76z"/>
<path class="h" d="M268.9 464.05H274V475H268.9z"/>
<path class="i" d="M273.04 464.05H278V475H273.04z"/>
<path class="k" d="M277.18 464.05H282V475H277.18z"/>
<path class="j" d="M281.31 464.05H286V475H281.31z"/>
<path class="i" d="M285.45 464.05H290V475H285.45z"/>
<path class="f" d="M289.59 464.05H298V475H289.59z"/>
<path class="i" d="M297.86 464.05H302V475H297.86z"/>
<path class="f" d="M302 464.05H307V475H302z"/>
<path class="i" d="M306.14 464.05H311V475H306.14z"/>
<path class="h" d="M310.27 464.05H315V475H310.27z"/>
<path class="j" d="M314.41 464.05H319V475H314.41z"/>
<path class="h" d="M318.55 464.05H323V475H318.55z"/>
<path class="j" d="M322.69 464.05H327V475H322.69z"/>
<path class="e" d="M326.83 464.05H336V475H326.83z"/>
<path class="f" d="M335.1 464.05H340V475H335.1z"/>
<path class="j" d="M339.24 464.05H344V475H339.24z"/>
<path class="e" d="M343.38 464.05H360V475H343.38z"/>
<path class="f" d="M359.93 464.05H365V475H359.93z"/>
<path class="h" d="M364.06 464.05H369V475H364.06z"/>
<path class="e" d="M368.2 464.05H373V475H368.2z"/>
<path class="f" d="M372.34 464.05H377V475H372.34z"/>
<path class="e" d="M376.48 464.05H451V475H376.48z"/>
<path class="d" d="M450.95 464.05H456V475H450.95z"/>
<path class="e" d="M455.09 464.05H605V475H455.09z"/>
<path class="d" d="M604.04 464.05H613V475H604.04z"/>
<path class="e" d="M612.31 464.05H633V475H612.31z"/>
<path class="c" d="M136.5 474.61H141V486H136.5z"/>
<path class="f" d="M140.64 474.61H145V486H140.64z"/>
<path class="i" d="M144.78 474.61H149V486H144.78z"/>
<path class="e" d="M148.91 474.61H154V486H148.91z"/>
<path class="h" d="M153.05 474.61H162V486H153.05z"/>
<path class="j" d="M161.32 474.61H170V486H161.32z"/>
<path class="k" d="M169.6 474.61H174V486H169.6z"/>
<path class="j" d="M173.74 474.61H191V486H173.74z"/>
<path class="k" d="M190.29 474.61H195V486H190.29z"/>
<path class="l" d="M194.43 474.61H199V486H194.43z"/>
<path class="k" d="M198.56 474.61H203V486H198.56z"/>
<path class="e" d="M202.7 474.61H211V486H202.7z"/>
<path class="g" d="M210.98 474.61H216V486H210.98z"/>
<path class="h" d="M215.11 474.61H224V486H215.11z"/>
<path class="e" d="M223.39 474.61H232V486H223.39z"/>
<path class="i" d="M231.66 474.61H236V486H231.66z"/>
<path class="f" d="M235.8 474.61H240V486H235.8z"/>
<path class="h" d="M239.94 474.61H245V486H239.94z"/>
<path class="i" d="M244.07 474.61H253V486H244.07z"/>
<path class="g" d="M252.35 474.61H257V486H252.35z"/>
<path class="h" d="M256.49 474.61H261V486H256.49z"/>
<path class="j" d="M260.62 474.61H265V486H260.62z"/>
<path class="i" d="M264.76 474.61H278V486H264.76z"/>
<path class="j" d="M277.18 474.61H286V486H277.18z"/>
<path class="h" d="M285.45 474.61H290V486H285.45z"/>
<path class="i" d="M289.59 474.61H298V486H289.59z"/>
<path class="j" d="M297.86 474.61H302V486H297.86z"/>
<path class="g" d="M302 474.61H307V486H302z"/>
<path class="i" d="M306.14 474.61H311V486H306.14z"/>
<path class="j" d="M310.27 474.61H315V486H310.27z"/>
<path class="k" d="M314.41 474.61H319V486H314.41z"/>
<path class="j" d="M318.55 474.61H327V486H318.55z"/>
<path class="e" d="M326.83 474.61H331V486H326.83z"/>
<path class="g" d="M330.96 474.61H336V486H330.96z"/>
<path class="e" d="M335.1 474.61H348V486H335.1z"/>
<path class="d" d="M347.51 474.61H356V486H347.51z"/>
<path class="f" d="M355.79 474.61H365V486H355.79z"/>
<path class="g" d="M364.06 474.61H369V486H364.06z"/>
<path class="d" d="M368.2 474.61H373V486H368.2z"/>
<path class="e" d="M372.34 474.61H389V486H372.34z"/>
<path class="d" d="M388.89 474.61H398V486H388.89z"/>
<path class="e" d="M397.16 474.61H402V486H397.16z"/>
<path class="h" d="M401.3 474.61H410V486H401.3z"/>
<path class="d" d="M409.57 474.61H414V486H409.57z"/>
<path class="f" d="M413.71 474.61H418V486H413.71z"/>
<path class="g" d="M417.85 474.61H422V486H417.85z"/>
<path class="h" d="M421.99 474.61H427V486H421.99z"/>
<path class="d" d="M426.12 474.61H431V486H426.12z"/>
<path class="e" d="M430.26 474.61H443V486H430.26z"/>
<path class="d" d="M442.68 474.61H447V486H442.68z"/>
<path class="e" d="M446.81 474.61H464V486H446.81z"/>
<path class="f" d="M463.36 474.61H468V486H463.36z"/>
<path class="e" d="M467.5 474.61H472V486H467.5z"/>
<path class="d" d="M471.64 474.61H485V486H471.64z"/>
<path class="e" d="M484.05 474.61H489V486H484.05z"/>
<path class="d" d="M488.19 474.61H493V486H488.19z"/>
<path class="e" d="M492.32 474.61H501V486H492.32z"/>
<path class="d" d="M500.6 474.61H505V486H500.6z"/>
<path class="e" d="M504.74 474.61H514V486H504.74z"/>
<path class="d" d="M513.01 474.61H526V486H513.01z"/>
<path class="e" d="M525.42 474.61H530V486H525.42z"/>
<path class="d" d="M529.56 474.61H534V486H529.56z"/>
<path class="e" d="M533.7 474.61H547V486H533.7z"/>
<path class="d" d="M546.11 474.61H551V486H546.11z"/>
<path class="e" d="M550.25 474.61H563V486H550.25z"/>
<path class="d" d="M562.66 474.61H567V486H562.66z"/>
<path class="e" d="M566.8 474.61H571V486H566.8z"/>
<path class="d" d="M570.94 474.61H596V486H570.94z"/>
<path class="e" d="M595.76 474.61H605V486H595.76z"/>
<path class="d" d="M604.04 474.61H621V486H604.04z"/>
<path class="e" d="M620.59 474.61H625V486H620.59z"/>
<path class="d" d="M624.73 474.61H629V486H624.73z"/>
<path class="e" d="M628.86 474.61H633V486H628.86z"/>
<path class="f" d="M136.5 485.17H141V496H136.5z"/>
<path class="e" d="M140.64 485.17H145V496H140.64z"/>
<path class="l" d="M144.78 485.17H149V496H144.78z"/>
<path class="j" d="M148.91 485.17H158V496H148.91z"/>
<path class="h" d="M157.19 485.17H162V496H157.19z"/>
<path class="i" d="M161.32 485.17H166V496H161.32z"/>
<path class="k" d="M165.46 485.17H170V496H165.46z"/>
<path class="j" d="M169.6 485.17H178V496H169.6z"/>
<path class="k" d="M177.88 485.17H183V496H177.88z"/>
<path class="i" d="M182.01 485.17H187V496H182.01z"/>
<path class="g" d="M186.15 485.17H191V496H186.15z"/>
<path class="j" d="M190.29 485.17H199V496H190.29z"/>
<path class="i" d="M198.56 485.17H203V496H198.56z"/>
<path class="g" d="M202.7 485.17H207V496H202.7z"/>
<path class="i" d="M206.84 485.17H216V496H206.84z"/>
<path class="g" d="M215.11 485.17H224V496H215.11z"/>
<path class="k" d="M223.39 485.17H228V496H223.39z"/>
<path class="h" d="M227.53 485.17H232V496H227.53z"/>
<path class="g" d="M231.66 485.17H236V496H231.66z"/>
<path class="k" d="M235.8 485.17H240V496H235.8z"/>
<path class="f" d="M239.94 485.17H245V496H239.94z"/>
<path class="h" d="M244.07 485.17H249V496H244.07z"/>
<path class="f" d="M248.21 485.17H253V496H248.21z"/>
<path class="e" d="M252.35 485.17H257V496H252.35z"/>
<path class="h" d="M256.49 485.17H261V496H256.49z"/>
<path class="g" d="M260.62 485.17H265V496H260.62z"/>
<path class="f" d="M264.76 485.17H269V496H264.76z"/>
<path class="g" d="M268.9 485.17H274V496H268.9z"/>
<path class="j" d="M273.04 485.17H278V496H273.04z"/>
<path class="h" d="M277.18 485.17H282V496H277.18z"/>
<path class="j" d="M281.31 485.17H290V496H281.31z"/>
<path class="i" d="M289.59 485.17H294V496H289.59z"/>
<path class="j" d="M293.73 485.17H302V496H293.73z"/>
<path class="g" d="M302 485.17H307V496H302z"/>
<path class="h" d="M306.14 485.17H311V496H306.14z"/>
<path class="i" d="M310.27 485.17H315V496H310.27z"/>
<path class="f" d="M314.41 485.17H319V496H314.41z"/>
<path class="i" d="M318.55 485.17H327V496H318.55z"/>
<path class="h" d="M326.83 485.17H331V496H326.83z"/>
<path class="g" d="M330.96 485.17H340V496H330.96z"/>
<path class="f" d="M339.24 485.17H344V496H339.24z"/>
<path class="d" d="M343.38 485.17H348V496H343.38z"/>
<path class="g" d="M347.51 485.17H356V496H347.51z"/>
<path class="e" d="M355.79 485.17H360V496H355.79z"/>
<path class="f" d="M359.93 485.17H373V496H359.93z"/>
<path class="g" d="M372.34 485.17H377V496H372.34z"/>
<path class="f" d="M376.48 485.17H381V496H376.48z"/>
<path class="g" d="M380.61 485.17H385V496H380.61z"/>
<path class="d" d="M384.75 485.17H398V496H384.75z"/>
<path class="e" d="M397.16 485.17H402V496H397.16z"/>
<path class="h" d="M401.3 485.17H406V496H401.3z"/>
<path class="d" d="M405.44 485.17H414V496H405.44z"/>
<path class="h" d="M413.71 485.17H418V496H413.71z"/>
<path class="f" d="M417.85 485.17H422V496H417.85z"/>
<path class="g" d="M421.99 485.17H427V496H421.99z"/>
<path class="f" d="M426.12 485.17H439V496H426.12z"/>
<path class="d" d="M438.54 485.17H443V496H438.54z"/>
<path class="e" d="M442.68 485.17H447V496H442.68z"/>
<path class="d" d="M446.81 485.17H456V496H446.81z"/>
<path class="e" d="M455.09 485.17H460V496H455.09z"/>
<path class="f" d="M459.23 485.17H468V496H459.23z"/>
<path class="e" d="M467.5 485.17H472V496H467.5z"/>
<path class="d" d="M471.64 485.17H476V496H471.64z"/>
<path class="f" d="M475.78 485.17H485V496H475.78z"/>
<path class="d" d="M484.05 485.17H493V496H484.05z"/>
<path class="f" d="M492.32 485.17H497V496H492.32z"/>
<path class="d" d="M496.46 485.17H509V496H496.46z"/>
<path class="e" d="M508.88 485.17H514V496H508.88z"/>
<path class="d" d="M513.01 485.17H522V496H513.01z"/>
<path class="e" d="M521.29 485.17H526V496H521.29z"/>
<path class="d" d="M525.42 485.17H530V496H525.42z"/>
<path class="e" d="M529.56 485.17H538V496H529.56z"/>
<path class="d" d="M537.84 485.17H555V496H537.84z"/>
<path class="e" d="M554.39 485.17H559V496H554.39z"/>
<path class="f" d="M558.53 485.17H571V496H558.53z"/>
<path class="d" d="M570.94 485.17H580V496H570.94z"/>
<path class="e" d="M579.21 485.17H584V496H579.21z"/>
<path class="d" d="M583.35 485.17H613V496H583.35z"/>
<path class="f" d="M612.31 485.17H617V496H612.31z"/>
<path class="d" d="M616.45 485.17H633V496H616.45z"/>
<path class="g" d="M136.5 495.73H141V507H136.5z"/>
<path class="k" d="M140.64 495.73H145V507H140.64z"/>
<path class="g" d="M144.78 495.73H158V507H144.78z"/>
<path class="h" d="M157.19 495.73H162V507H157.19z"/>
<path class="i" d="M161.32 495.73H166V507H161.32z"/>
<path class="j" d="M165.46 495.73H170V507H165.46z"/>
<path class="k" d="M169.6 495.73H174V507H169.6z"/>
<path class="i" d="M173.74 495.73H178V507H173.74z"/>
<path class="k" d="M177.88 495.73H187V507H177.88z"/>
<path class="i" d="M186.15 495.73H191V507H186.15z"/>
<path class="j" d="M190.29 495.73H195V507H190.29z"/>
<path class="i" d="M194.43 495.73H199V507H194.43z"/>
<path class="j" d="M198.56 495.73H203V507H198.56z"/>
<path class="d" d="M202.7 495.73H207V507H202.7z"/>
<path class="e" d="M206.84 495.73H211V507H206.84z"/>
<path class="i" d="M210.98 495.73H216V507H210.98z"/>
<path class="h" d="M215.11 495.73H220V507H215.11z"/>
<path class="e" d="M219.25 495.73H224V507H219.25z"/>
<path class="g" d="M223.39 495.73H228V507H223.39z"/>
<path class="j" d="M227.53 495.73H236V507H227.53z"/>
<path class="k" d="M235.8 495.73H240V507H235.8z"/>
<path class="h" d="M239.94 495.73H245V507H239.94z"/>
<path class="f" d="M244.07 495.73H249V507H244.07z"/>
<path class="e" d="M248.21 495.73H257V507H248.21z"/>
<path class="g" d="M256.49 495.73H261V507H256.49z"/>
<path class="f" d="M260.62 495.73H265V507H260.62z"/>
<path class="e" d="M264.76 495.73H269V507H264.76z"/>
<path class="h" d="M268.9 495.73H274V507H268.9z"/>
<path class="k" d="M273.04 495.73H278V507H273.04z"/>
<path class="j" d="M277.18 495.73H282V507H277.18z"/>
<path class="g" d="M281.31 495.73H286V507H281.31z"/>
<path class="i" d="M285.45 495.73H290V507H285.45z"/>
<path class="g" d="M289.59 495.73H294V507H289.59z"/>
<path class="i" d="M293.73 495.73H298V507H293.73z"/>
<path class="h" d="M297.86 495.73H302V507H297.86z"/>
<path class="g" d="M302 495.73H307V507H302z"/>
<path class="i" d="M306.14 495.73H311V507H306.14z"/>
<path class="k" d="M310.27 495.73H315V507H310.27z"/>
<path class="d" d="M314.41 495.73H319V507H314.41z"/>
<path class="h" d="M318.55 495.73H323V507H318.55z"/>
<path class="i" d="M322.69 495.73H327V507H322.69z"/>
<path class="e" d="M326.83 495.73H331V507H326.83z"/>
<path class="h" d="M330.96 495.73H336V507H330.96z"/>
<path class="i" d="M335.1 495.73H340V507H335.1z"/>
<path class="g" d="M339.24 495.73H344V507H339.24z"/>
<path class="e" d="M343.38 495.73H348V507H343.38z"/>
<path class="d" d="M347.51 495.73H356V507H347.51z"/>
<path class="f" d="M355.79 495.73H369V507H355.79z"/>
<path class="d" d="M368.2 495.73H373V507H368.2z"/>
<path class="f" d="M372.34 495.73H377V507H372.34z"/>
<path class="g" d="M376.48 495.73H381V507H376.48z"/>
<path class="e" d="M380.61 495.73H389V507H380.61z"/>
<path class="d" d="M388.89 495.73H394V507H388.89z"/>
<path class="f" d="M393.03 495.73H398V507H393.03z"/>
<path class="j" d="M397.16 495.73H402V507H397.16z"/>
<path class="g" d="M401.3 495.73H406V507H401.3z"/>
<path class="e" d="M405.44 495.73H410V507H405.44z"/>
<path class="d" d="M409.57 495.73H414V507H409.57z"/>
<path class="g" d="M413.71 495.73H418V507H413.71z"/>
<path class="i" d="M417.85 495.73H422V507H417.85z"/>
<path class="h" d="M421.99 495.73H427V507H421.99z"/>
<path class="g" d="M426.12 495.73H431V507H426.12z"/>
<path class="f" d="M430.26 495.73H435V507H430.26z"/>
<path class="e" d="M434.4 495.73H439V507H434.4z"/>
<path class="h" d="M438.54 495.73H443V507H438.54z"/>
<path class="e" d="M442.68 495.73H447V507H442.68z"/>
<path class="f" d="M446.81 495.73H451V507H446.81z"/>
<path class="e" d="M450.95 495.73H456V507H450.95z"/>
<path class="d" d="M455.09 495.73H460V507H455.09z"/>
<path class="e" d="M459.23 495.73H464V507H459.23z"/>
<path class="d" d="M463.36 495.73H480V507H463.36z"/>
<path class="e" d="M479.91 495.73H489V507H479.91z"/>
<path class="d" d="M488.19 495.73H493V507H488.19z"/>
<path class="e" d="M492.32 495.73H497V507H492.32z"/>
<path class="d" d="M496.46 495.73H501V507H496.46z"/>
<path class="e" d="M500.6 495.73H514V507H500.6z"/>
<path class="d" d="M513.01 495.73H518V507H513.01z"/>
<path class="e" d="M517.15 495.73H522V507H517.15z"/>
<path class="d" d="M521.29 495.73H530V507H521.29z"/>
<path class="f" d="M529.56 495.73H534V507H529.56z"/>
<path class="e" d="M533.7 495.73H547V507H533.7z"/>
<path class="d" d="M546.11 495.73H580V507H546.11z"/>
<path class="g" d="M579.21 495.73H584V507H579.21z"/>
<path class="d" d="M583.35 495.73H633V507H583.35z"/>
<path class="h" d="M136.5 506.29H141V517H136.5z"/>
<path class="e" d="M140.64 506.29H145V517H140.64z"/>
<path class="i" d="M144.78 506.29H149V517H144.78z"/>
<path class="g" d="M148.91 506.29H154V517H148.91z"/>
<path class="h" d="M153.05 506.29H162V517H153.05z"/>
<path class="j" d="M161.32 506.29H166V517H161.32z"/>
<path class="i" d="M165.46 506.29H191V517H165.46z"/>
<path class="j" d="M190.29 506.29H195V517H190.29z"/>
<path class="h" d="M194.43 506.29H199V517H194.43z"/>
<path class="i" d="M198.56 506.29H203V517H198.56z"/>
<path class="e" d="M202.7 506.29H207V517H202.7z"/>
<path class="h" d="M206.84 506.29H211V517H206.84z"/>
<path class="i" d="M210.98 506.29H216V517H210.98z"/>
<path class="h" d="M215.11 506.29H224V517H215.11z"/>
<path class="i" d="M223.39 506.29H228V517H223.39z"/>
<path class="f" d="M227.53 506.29H232V517H227.53z"/>
<path class="i" d="M231.66 506.29H245V517H231.66z"/>
<path class="h" d="M244.07 506.29H253V517H244.07z"/>
<path class="i" d="M252.35 506.29H265V517H252.35z"/>
<path class="h" d="M264.76 506.29H269V517H264.76z"/>
<path class="i" d="M268.9 506.29H294V517H268.9z"/>
<path class="j" d="M293.73 506.29H298V517H293.73z"/>
<path class="i" d="M297.86 506.29H302V517H297.86z"/>
<path class="h" d="M302 506.29H315V517H302z"/>
<path class="i" d="M314.41 506.29H327V517H314.41z"/>
<path class="f" d="M326.83 506.29H331V517H326.83z"/>
<path class="g" d="M330.96 506.29H340V517H330.96z"/>
<path class="f" d="M339.24 506.29H344V517H339.24z"/>
<path class="g" d="M343.38 506.29H348V517H343.38z"/>
<path class="h" d="M347.51 506.29H352V517H347.51z"/>
<path class="f" d="M351.65 506.29H356V517H351.65z"/>
<path class="g" d="M355.79 506.29H360V517H355.79z"/>
<path class="f" d="M359.93 506.29H373V517H359.93z"/>
<path class="g" d="M372.34 506.29H377V517H372.34z"/>
<path class="i" d="M376.48 506.29H385V517H376.48z"/>
<path class="g" d="M384.75 506.29H389V517H384.75z"/>
<path class="c" d="M388.89 506.29H394V517H388.89z"/>
<path class="a" d="M393.03 506.29H398V517H393.03z"/>
<path class="f" d="M397.16 506.29H402V517H397.16z"/>
<path class="h" d="M401.3 506.29H406V517H401.3z"/>
<path class="e" d="M405.44 506.29H414V517H405.44z"/>
<path class="h" d="M413.71 506.29H418V517H413.71z"/>
<path class="e" d="M417.85 506.29H422V517H417.85z"/>
<path class="f" d="M421.99 506.29H439V517H421.99z"/>
<path class="d" d="M438.54 506.29H443V517H438.54z"/>
<path class="g" d="M442.68 506.29H447V517H442.68z"/>
<path class="d" d="M446.81 506.29H451V517H446.81z"/>
<path class="e" d="M450.95 506.29H456V517H450.95z"/>
<path class="f" d="M455.09 506.29H464V517H455.09z"/>
<path class="d" d="M463.36 506.29H472V517H463.36z"/>
<path class="c" d="M471.64 506.29H480V517H471.64z"/>
<path class="e" d="M479.91 506.29H485V517H479.91z"/>
<path class="d" d="M484.05 506.29H489V517H484.05z"/>
<path class="b" d="M488.19 506.29H493V517H488.19z"/>
<path class="e" d="M492.32 506.29H501V517H492.32z"/>
<path class="c" d="M500.6 506.29H509V517H500.6z"/>
<path class="e" d="M508.88 506.29H514V517H508.88z"/>
<path class="d" d="M513.01 506.29H522V517H513.01z"/>
<path class="e" d="M521.29 506.29H526V517H521.29z"/>
<path class="c" d="M525.42 506.29H530V517H525.42z"/>
<path class="e" d="M529.56 506.29H534V517H529.56z"/>
<path class="d" d="M533.7 506.29H547V517H533.7z"/>
<path class="e" d="M546.11 506.29H551V517H546.11z"/>
<path class="c" d="M550.25 506.29H555V517H550.25z"/>
<path class="e" d="M554.39 506.29H563V517H554.39z"/>
<path class="d" d="M562.66 506.29H567V517H562.66z"/>
<path class="e" d="M566.8 506.29H571V517H566.8z"/>
<path class="g" d="M570.94 506.29H576V517H570.94z"/>
<path class="e" d="M575.08 506.29H580V517H575.08z"/>
<path class="f" d="M579.21 506.29H584V517H579.21z"/>
<path class="b" d="M583.35 506.29H588V517H583.35z"/>
<path class="d" d="M587.49 506.29H605V517H587.49z"/>
<path class="e" d="M604.04 506.29H609V517H604.04z"/>
<path class="c" d="M608.17 506.29H613V517H608.17z"/>
<path class="d" d="M612.31 506.29H617V517H612.31z"/>
<path class="b" d="M616.45 506.29H621V517H616.45z"/>
<path class="c" d="M620.59 506.29H633V517H620.59z"/>
<path class="f" d="M136.5 516.84H141V528H136.5z"/>
<path class="h" d="M140.64 516.84H145V528H140.64z"/>
<path class="g" d="M144.78 516.84H154V528H144.78z"/>
<path class="h" d="M153.05 516.84H158V528H153.05z"/>
<path class="j" d="M157.19 516.84H166V528H157.19z"/>
<path class="i" d="M165.46 516.84H170V528H165.46z"/>
<path class="j" d="M169.6 516.84H178V528H169.6z"/>
<path class="i" d="M177.88 516.84H191V528H177.88z"/>
<path class="k" d="M190.29 516.84H195V528H190.29z"/>
<path class="i" d="M194.43 516.84H199V528H194.43z"/>
<path class="j" d="M198.56 516.84H203V528H198.56z"/>
<path class="c" d="M202.7 516.84H207V528H202.7z"/>
<path class="f" d="M206.84 516.84H211V528H206.84z"/>
<path class="h" d="M210.98 516.84H228V528H210.98z"/>
<path class="f" d="M227.53 516.84H232V528H227.53z"/>
<path class="i" d="M231.66 516.84H236V528H231.66z"/>
<path class="h" d="M235.8 516.84H240V528H235.8z"/>
<path class="i" d="M239.94 516.84H253V528H239.94z"/>
<path class="h" d="M252.35 516.84H257V528H252.35z"/>
<path class="i" d="M256.49 516.84H261V528H256.49z"/>
<path class="j" d="M260.62 516.84H269V528H260.62z"/>
<path class="h" d="M268.9 516.84H274V528H268.9z"/>
<path class="i" d="M273.04 516.84H278V528H273.04z"/>
<path class="j" d="M277.18 516.84H286V528H277.18z"/>
<path class="i" d="M285.45 516.84H290V528H285.45z"/>
<path class="g" d="M289.59 516.84H294V528H289.59z"/>
<path class="i" d="M293.73 516.84H298V528H293.73z"/>
<path class="j" d="M297.86 516.84H302V528H297.86z"/>
<path class="h" d="M302 516.84H307V528H302z"/>
<path class="i" d="M306.14 516.84H323V528H306.14z"/>
<path class="j" d="M322.69 516.84H327V528H322.69z"/>
<path class="g" d="M326.83 516.84H331V528H326.83z"/>
<path class="h" d="M330.96 516.84H336V528H330.96z"/>
<path class="f" d="M335.1 516.84H344V528H335.1z"/>
<path class="d" d="M343.38 516.84H348V528H343.38z"/>
<path class="f" d="M347.51 516.84H352V528H347.51z"/>
<path class="e" d="M351.65 516.84H356V528H351.65z"/>
<path class="f" d="M355.79 516.84H360V528H355.79z"/>
<path class="h" d="M359.93 516.84H365V528H359.93z"/>
<path class="g" d="M364.06 516.84H369V528H364.06z"/>
<path class="d" d="M368.2 516.84H373V528H368.2z"/>
<path class="g" d="M372.34 516.84H381V528H372.34z"/>
<path class="f" d="M380.61 516.84H389V528H380.61z"/>
<path class="a" d="M388.89 516.84H394V528H388.89z"/>
<path class="e" d="M393.03 516.84H398V528H393.03z"/>
<path class="h" d="M397.16 516.84H402V528H397.16z"/>
<path class="g" d="M401.3 516.84H410V528H401.3z"/>
<path class="f" d="M409.57 516.84H422V528H409.57z"/>
<path class="e" d="M421.99 516.84H427V528H421.99z"/>
<path class="f" d="M426.12 516.84H431V528H426.12z"/>
<path class="d" d="M430.26 516.84H435V528H430.26z"/>
<path class="e" d="M434.4 516.84H439V528H434.4z"/>
<path class="d" d="M438.54 516.84H443V528H438.54z"/>
<path class="f" d="M442.68 516.84H447V528H442.68z"/>
<path class="d" d="M446.81 516.84H451V528H446.81z"/>
<path class="f" d="M450.95 516.84H464V528H450.95z"/>
<path class="e" d="M463.36 516.84H472V528H463.36z"/>
<path class="d" d="M471.64 516.84H480V528H471.64z"/>
<path class="e" d="M479.91 516.84H485V528H479.91z"/>
<path class="f" d="M484.05 516.84H489V528H484.05z"/>
<path class="d" d="M488.19 516.84H497V528H488.19z"/>
<path class="e" d="M496.46 516.84H505V528H496.46z"/>
<path class="c" d="M504.74 516.84H509V528H504.74z"/>
<path class="d" d="M508.88 516.84H534V528H508.88z"/>
<path class="f" d="M533.7 516.84H538V528H533.7z"/>
<path class="d" d="M537.84 516.84H542V528H537.84z"/>
<path class="e" d="M541.98 516.84H547V528H541.98z"/>
<path class="d" d="M546.11 516.84H551V528H546.11z"/>
<path class="e" d="M550.25 516.84H559V528H550.25z"/>
<path class="d" d="M558.53 516.84H567V528H558.53z"/>
<path class="e" d="M566.8 516.84H571V528H566.8z"/>
<path class="b" d="M570.94 516.84H576V528H570.94z"/>
<path class="e" d="M575.08 516.84H580V528H575.08z"/>
<path class="d" d="M579.21 516.84H588V528H579.21z"/>
<path class="e" d="M587.49 516.84H592V528H587.49z"/>
<path class="d" d="M591.62 516.84H596V528H591.62z"/>
<path class="c" d="M595.76 516.84H605V528H595.76z"/>
<path class="d" d="M604.04 516.84H609V528H604.04z"/>
<path class="c" d="M608.17 516.84H617V528H608.17z"/>
<path class="d" d="M616.45 516.84H621V528H616.45z"/>
<path class="e" d="M620.59 516.84H625V528H620.59z"/>
<path class="d" d="M624.73 516.84H633V528H624.73z"/>
<path class="b" d="M136.5 527.4H141V538H136.5z"/>
<path class="f" d="M140.64 527.4H145V538H140.64z"/>
<path class="c" d="M144.78 527.4H149V538H144.78z"/>
<path class="a" d="M148.91 527.4H154V538H148.91z"/>
<path class="c" d="M153.05 527.4H158V538H153.05z"/>
<path class="a" d="M157.19 527.4H162V538H157.19z"/>
<path class="e" d="M161.32 527.4H166V538H161.32z"/>
<path class="c" d="M165.46 527.4H170V538H165.46z"/>
<path class="a" d="M169.6 527.4H183V538H169.6z"/>
<path class="c" d="M182.01 527.4H187V538H182.01z"/>
<path class="b" d="M186.15 527.4H199V538H186.15z"/>
<path class="c" d="M198.56 527.4H203V538H198.56z"/>
<path class="d" d="M202.7 527.4H207V538H202.7z"/>
<path class="e" d="M206.84 527.4H211V538H206.84z"/>
<path class="c" d="M210.98 527.4H220V538H210.98z"/>
<path class="d" d="M219.25 527.4H224V538H219.25z"/>
<path class="c" d="M223.39 527.4H232V538H223.39z"/>
<path class="a" d="M231.66 527.4H236V538H231.66z"/>
<path class="d" d="M235.8 527.4H245V538H235.8z"/>
<path class="e" d="M244.07 527.4H253V538H244.07z"/>
<path class="h" d="M252.35 527.4H257V538H252.35z"/>
<path class="g" d="M256.49 527.4H269V538H256.49z"/>
<path class="f" d="M268.9 527.4H278V538H268.9z"/>
<path class="e" d="M277.18 527.4H282V538H277.18z"/>
<path class="c" d="M281.31 527.4H290V538H281.31z"/>
<path class="f" d="M289.59 527.4H294V538H289.59z"/>
<path class="e" d="M293.73 527.4H298V538H293.73z"/>
<path class="d" d="M297.86 527.4H302V538H297.86z"/>
<path class="f" d="M302 527.4H307V538H302z"/>
<path class="d" d="M306.14 527.4H311V538H306.14z"/>
<path class="g" d="M310.27 527.4H315V538H310.27z"/>
<path class="h" d="M314.41 527.4H319V538H314.41z"/>
<path class="f" d="M318.55 527.4H336V538H318.55z"/>
<path class="e" d="M335.1 527.4H340V538H335.1z"/>
<path class="f" d="M339.24 527.4H344V538H339.24z"/>
<path class="d" d="M343.38 527.4H348V538H343.38z"/>
<path class="e" d="M347.51 527.4H352V538H347.51z"/>
<path class="g" d="M351.65 527.4H360V538H351.65z"/>
<path class="f" d="M359.93 527.4H373V538H359.93z"/>
<path class="g" d="M372.34 527.4H377V538H372.34z"/>
<path class="f" d="M376.48 527.4H381V538H376.48z"/>
<path class="h" d="M380.61 527.4H385V538H380.61z"/>
<path class="g" d="M384.75 527.4H389V538H384.75z"/>
<path class="f" d="M388.89 527.4H394V538H388.89z"/>
<path class="h" d="M393.03 527.4H398V538H393.03z"/>
<path class="g" d="M397.16 527.4H402V538H397.16z"/>
<path class="h" d="M401.3 527.4H414V538H401.3z"/>
<path class="f" d="M413.71 527.4H418V538H413.71z"/>
<path class="g" d="M417.85 527.4H431V538H417.85z"/>
<path class="h" d="M430.26 527.4H439V538H430.26z"/>
<path class="i" d="M438.54 527.4H443V538H438.54z"/>
<path class="h" d="M442.68 527.4H447V538H442.68z"/>
<path class="i" d="M446.81 527.4H451V538H446.81z"/>
<path class="h" d="M450.95 527.4H468V538H450.95z"/>
<path class="i" d="M467.5 527.4H476V538H467.5z"/>
<path class="h" d="M475.78 527.4H509V538H475.78z"/>
<path class="g" d="M508.88 527.4H514V538H508.88z"/>
<path class="h" d="M513.01 527.4H518V538H513.01z"/>
<path class="f" d="M517.15 527.4H522V538H517.15z"/>
<path class="g" d="M521.29 527.4H526V538H521.29z"/>
<path class="h" d="M525.42 527.4H530V538H525.42z"/>
<path class="g" d="M529.56 527.4H534V538H529.56z"/>
<path class="h" d="M533.7 527.4H551V538H533.7z"/>
<path class="i" d="M550.25 527.4H555V538H550.25z"/>
<path class="h" d="M554.39 527.4H576V538H554.39z"/>
<path class="i" d="M575.08 527.4H580V538H575.08z"/>
<path class="h" d="M579.21 527.4H588V538H579.21z"/>
<path class="i" d="M587.49 527.4H592V538H587.49z"/>
<path class="h" d="M591.62 527.4H621V538H591.62z"/>
<path class="i" d="M620.59 527.4H625V538H620.59z"/>
<path class="h" d="M624.73 527.4H633V538H624.73z"/>
<path class="b" d="M136.5 537.96H141V549H136.5z"/>
<path class="f" d="M140.64 537.96H145V549H140.64z"/>
<path class="c" d="M144.78 537.96H149V549H144.78z"/>
<path class="a" d="M148.91 537.96H154V549H148.91z"/>
<path class="b" d="M153.05 537.96H158V549H153.05z"/>
<path class="a" d="M157.19 537.96H162V549H157.19z"/>
<path class="d" d="M161.32 537.96H170V549H161.32z"/>
<path class="a" d="M169.6 537.96H183V549H169.6z"/>
<path class="b" d="M182.01 537.96H199V549H182.01z"/>
<path class="d" d="M198.56 537.96H207V549H198.56z"/>
<path class="e" d="M206.84 537.96H211V549H206.84z"/>
<path class="b" d="M210.98 537.96H220V549H210.98z"/>
<path class="e" d="M219.25 537.96H224V549H219.25z"/>
<path class="c" d="M223.39 537.96H228V549H223.39z"/>
<path class="f" d="M227.53 537.96H232V549H227.53z"/>
<path class="a" d="M231.66 537.96H236V549H231.66z"/>
<path class="c" d="M235.8 537.96H240V549H235.8z"/>
<path class="d" d="M239.94 537.96H245V549H239.94z"/>
<path class="e" d="M244.07 537.96H253V549H244.07z"/>
<path class="h" d="M252.35 537.96H257V549H252.35z"/>
<path class="g" d="M256.49 537.96H269V549H256.49z"/>
<path class="f" d="M268.9 537.96H274V549H268.9z"/>
<path class="g" d="M273.04 537.96H278V549H273.04z"/>
<path class="f" d="M277.18 537.96H282V549H277.18z"/>
<path class="c" d="M281.31 537.96H286V549H281.31z"/>
<path class="d" d="M285.45 537.96H290V549H285.45z"/>
<path class="f" d="M289.59 537.96H294V549H289.59z"/>
<path class="e" d="M293.73 537.96H298V549H293.73z"/>
<path class="f" d="M297.86 537.96H311V549H297.86z"/>
<path class="g" d="M310.27 537.96H315V549H310.27z"/>
<path class="h" d="M314.41 537.96H319V549H314.41z"/>
<path class="f" d="M318.55 537.96H336V549H318.55z"/>
<path class="e" d="M335.1 537.96H340V549H335.1z"/>
<path class="g" d="M339.24 537.96H344V549H339.24z"/>
<path class="d" d="M343.38 537.96H348V549H343.38z"/>
<path class="e" d="M347.51 537.96H352V549H347.51z"/>
<path class="h" d="M351.65 537.96H356V549H351.65z"/>
<path class="g" d="M355.79 537.96H360V549H355.79z"/>
<path class="f" d="M359.93 537.96H365V549H359.93z"/>
<path class="g" d="M364.06 537.96H369V549H364.06z"/>
<path class="f" d="M368.2 537.96H373V549H368.2z"/>
<path class="g" d="M372.34 537.96H381V549H372.34z"/>
<path class="h" d="M380.61 537.96H385V549H380.61z"/>
<path class="g" d="M384.75 537.96H389V549H384.75z"/>
<path class="f" d="M388.89 537.96H394V549H388.89z"/>
<path class="h" d="M393.03 537.96H398V549H393.03z"/>
<path class="g" d="M397.16 537.96H402V549H397.16z"/>
<path class="h" d="M401.3 537.96H414V549H401.3z"/>
<path class="g" d="M413.71 537.96H431V549H413.71z"/>
<path class="h" d="M430.26 537.96H439V549H430.26z"/>
<path class="i" d="M438.54 537.96H443V549H438.54z"/>
<path class="h" d="M442.68 537.96H464V549H442.68z"/>
<path class="g" d="M463.36 537.96H468V549H463.36z"/>
<path class="i" d="M467.5 537.96H476V549H467.5z"/>
<path class="h" d="M475.78 537.96H518V549H475.78z"/>
<path class="g" d="M517.15 537.96H522V549H517.15z"/>
<path class="h" d="M521.29 537.96H530V549H521.29z"/>
<path class="g" d="M529.56 537.96H534V549H529.56z"/>
<path class="h" d="M533.7 537.96H542V549H533.7z"/>
<path class="i" d="M541.98 537.96H547V549H541.98z"/>
<path class="h" d="M546.11 537.96H576V549H546.11z"/>
<path class="i" d="M575.08 537.96H580V549H575.08z"/>
<path class="h" d="M579.21 537.96H588V549H579.21z"/>
<path class="i" d="M587.49 537.96H592V549H587.49z"/>
<path class="h" d="M591.62 537.96H633V549H591.62z"/>
<path class="b" d="M136.5 548.52H141V560H136.5z"/>
<path class="e" d="M140.64 548.52H145V560H140.64z"/>
<path class="a" d="M144.78 548.52H158V560H144.78z"/>
<path class="d" d="M157.19 548.52H166V560H157.19z"/>
<path class="a" d="M165.46 548.52H178V560H165.46z"/>
<path class="c" d="M177.88 548.52H187V560H177.88z"/>
<path class="d" d="M186.15 548.52H191V560H186.15z"/>
<path class="a" d="M190.29 548.52H199V560H190.29z"/>
<path class="c" d="M198.56 548.52H203V560H198.56z"/>
<path class="d" d="M202.7 548.52H207V560H202.7z"/>
<path class="g" d="M206.84 548.52H211V560H206.84z"/>
<path class="d" d="M210.98 548.52H216V560H210.98z"/>
<path class="a" d="M215.11 548.52H220V560H215.11z"/>
<path class="e" d="M219.25 548.52H224V560H219.25z"/>
<path class="d" d="M223.39 548.52H228V560H223.39z"/>
<path class="e" d="M227.53 548.52H232V560H227.53z"/>
<path class="f" d="M231.66 548.52H245V560H231.66z"/>
<path class="g" d="M244.07 548.52H249V560H244.07z"/>
<path class="b" d="M248.21 548.52H253V560H248.21z"/>
<path class="f" d="M252.35 548.52H261V560H252.35z"/>
<path class="e" d="M260.62 548.52H265V560H260.62z"/>
<path class="b" d="M264.76 548.52H269V560H264.76z"/>
<path class="f" d="M268.9 548.52H274V560H268.9z"/>
<path class="b" d="M273.04 548.52H278V560H273.04z"/>
<path class="f" d="M277.18 548.52H282V560H277.18z"/>
<path class="g" d="M281.31 548.52H286V560H281.31z"/>
<path class="e" d="M285.45 548.52H290V560H285.45z"/>
<path class="d" d="M289.59 548.52H298V560H289.59z"/>
<path class="f" d="M297.86 548.52H302V560H297.86z"/>
<path class="g" d="M302 548.52H307V560H302z"/>
<path class="f" d="M306.14 548.52H327V560H306.14z"/>
<path class="h" d="M326.83 548.52H331V560H326.83z"/>
<path class="f" d="M330.96 548.52H336V560H330.96z"/>
<path class="g" d="M335.1 548.52H340V560H335.1z"/>
<path class="f" d="M339.24 548.52H344V560H339.24z"/>
<path class="h" d="M343.38 548.52H352V560H343.38z"/>
<path class="f" d="M351.65 548.52H356V560H351.65z"/>
<path class="h" d="M355.79 548.52H360V560H355.79z"/>
<path class="g" d="M359.93 548.52H369V560H359.93z"/>
<path class="h" d="M368.2 548.52H373V560H368.2z"/>
<path class="g" d="M372.34 548.52H377V560H372.34z"/>
<path class="f" d="M376.48 548.52H381V560H376.48z"/>
<path class="h" d="M380.61 548.52H385V560H380.61z"/>
<path class="g" d="M384.75 548.52H398V560H384.75z"/>
<path class="h" d="M397.16 548.52H406V560H397.16z"/>
<path class="g" d="M405.44 548.52H410V560H405.44z"/>
<path class="h" d="M409.57 548.52H414V560H409.57z"/>
<path class="g" d="M413.71 548.52H427V560H413.71z"/>
<path class="h" d="M426.12 548.52H443V560H426.12z"/>
<path class="g" d="M442.68 548.52H447V560H442.68z"/>
<path class="h" d="M446.81 548.52H514V560H446.81z"/>
<path class="g" d="M513.01 548.52H518V560H513.01z"/>
<path class="h" d="M517.15 548.52H534V560H517.15z"/>
<path class="g" d="M533.7 548.52H538V560H533.7z"/>
<path class="h" d="M537.84 548.52H633V560H537.84z"/>
<path class="i" d="M136.5 559.08H141V570H136.5z"/>
<path class="j" d="M140.64 559.08H145V570H140.64z"/>
<path class="a" d="M144.78 559.08H149V570H144.78z"/>
<path class="c" d="M148.91 559.08H154V570H148.91z"/>
<path class="b" d="M153.05 559.08H162V570H153.05z"/>
<path class="a" d="M161.32 559.08H166V570H161.32z"/>
<path class="b" d="M165.46 559.08H170V570H165.46z"/>
<path class="a" d="M169.6 559.08H178V570H169.6z"/>
<path class="c" d="M177.88 559.08H183V570H177.88z"/>
<path class="b" d="M182.01 559.08H187V570H182.01z"/>
<path class="c" d="M186.15 559.08H191V570H186.15z"/>
<path class="b" d="M190.29 559.08H195V570H190.29z"/>
<path class="a" d="M194.43 559.08H199V570H194.43z"/>
<path class="b" d="M198.56 559.08H207V570H198.56z"/>
<path class="e" d="M206.84 559.08H211V570H206.84z"/>
<path class="d" d="M210.98 559.08H220V570H210.98z"/>
<path class="c" d="M219.25 559.08H224V570H219.25z"/>
<path class="e" d="M223.39 559.08H228V570H223.39z"/>
<path class="d" d="M227.53 559.08H232V570H227.53z"/>
<path class="e" d="M231.66 559.08H236V570H231.66z"/>
<path class="c" d="M235.8 559.08H240V570H235.8z"/>
<path class="d" d="M239.94 559.08H245V570H239.94z"/>
<path class="c" d="M244.07 559.08H253V570H244.07z"/>
<path class="b" d="M252.35 559.08H257V570H252.35z"/>
<path class="c" d="M256.49 559.08H261V570H256.49z"/>
<path class="b" d="M260.62 559.08H265V570H260.62z"/>
<path class="e" d="M264.76 559.08H269V570H264.76z"/>
<path class="c" d="M268.9 559.08H274V570H268.9z"/>
<path class="f" d="M273.04 559.08H278V570H273.04z"/>
<path class="e" d="M277.18 559.08H282V570H277.18z"/>
<path class="d" d="M281.31 559.08H286V570H281.31z"/>
<path class="e" d="M285.45 559.08H290V570H285.45z"/>
<path class="d" d="M289.59 559.08H298V570H289.59z"/>
<path class="h" d="M297.86 559.08H302V570H297.86z"/>
<path class="f" d="M302 559.08H311V570H302z"/>
<path class="e" d="M310.27 559.08H315V570H310.27z"/>
<path class="f" d="M314.41 559.08H319V570H314.41z"/>
<path class="g" d="M318.55 559.08H327V570H318.55z"/>
<path class="f" d="M326.83 559.08H331V570H326.83z"/>
<path class="e" d="M330.96 559.08H336V570H330.96z"/>
<path class="f" d="M335.1 559.08H348V570H335.1z"/>
<path class="e" d="M347.51 559.08H352V570H347.51z"/>
<path class="g" d="M351.65 559.08H356V570H351.65z"/>
<path class="h" d="M355.79 559.08H365V570H355.79z"/>
<path class="g" d="M364.06 559.08H369V570H364.06z"/>
<path class="f" d="M368.2 559.08H373V570H368.2z"/>
<path class="e" d="M372.34 559.08H377V570H372.34z"/>
<path class="f" d="M376.48 559.08H381V570H376.48z"/>
<path class="e" d="M380.61 559.08H385V570H380.61z"/>
<path class="g" d="M384.75 559.08H394V570H384.75z"/>
<path class="h" d="M393.03 559.08H398V570H393.03z"/>
<path class="g" d="M397.16 559.08H406V570H397.16z"/>
<path class="h" d="M405.44 559.08H410V570H405.44z"/>
<path class="i" d="M409.57 559.08H414V570H409.57z"/>
<path class="h" d="M413.71 559.08H418V570H413.71z"/>
<path class="g" d="M417.85 559.08H427V570H417.85z"/>
<path class="h" d="M426.12 559.08H476V570H426.12z"/>
<path class="i" d="M475.78 559.08H480V570H475.78z"/>
<path class="h" d="M479.91 559.08H489V570H479.91z"/>
<path class="i" d="M488.19 559.08H493V570H488.19z"/>
<path class="h" d="M492.32 559.08H501V570H492.32z"/>
<path class="i" d="M500.6 559.08H505V570H500.6z"/>
<path class="h" d="M504.74 559.08H538V570H504.74z"/>
<path class="i" d="M537.84 559.08H542V570H537.84z"/>
<path class="h" d="M541.98 559.08H596V570H541.98z"/>
<path class="i" d="M595.76 559.08H600V570H595.76z"/>
<path class="h" d="M599.9 559.08H617V570H599.9z"/>
<path class="i" d="M616.45 559.08H621V570H616.45z"/>
<path class="h" d="M620.59 559.08H633V570H620.59z"/>
<path class="c" d="M136.5 569.64H145V581H136.5z"/>
<path class="b" d="M144.78 569.64H149V581H144.78z"/>
<path class="c" d="M148.91 569.64H154V581H148.91z"/>
<path class="b" d="M153.05 569.64H162V581H153.05z"/>
<path class="c" d="M161.32 569.64H183V581H161.32z"/>
<path class="b" d="M182.01 569.64H187V581H182.01z"/>
<path class="c" d="M186.15 569.64H191V581H186.15z"/>
<path class="b" d="M190.29 569.64H195V581H190.29z"/>
<path class="c" d="M194.43 569.64H199V581H194.43z"/>
<path class="b" d="M198.56 569.64H203V581H198.56z"/>
<path class="c" d="M202.7 569.64H211V581H202.7z"/>
<path class="g" d="M210.98 569.64H216V581H210.98z"/>
<path class="c" d="M215.11 569.64H224V581H215.11z"/>
<path class="d" d="M223.39 569.64H228V581H223.39z"/>
<path class="e" d="M227.53 569.64H232V581H227.53z"/>
<path class="a" d="M231.66 569.64H236V581H231.66z"/>
<path class="c" d="M235.8 569.64H245V581H235.8z"/>
<path class="d" d="M244.07 569.64H249V581H244.07z"/>
<path class="c" d="M248.21 569.64H265V581H248.21z"/>
<path class="d" d="M264.76 569.64H269V581H264.76z"/>
<path class="g" d="M268.9 569.64H274V581H268.9z"/>
<path class="e" d="M273.04 569.64H282V581H273.04z"/>
<path class="d" d="M281.31 569.64H286V581H281.31z"/>
<path class="e" d="M285.45 569.64H294V581H285.45z"/>
<path class="g" d="M293.73 569.64H298V581H293.73z"/>
<path class="e" d="M297.86 569.64H302V581H297.86z"/>
<path class="f" d="M302 569.64H307V581H302z"/>
<path class="g" d="M306.14 569.64H311V581H306.14z"/>
<path class="f" d="M310.27 569.64H319V581H310.27z"/>
<path class="g" d="M318.55 569.64H327V581H318.55z"/>
<path class="f" d="M326.83 569.64H331V581H326.83z"/>
<path class="g" d="M330.96 569.64H340V581H330.96z"/>
<path class="h" d="M339.24 569.64H344V581H339.24z"/>
<path class="f" d="M343.38 569.64H348V581H343.38z"/>
<path class="h" d="M347.51 569.64H356V581H347.51z"/>
<path class="g" d="M355.79 569.64H369V581H355.79z"/>
<path class="e" d="M368.2 569.64H373V581H368.2z"/>
<path class="d" d="M372.34 569.64H377V581H372.34z"/>
<path class="g" d="M376.48 569.64H381V581H376.48z"/>
<path class="f" d="M380.61 569.64H385V581H380.61z"/>
<path class="h" d="M384.75 569.64H402V581H384.75z"/>
<path class="g" d="M401.3 569.64H406V581H401.3z"/>
<path class="h" d="M405.44 569.64H410V581H405.44z"/>
<path class="i" d="M409.57 569.64H414V581H409.57z"/>
<path class="h" d="M413.71 569.64H418V581H413.71z"/>
<path class="g" d="M417.85 569.64H427V581H417.85z"/>
<path class="h" d="M426.12 569.64H431V581H426.12z"/>
<path class="g" d="M430.26 569.64H439V581H430.26z"/>
<path class="h" d="M438.54 569.64H443V581H438.54z"/>
<path class="i" d="M442.68 569.64H447V581H442.68z"/>
<path class="h" d="M446.81 569.64H464V581H446.81z"/>
<path class="i" d="M463.36 569.64H468V581H463.36z"/>
<path class="h" d="M467.5 569.64H489V581H467.5z"/>
<path class="i" d="M488.19 569.64H493V581H488.19z"/>
<path class="h" d="M492.32 569.64H501V581H492.32z"/>
<path class="i" d="M500.6 569.64H505V581H500.6z"/>
<path class="h" d="M504.74 569.64H509V581H504.74z"/>
<path class="g" d="M508.88 569.64H518V581H508.88z"/>
<path class="i" d="M517.15 569.64H522V581H517.15z"/>
<path class="h" d="M521.29 569.64H551V581H521.29z"/>
<path class="i" d="M550.25 569.64H555V581H550.25z"/>
<path class="h" d="M554.39 569.64H580V581H554.39z"/>
<path class="g" d="M579.21 569.64H584V581H579.21z"/>
<path class="h" d="M583.35 569.64H617V581H583.35z"/>
<path class="i" d="M616.45 569.64H621V581H616.45z"/>
<path class="h" d="M620.59 569.64H629V581H620.59z"/>
<path class="i" d="M628.86 569.64H633V581H628.86z"/>
<path class="b" d="M136.5 580.2H141V591H136.5z"/>
<path class="e" d="M140.64 580.2H145V591H140.64z"/>
<path class="a" d="M144.78 580.2H149V591H144.78z"/>
<path class="b" d="M148.91 580.2H158V591H148.91z"/>
<path class="a" d="M157.19 580.2H166V591H157.19z"/>
<path class="b" d="M165.46 580.2H170V591H165.46z"/>
<path class="a" d="M169.6 580.2H178V591H169.6z"/>
<path class="d" d="M177.88 580.2H183V591H177.88z"/>
<path class="e" d="M182.01 580.2H187V591H182.01z"/>
<path class="f" d="M186.15 580.2H191V591H186.15z"/>
<path class="e" d="M190.29 580.2H195V591H190.29z"/>
<path class="a" d="M194.43 580.2H199V591H194.43z"/>
<path class="d" d="M198.56 580.2H203V591H198.56z"/>
<path class="f" d="M202.7 580.2H207V591H202.7z"/>
<path class="i" d="M206.84 580.2H211V591H206.84z"/>
<path class="d" d="M210.98 580.2H216V591H210.98z"/>
<path class="b" d="M215.11 580.2H220V591H215.11z"/>
<path class="c" d="M219.25 580.2H228V591H219.25z"/>
<path class="h" d="M227.53 580.2H232V591H227.53z"/>
<path class="g" d="M231.66 580.2H236V591H231.66z"/>
<path class="h" d="M235.8 580.2H240V591H235.8z"/>
<path class="i" d="M239.94 580.2H245V591H239.94z"/>
<path class="h" d="M244.07 580.2H249V591H244.07z"/>
<path class="f" d="M248.21 580.2H253V591H248.21z"/>
<path class="e" d="M252.35 580.2H261V591H252.35z"/>
<path class="c" d="M260.62 580.2H269V591H260.62z"/>
<path class="h" d="M268.9 580.2H274V591H268.9z"/>
<path class="f" d="M273.04 580.2H278V591H273.04z"/>
<path class="d" d="M277.18 580.2H282V591H277.18z"/>
<path class="c" d="M281.31 580.2H286V591H281.31z"/>
<path class="d" d="M285.45 580.2H290V591H285.45z"/>
<path class="f" d="M289.59 580.2H294V591H289.59z"/>
<path class="c" d="M293.73 580.2H298V591H293.73z"/>
<path class="e" d="M297.86 580.2H307V591H297.86z"/>
<path class="f" d="M306.14 580.2H311V591H306.14z"/>
<path class="g" d="M310.27 580.2H319V591H310.27z"/>
<path class="f" d="M318.55 580.2H327V591H318.55z"/>
<path class="d" d="M326.83 580.2H331V591H326.83z"/>
<path class="a" d="M330.96 580.2H336V591H330.96z"/>
<path class="f" d="M335.1 580.2H344V591H335.1z"/>
<path class="h" d="M343.38 580.2H348V591H343.38z"/>
<path class="g" d="M347.51 580.2H352V591H347.51z"/>
<path class="f" d="M351.65 580.2H356V591H351.65z"/>
<path class="h" d="M355.79 580.2H360V591H355.79z"/>
<path class="e" d="M359.93 580.2H365V591H359.93z"/>
<path class="g" d="M364.06 580.2H369V591H364.06z"/>
<path class="f" d="M368.2 580.2H373V591H368.2z"/>
<path class="g" d="M372.34 580.2H377V591H372.34z"/>
<path class="e" d="M376.48 580.2H381V591H376.48z"/>
<path class="i" d="M380.61 580.2H385V591H380.61z"/>
<path class="g" d="M384.75 580.2H389V591H384.75z"/>
<path class="e" d="M388.89 580.2H394V591H388.89z"/>
<path class="h" d="M393.03 580.2H402V591H393.03z"/>
<path class="i" d="M401.3 580.2H406V591H401.3z"/>
<path class="g" d="M405.44 580.2H410V591H405.44z"/>
<path class="h" d="M409.57 580.2H414V591H409.57z"/>
<path class="g" d="M413.71 580.2H418V591H413.71z"/>
<path class="h" d="M417.85 580.2H422V591H417.85z"/>
<path class="f" d="M421.99 580.2H427V591H421.99z"/>
<path class="h" d="M426.12 580.2H431V591H426.12z"/>
<path class="i" d="M430.26 580.2H435V591H430.26z"/>
<path class="h" d="M434.4 580.2H439V591H434.4z"/>
<path class="i" d="M438.54 580.2H443V591H438.54z"/>
<path class="h" d="M442.68 580.2H447V591H442.68z"/>
<path class="i" d="M446.81 580.2H451V591H446.81z"/>
<path class="h" d="M450.95 580.2H456V591H450.95z"/>
<path class="i" d="M455.09 580.2H460V591H455.09z"/>
<path class="h" d="M459.23 580.2H464V591H459.23z"/>
<path class="g" d="M463.36 580.2H468V591H463.36z"/>
<path class="h" d="M467.5 580.2H493V591H467.5z"/>
<path class="g" d="M492.32 580.2H497V591H492.32z"/>
<path class="f" d="M496.46 580.2H501V591H496.46z"/>
<path class="g" d="M500.6 580.2H505V591H500.6z"/>
<path class="d" d="M504.74 580.2H509V591H504.74z"/>
<path class="e" d="M508.88 580.2H514V591H508.88z"/>
<path class="g" d="M513.01 580.2H526V591H513.01z"/>
<path class="f" d="M525.42 580.2H530V591H525.42z"/>
<path class="g" d="M529.56 580.2H534V591H529.56z"/>
<path class="f" d="M533.7 580.2H538V591H533.7z"/>
<path class="g" d="M537.84 580.2H542V591H537.84z"/>
<path class="h" d="M541.98 580.2H555V591H541.98z"/>
<path class="g" d="M554.39 580.2H559V591H554.39z"/>
<path class="h" d="M558.53 580.2H567V591H558.53z"/>
<path class="i" d="M566.8 580.2H571V591H566.8z"/>
<path class="h" d="M570.94 580.2H592V591H570.94z"/>
<path class="i" d="M591.62 580.2H605V591H591.62z"/>
<path class="h" d="M604.04 580.2H613V591H604.04z"/>
<path class="i" d="M612.31 580.2H617V591H612.31z"/>
<path class="h" d="M616.45 580.2H621V591H616.45z"/>
<path class="i" d="M620.59 580.2H625V591H620.59z"/>
<path class="h" d="M624.73 580.2H629V591H624.73z"/>
<path class="g" d="M628.86 580.2H633V591H628.86z"/>
<path class="c" d="M136.5 590.76H141V602H136.5z"/>
<path class="d" d="M140.64 590.76H145V602H140.64z"/>
<path class="a" d="M144.78 590.76H149V602H144.78z"/>
<path class="c" d="M148.91 590.76H158V602H148.91z"/>
<path class="d" d="M157.19 590.76H162V602H157.19z"/>
<path class="h" d="M161.32 590.76H166V602H161.32z"/>
<path class="f" d="M165.46 590.76H170V602H165.46z"/>
<path class="b" d="M169.6 590.76H183V602H169.6z"/>
<path class="c" d="M182.01 590.76H187V602H182.01z"/>
<path class="b" d="M186.15 590.76H195V602H186.15z"/>
<path class="e" d="M194.43 590.76H199V602H194.43z"/>
<path class="f" d="M198.56 590.76H203V602H198.56z"/>
<path class="d" d="M202.7 590.76H207V602H202.7z"/>
<path class="e" d="M206.84 590.76H211V602H206.84z"/>
<path class="f" d="M210.98 590.76H216V602H210.98z"/>
<path class="e" d="M215.11 590.76H220V602H215.11z"/>
<path class="g" d="M219.25 590.76H224V602H219.25z"/>
<path class="b" d="M223.39 590.76H236V602H223.39z"/>
<path class="c" d="M235.8 590.76H240V602H235.8z"/>
<path class="e" d="M239.94 590.76H245V602H239.94z"/>
<path class="d" d="M244.07 590.76H249V602H244.07z"/>
<path class="e" d="M248.21 590.76H253V602H248.21z"/>
<path class="g" d="M252.35 590.76H265V602H252.35z"/>
<path class="e" d="M264.76 590.76H269V602H264.76z"/>
<path class="g" d="M268.9 590.76H274V602H268.9z"/>
<path class="f" d="M273.04 590.76H278V602H273.04z"/>
<path class="e" d="M277.18 590.76H282V602H277.18z"/>
<path class="b" d="M281.31 590.76H286V602H281.31z"/>
<path class="e" d="M285.45 590.76H290V602H285.45z"/>
<path class="g" d="M289.59 590.76H298V602H289.59z"/>
<path class="d" d="M297.86 590.76H302V602H297.86z"/>
<path class="e" d="M302 590.76H307V602H302z"/>
<path class="g" d="M306.14 590.76H311V602H306.14z"/>
<path class="i" d="M310.27 590.76H315V602H310.27z"/>
<path class="f" d="M314.41 590.76H323V602H314.41z"/>
<path class="e" d="M322.69 590.76H327V602H322.69z"/>
<path class="b" d="M326.83 590.76H336V602H326.83z"/>
<path class="h" d="M335.1 590.76H340V602H335.1z"/>
<path class="g" d="M339.24 590.76H348V602H339.24z"/>
<path class="c" d="M347.51 590.76H352V602H347.51z"/>
<path class="h" d="M351.65 590.76H360V602H351.65z"/>
<path class="d" d="M359.93 590.76H369V602H359.93z"/>
<path class="g" d="M368.2 590.76H377V602H368.2z"/>
<path class="f" d="M376.48 590.76H381V602H376.48z"/>
<path class="h" d="M380.61 590.76H398V602H380.61z"/>
<path class="f" d="M397.16 590.76H402V602H397.16z"/>
<path class="g" d="M401.3 590.76H406V602H401.3z"/>
<path class="a" d="M405.44 590.76H410V602H405.44z"/>
<path class="c" d="M409.57 590.76H414V602H409.57z"/>
<path class="d" d="M413.71 590.76H418V602H413.71z"/>
<path class="f" d="M417.85 590.76H422V602H417.85z"/>
<path class="e" d="M421.99 590.76H427V602H421.99z"/>
<path class="h" d="M426.12 590.76H443V602H426.12z"/>
<path class="i" d="M442.68 590.76H451V602H442.68z"/>
<path class="h" d="M450.95 590.76H468V602H450.95z"/>
<path class="i" d="M467.5 590.76H472V602H467.5z"/>
<path class="h" d="M471.64 590.76H476V602H471.64z"/>
<path class="i" d="M475.78 590.76H480V602H475.78z"/>
<path class="h" d="M479.91 590.76H485V602H479.91z"/>
<path class="i" d="M484.05 590.76H493V602H484.05z"/>
<path class="h" d="M492.32 590.76H505V602H492.32z"/>
<path class="g" d="M504.74 590.76H514V602H504.74z"/>
<path class="h" d="M513.01 590.76H518V602H513.01z"/>
<path class="i" d="M517.15 590.76H522V602H517.15z"/>
<path class="h" d="M521.29 590.76H526V602H521.29z"/>
<path class="i" d="M525.42 590.76H530V602H525.42z"/>
<path class="g" d="M529.56 590.76H534V602H529.56z"/>
<path class="h" d="M533.7 590.76H538V602H533.7z"/>
<path class="g" d="M537.84 590.76H547V602H537.84z"/>
<path class="h" d="M546.11 590.76H555V602H546.11z"/>
<path class="i" d="M554.39 590.76H559V602H554.39z"/>
<path class="h" d="M558.53 590.76H576V602H558.53z"/>
<path class="i" d="M575.08 590.76H580V602H575.08z"/>
<path class="h" d="M579.21 590.76H592V602H579.21z"/>
<path class="i" d="M591.62 590.76H600V602H591.62z"/>
<path class="h" d="M599.9 590.76H629V602H599.9z"/>
<path class="i" d="M628.86 590.76H633V602H628.86z"/>
<path class="b" d="M136.5 601.32H141V612H136.5z"/>
<path class="d" d="M140.64 601.32H145V612H140.64z"/>
<path class="a" d="M144.78 601.32H154V612H144.78z"/>
<path class="c" d="M153.05 601.32H158V612H153.05z"/>
<path class="b" d="M157.19 601.32H178V612H157.19z"/>
<path class="c" d="M177.88 601.32H183V612H177.88z"/>
<path class="b" d="M182.01 601.32H187V612H182.01z"/>
<path class="c" d="M186.15 601.32H191V612H186.15z"/>
<path class="a" d="M190.29 601.32H195V612H190.29z"/>
<path class="b" d="M194.43 601.32H211V612H194.43z"/>
<path class="g" d="M210.98 601.32H216V612H210.98z"/>
<path class="d" d="M215.11 601.32H224V612H215.11z"/>
<path class="e" d="M223.39 601.32H228V612H223.39z"/>
<path class="f" d="M227.53 601.32H232V612H227.53z"/>
<path class="b" d="M231.66 601.32H236V612H231.66z"/>
<path class="d" d="M235.8 601.32H249V612H235.8z"/>
<path class="b" d="M248.21 601.32H257V612H248.21z"/>
<path class="c" d="M256.49 601.32H265V612H256.49z"/>
<path class="d" d="M264.76 601.32H269V612H264.76z"/>
<path class="h" d="M268.9 601.32H274V612H268.9z"/>
<path class="f" d="M273.04 601.32H282V612H273.04z"/>
<path class="d" d="M281.31 601.32H286V612H281.31z"/>
<path class="e" d="M285.45 601.32H290V612H285.45z"/>
<path class="f" d="M289.59 601.32H294V612H289.59z"/>
<path class="g" d="M293.73 601.32H298V612H293.73z"/>
<path class="f" d="M297.86 601.32H302V612H297.86z"/>
<path class="g" d="M302 601.32H319V612H302z"/>
<path class="h" d="M318.55 601.32H323V612H318.55z"/>
<path class="g" d="M322.69 601.32H327V612H322.69z"/>
<path class="f" d="M326.83 601.32H331V612H326.83z"/>
<path class="g" d="M330.96 601.32H340V612H330.96z"/>
<path class="h" d="M339.24 601.32H344V612H339.24z"/>
<path class="g" d="M343.38 601.32H348V612H343.38z"/>
<path class="h" d="M347.51 601.32H360V612H347.51z"/>
<path class="g" d="M359.93 601.32H373V612H359.93z"/>
<path class="f" d="M372.34 601.32H377V612H372.34z"/>
<path class="g" d="M376.48 601.32H385V612H376.48z"/>
<path class="h" d="M384.75 601.32H633V612H384.75z"/>
<path class="b" d="M136.5 611.88H141V623H136.5z"/>
<path class="d" d="M140.64 611.88H145V623H140.64z"/>
<path class="a" d="M144.78 611.88H154V623H144.78z"/>
<path class="c" d="M153.05 611.88H158V623H153.05z"/>
<path class="a" d="M157.19 611.88H162V623H157.19z"/>
<path class="b" d="M161.32 611.88H178V623H161.32z"/>
<path class="c" d="M177.88 611.88H183V623H177.88z"/>
<path class="b" d="M182.01 611.88H187V623H182.01z"/>
<path class="c" d="M186.15 611.88H191V623H186.15z"/>
<path class="a" d="M190.29 611.88H195V623H190.29z"/>
<path class="b" d="M194.43 611.88H211V623H194.43z"/>
<path class="g" d="M210.98 611.88H216V623H210.98z"/>
<path class="d" d="M215.11 611.88H224V623H215.11z"/>
<path class="e" d="M223.39 611.88H228V623H223.39z"/>
<path class="f" d="M227.53 611.88H232V623H227.53z"/>
<path class="b" d="M231.66 611.88H236V623H231.66z"/>
<path class="d" d="M235.8 611.88H249V623H235.8z"/>
<path class="b" d="M248.21 611.88H257V623H248.21z"/>
<path class="d" d="M256.49 611.88H261V623H256.49z"/>
<path class="c" d="M260.62 611.88H265V623H260.62z"/>
<path class="d" d="M264.76 611.88H269V623H264.76z"/>
<path class="h" d="M268.9 611.88H274V623H268.9z"/>
<path class="f" d="M273.04 611.88H282V623H273.04z"/>
<path class="e" d="M281.31 611.88H290V623H281.31z"/>
<path class="f" d="M289.59 611.88H294V623H289.59z"/>
<path class="g" d="M293.73 611.88H298V623H293.73z"/>
<path class="f" d="M297.86 611.88H302V623H297.86z"/>
<path class="g" d="M302 611.88H327V623H302z"/>
<path class="f" d="M326.83 611.88H331V623H326.83z"/>
<path class="g" d="M330.96 611.88H340V623H330.96z"/>
<path class="h" d="M339.24 611.88H344V623H339.24z"/>
<path class="g" d="M343.38 611.88H348V623H343.38z"/>
<path class="h" d="M347.51 611.88H356V623H347.51z"/>
<path class="g" d="M355.79 611.88H373V623H355.79z"/>
<path class="f" d="M372.34 611.88H377V623H372.34z"/>
<path class="g" d="M376.48 611.88H385V623H376.48z"/>
<path class="h" d="M384.75 611.88H418V623H384.75z"/>
<path class="g" d="M417.85 611.88H422V623H417.85z"/>
<path class="h" d="M421.99 611.88H633V623H421.99z"/>
<path class="b" d="M136.5 622.44H141V633H136.5z"/>
<path class="d" d="M140.64 622.44H145V633H140.64z"/>
<path class="a" d="M144.78 622.44H154V633H144.78z"/>
<path class="c" d="M153.05 622.44H158V633H153.05z"/>
<path class="a" d="M157.19 622.44H162V633H157.19z"/>
<path class="b" d="M161.32 622.44H174V633H161.32z"/>
<path class="a" d="M173.74 622.44H178V633H173.74z"/>
<path class="c" d="M177.88 622.44H183V633H177.88z"/>
<path class="b" d="M182.01 622.44H187V633H182.01z"/>
<path class="c" d="M186.15 622.44H191V633H186.15z"/>
<path class="a" d="M190.29 622.44H195V633H190.29z"/>
<path class="b" d="M194.43 622.44H199V633H194.43z"/>
<path class="c" d="M198.56 622.44H211V633H198.56z"/>
<path class="g" d="M210.98 622.44H216V633H210.98z"/>
<path class="d" d="M215.11 622.44H224V633H215.11z"/>
<path class="e" d="M223.39 622.44H228V633H223.39z"/>
<path class="f" d="M227.53 622.44H232V633H227.53z"/>
<path class="b" d="M231.66 622.44H236V633H231.66z"/>
<path class="d" d="M235.8 622.44H249V633H235.8z"/>
<path class="b" d="M248.21 622.44H253V633H248.21z"/>
<path class="a" d="M252.35 622.44H257V633H252.35z"/>
<path class="d" d="M256.49 622.44H261V633H256.49z"/>
<path class="c" d="M260.62 622.44H265V633H260.62z"/>
<path class="e" d="M264.76 622.44H269V633H264.76z"/>
<path class="h" d="M268.9 622.44H274V633H268.9z"/>
<path class="f" d="M273.04 622.44H282V633H273.04z"/>
<path class="e" d="M281.31 622.44H290V633H281.31z"/>
<path class="f" d="M289.59 622.44H294V633H289.59z"/>
<path class="g" d="M293.73 622.44H298V633H293.73z"/>
<path class="f" d="M297.86 622.44H302V633H297.86z"/>
<path class="g" d="M302 622.44H327V633H302z"/>
<path class="f" d="M326.83 622.44H331V633H326.83z"/>
<path class="g" d="M330.96 622.44H340V633H330.96z"/>
<path class="h" d="M339.24 622.44H344V633H339.24z"/>
<path class="g" d="M343.38 622.44H348V633H343.38z"/>
<path class="h" d="M347.51 622.44H356V633H347.51z"/>
<path class="g" d="M355.79 622.44H373V633H355.79z"/>
<path class="f" d="M372.34 622.44H377V633H372.34z"/>
<path class="g" d="M376.48 622.44H385V633H376.48z"/>
<path class="h" d="M384.75 622.44H418V633H384.75z"/>
<path class="g" d="M417.85 622.44H422V633H417.85z"/>
<path class="h" d="M421.99 622.44H633V633H421.99z"/>
</g>
<g fill="none" stroke="#000" stroke-width="1" stroke-linecap="butt" stroke-linejoin="miter">
<path d="M138.6 131.4V70.6H142.7V131.4M151 131.4V98.1H155.1V131.4M146.8 131.4V79.3H153.1V98.1M159.3 131.4V93.3H163.4V131.4M171.7 131.4V103.6H175.8V131.4M167.5 131.4V87.6H173.7V103.6M184.1 131.4V107.8H188.2V131.4M179.9 131.4V98.7H186.2V107.8M196.5 131.4V106.3H200.6V131.4M192.4 131.4V104.1H198.6V106.3M183 98.7V92.5H195.5V104.1M170.6 87.6V86.1H189.3V92.5M161.3 93.3V80.5H179.9V86.1M149.9 79.3V64.7H170.6V80.5M204.8 131.4V92.5H208.9V131.4M217.2 131.4V96.6H221.3V131.4M213 131.4V90.3H219.2V96.6M206.8 92.5V76.7H216.1V90.3M225.5 131.4V92.1H229.6V131.4M242 131.4V105.9H246.1V131.4M237.9 131.4V98.5H244.1V105.9M233.7 131.4V91.3H241V98.5M227.5 92.1V80.3H237.4V91.3M211.5 76.7V66.5H232.4V80.3M258.6 131.4V111.9H262.7V131.4M254.4 131.4V98.1H260.6V111.9M250.3 131.4V87.6H257.5V98.1M275.1 131.4V102.3H279.2V131.4M271 131.4V94.6H277.2V102.3M283.4 131.4V99.6H287.5V131.4M291.7 131.4V104.4H295.8V131.4M304.1 131.4V104.4H308.2V131.4M299.9 131.4V97.3H306.1V104.4M293.7 104.4V90.9H303V97.3M285.5 99.6V87.3H298.4V90.9M274.1 94.6V84.2H291.9V87.3M266.8 131.4V78.5H283V84.2M253.9 87.6V72.5H274.9V78.5M222 66.5V64H264.4V72.5M160.3 64.7V50.5H243.2V64M140.6 70.6V40.4H201.7V50.5M320.6 131.4V113.8H324.8V131.4M316.5 131.4V95.8H322.7V113.8M312.3 131.4V87.6H319.6V95.8M328.9 131.4V93.3H333V131.4M337.2 131.4V105.1H341.3V131.4M349.6 131.4V103.3H353.7V131.4M345.4 131.4V99.6H351.6V103.3M339.2 105.1V94.3H348.5V99.6M362 131.4V105.3H366.1V131.4M357.9 131.4V101.1H364.1V105.3M378.5 131.4V109.6H382.7V131.4M374.4 131.4V107.8H380.6V109.6M370.3 131.4V102.9H377.5V107.8M361 101.1V92.4H373.9V102.9M343.9 94.3V89.4H367.4V92.4M331 93.3V82.3H355.7V89.4M316 87.6V71H343.3V82.3M391 131.4V104.4H395.1V131.4M386.8 131.4V99.6H393V104.4M399.2 131.4V103.3H403.4V131.4M407.5 131.4V111.3H411.6V131.4M419.9 131.4V108.7H424.1V131.4M415.8 131.4V108.1H422V108.7M409.6 111.3V98.4H418.9V108.1M401.3 103.3V90.3H414.2V98.4M389.9 99.6V86.4H407.8V90.3M428.2 131.4V111.6H432.3V131.4M436.5 131.4V106.3H440.6V131.4M448.9 131.4V119.1H453V131.4M457.2 131.4V123.6H461.3V131.4M451 119.1V113.8H459.2V123.6M444.7 131.4V109.6H455.1V113.8M473.7 131.4V121.3H477.8V131.4M469.6 131.4V117.3H475.8V121.3M465.4 131.4V113.4H472.7V117.3M482 131.4V114.6H486.1V131.4M498.5 131.4V118H502.7V131.4M494.4 131.4V114.1H500.6V118M490.3 131.4V111.6H497.5V114.1M484.1 114.6V108.6H493.9V111.6M469.1 113.4V106.3H489V108.6M449.9 109.6V103.6H479V106.3M438.5 106.3V99.3H464.5V103.6M430.3 111.6V94.3H451.5V99.3M506.8 131.4V116.1H510.9V131.4M523.4 131.4V118.3H527.5V131.4M519.2 131.4V115.6H525.4V118.3M515.1 131.4V112.3H522.3V115.6M535.8 131.4V117.5H539.9V131.4M548.2 131.4V121.5H552.3V131.4M544 131.4V118.4H550.2V121.5M537.8 117.5V115.1H547.1V118.4M531.6 131.4V111.8H542.5V115.1M518.7 112.3V108.8H537.1V111.8M508.9 116.1V105.3H527.9V108.8M556.5 131.4V115.8H560.6V131.4M564.7 131.4V118.4H568.9V131.4M577.1 131.4V116.2H581.3V131.4M573 131.4V113.6H579.2V116.2M566.8 118.4V112.7H576.1V113.6M558.5 115.8V110.5H571.5V112.7M589.6 131.4V122.3H593.7V131.4M602 131.4V121H606.1V131.4M597.8 131.4V120.1H604V121M591.6 122.3V118.8H600.9V120.1M610.2 131.4V118.8H614.4V131.4M618.5 131.4V121H622.7V131.4M626.8 131.4V121.5H630.9V131.4M620.6 121V118H628.9V121.5M612.3 118.8V116.2H624.7V118M596.3 118.8V115.6H618.5V116.2M585.4 131.4V110.1H607.4V115.6M565 110.5V105H596.4V110.1M518.4 105.3V100.3H580.7V105M440.9 94.3V85.8H549.5V100.3M398.8 86.4V75.5H495.2V85.8M329.6 71V43.5H447V75.5M171.2 40.4V0.5H388.3V43.5"/>
<path d="M131.6 142H116.2V152.5H131.6M116.2 147.3H115.4V163.1H131.6M115.4 155.2H110.6V173.7H131.6M131.6 184.2H113.7V194.8H131.6M110.6 164.4H107.6V189.5H113.7M131.6 205.3H114.7V215.9H131.6M107.6 177H101.8V210.6H114.7M131.6 226.5H114.6V237H131.6M114.6 231.7H109.8V247.6H131.6M131.6 258.1H113.7V268.7H131.6M109.8 239.7H106.5V263.4H113.7M106.5 251.5H100.5V279.3H131.6M101.8 193.8H96.1V265.4H100.5M131.6 289.8H122V300.4H131.6M122 295.1H113.7V310.9H131.6M113.7 303H108.8V321.5H131.6M108.8 312.3H106.8V332.1H131.6M131.6 342.6H106.3V353.2H131.6M106.8 322.2H95.2V347.9H106.3M96.1 229.6H86.5V335H95.2M131.6 363.7H119.5V374.3H131.6M86.5 282.3H63.4V369H119.5M131.6 384.9H125.5V395.4H131.6M131.6 406H121.7V416.5H131.6M125.5 390.1H99.2V411.2H121.7M131.6 427.1H106.8V437.6H131.6M99.2 400.7H92.8V432.4H106.8M92.8 416.5H85.3V448.2H131.6M131.6 458.8H122.8V469.3H131.6M122.8 464H106.5V479.9H131.6M131.6 490.4H100.7V501H131.6M106.5 472H96.4V495.7H100.7M85.3 432.4H76.6V483.8H96.4M131.6 511.6H105.5V522.1H131.6M76.6 458.1H59.7V516.8H105.5M63.4 325.7H32.6V487.5H59.7M131.6 532.7H123.3V543.2H131.6M123.3 538H105.5V553.8H131.6M131.6 564.4H111.3V574.9H131.6M105.5 545.9H103.5V569.6H111.3M103.5 557.8H95.6V585.5H131.6M95.6 571.6H89.5V596H131.6M131.6 606.6H129.9V617.2H131.6M129.9 611.9H128.8V627.7H131.6M89.5 583.8H83.7V619.8H128.8M32.6 406.6H0.5V601.8H83.7"/>
</g>
<g font-size="9">
<text x="640" y="145.2">AGER</text>
<text x="640" y="155.7">TNNC1</text>
<text x="640" y="166.3">CA4</text>
<text x="640" y="176.9">ADRB1</text>
<text x="640" y="187.4">EDNRB</text>
<text x="640" y="198">CD36</text>
<text x="640" y="208.5">FAM107A</text>
<text x="640" y="219.1">MT1M</text>
<text x="640" y="229.7">AGER</text>
<text x="640" y="240.2">CLIC5</text>
<text x="640" y="250.8">FABP4</text>
<text x="640" y="261.3">FCN3</text>
<text x="640" y="271.9">TMEM100</text>
<text x="640" y="282.5">WIF1</text>
<text x="640" y="293">GPM6A</text>
<text x="640" y="303.6">GPM6A</text>
<text x="640" y="314.1">STXBP6</text>
<text x="640" y="324.7">SLC6A4</text>
<text x="640" y="335.3">SOSTDC1</text>
<text x="640" y="345.8">GKN2</text>
<text x="640" y="356.4">CLDN18</text>
<text x="640" y="366.9">RTKN2</text>
<text x="640" y="377.5">NCKAP5</text>
<text x="640" y="388.1">TOX3</text>
<text x="640" y="398.6">TOX3</text>
<text x="640" y="409.2">HS6ST2</text>
<text x="640" y="419.7">HS6ST2</text>
<text x="640" y="430.3">COL10A1</text>
<text x="640" y="440.8">COL10A1</text>
<text x="640" y="451.4">SPINK1</text>
<text x="640" y="462">COL11A1</text>
<text x="640" y="472.5">COL11A1</text>
<text x="640" y="483.1">GREM1</text>
<text x="640" y="493.6">MMP12</text>
<text x="640" y="504.2">MMP1</text>
<text x="640" y="514.8">SPP1</text>
<text x="640" y="525.3">CTHRC1</text>
<text x="640" y="535.9">ADH1B</text>
<text x="640" y="546.4">ADH1B</text>
<text x="640" y="557">AQP4</text>
<text x="640" y="567.6">CLDN18</text>
<text x="640" y="578.1">SFTPC</text>
<text x="640" y="599.2">SCGB1A1</text>
<text x="640" y="609.8">SFTPC</text>
<text x="640" y="620.4">SFTPC</text>
<text x="640" y="630.9">SFTPC</text>
</g>
<g font-size="8.3" text-anchor="end">
<text transform="translate(141.7 639.8) rotate(-90)">Cancer</text>
<text transform="translate(149.9 639.8) rotate(-90)">Ctl</text>
<text transform="translate(158.2 639.8) rotate(-90)">Cancer</text>
<text transform="translate(166.5 639.8) rotate(-90)">Cancer</text>
<text transform="translate(174.8 639.8) rotate(-90)">Cancer</text>
<text transform="translate(183 639.8) rotate(-90)">Cancer</text>
<text transform="translate(191.3 639.8) rotate(-90)">Cancer</text>
<text transform="translate(199.6 639.8) rotate(-90)">Cancer</text>
<text transform="translate(207.9 639.8) rotate(-90)">Ctl</text>
<text transform="translate(216.1 639.8) rotate(-90)">Cancer</text>
<text transform="translate(224.4 639.8) rotate(-90)">Cancer</text>
<text transform="translate(232.7 639.8) rotate(-90)">Cancer</text>
<text transform="translate(241 639.8) rotate(-90)">Cancer</text>
<text transform="translate(249.2 639.8) rotate(-90)">Cancer</text>
<text transform="translate(257.5 639.8) rotate(-90)">Cancer</text>
<text transform="translate(265.8 639.8) rotate(-90)">Cancer</text>
<text transform="translate(274.1 639.8) rotate(-90)">Cancer</text>
<text transform="translate(282.3 639.8) rotate(-90)">Cancer</text>
<text transform="translate(290.6 639.8) rotate(-90)">Cancer</text>
<text transform="translate(298.9 639.8) rotate(-90)">Cancer</text>
<text transform="translate(307.2 639.8) rotate(-90)">Cancer</text>
<text transform="translate(315.4 639.8) rotate(-90)">Cancer</text>
<text transform="translate(323.7 639.8) rotate(-90)">Cancer</text>
<text transform="translate(332 639.8) rotate(-90)">Cancer</text>
<text transform="translate(340.3 639.8) rotate(-90)">Cancer</text>
<text transform="translate(348.5 639.8) rotate(-90)">Cancer</text>
<text transform="translate(356.8 639.8) rotate(-90)">Cancer</text>
<text transform="translate(365.1 639.8) rotate(-90)">Cancer</text>
<text transform="translate(373.4 639.8) rotate(-90)">Cancer</text>
<text transform="translate(381.6 639.8) rotate(-90)">Cancer</text>
<text transform="translate(389.9 639.8) rotate(-90)">Ctl</text>
<text transform="translate(398.2 639.8) rotate(-90)">Ctl</text>
<text transform="translate(406.5 639.8) rotate(-90)">Ctl</text>
<text transform="translate(414.7 639.8) rotate(-90)">Ctl</text>
<text transform="translate(423 639.8) rotate(-90)">Ctl</text>
<text transform="translate(431.3 639.8) rotate(-90)">Ctl</text>
<text transform="translate(439.6 639.8) rotate(-90)">Ctl</text>
<text transform="translate(447.8 639.8) rotate(-90)">Cancer</text>
<text transform="translate(456.1 639.8) rotate(-90)">Ctl</text>
<text transform="translate(464.4 639.8) rotate(-90)">Cancer</text>
<text transform="translate(472.7 639.8) rotate(-90)">Ctl</text>
<text transform="translate(480.9 639.8) rotate(-90)">Ctl</text>
<text transform="translate(489.2 639.8) rotate(-90)">Ctl</text>
<text transform="translate(497.5 639.8) rotate(-90)">Ctl</text>
<text transform="translate(505.8 639.8) rotate(-90)">Ctl</text>
<text transform="translate(514 639.8) rotate(-90)">Ctl</text>
<text transform="translate(522.3 639.8) rotate(-90)">Ctl</text>
<text transform="translate(530.6 639.8) rotate(-90)">Ctl</text>
<text transform="translate(538.9 639.8) rotate(-90)">Ctl</text>
<text transform="translate(547.1 639.8) rotate(-90)">Ctl</text>
<text transform="translate(555.4 639.8) rotate(-90)">Ctl</text>
<text transform="translate(563.7 639.8) rotate(-90)">Ctl</text>
<text transform="translate(572 639.8) rotate(-90)">Ctl</text>
<text transform="translate(580.2 639.8) rotate(-90)">Ctl</text>
<text transform="translate(588.5 639.8) rotate(-90)">Ctl</text>
<text transform="translate(596.8 639.8) rotate(-90)">Ctl</text>
<text transform="translate(605.1 639.8) rotate(-90)">Ctl</text>
<text transform="translate(613.3 639.8) rotate(-90)">Ctl</text>
<text transform="translate(621.6 639.8) rotate(-90)">Ctl</text>
<text transform="translate(629.9 639.8) rotate(-90)">Ctl</text>
</g>
</svg>
</body></html>
